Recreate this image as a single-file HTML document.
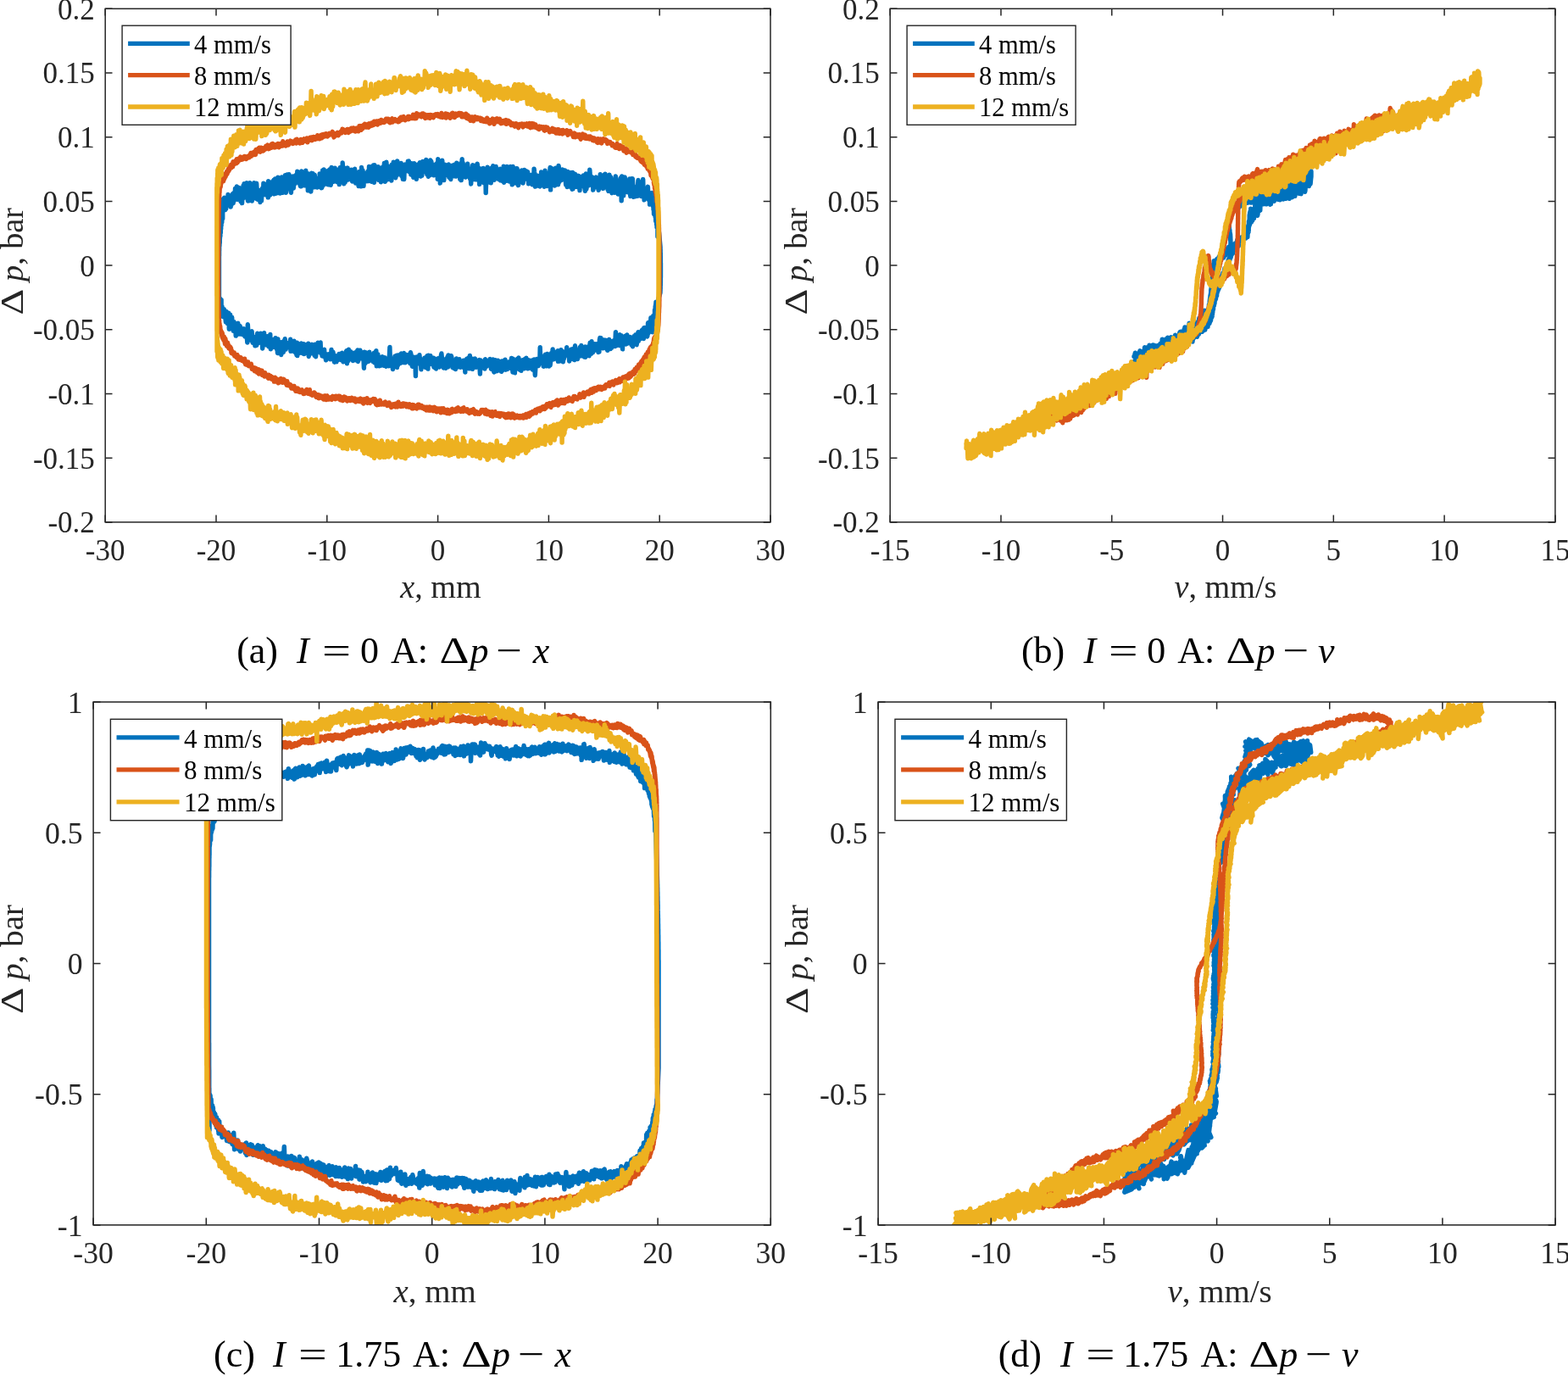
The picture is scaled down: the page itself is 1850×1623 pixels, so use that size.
<!DOCTYPE html>
<html><head><meta charset="utf-8"><title>Figure</title>
<style>html,body{margin:0;padding:0;background:#fff;}svg{display:block;}</style></head>
<body>
<svg width="1850" height="1623" viewBox="0 0 1850 1623" font-family='"Liberation Serif", "Times New Roman", serif' fill="#000">
<defs>
<clipPath id="ca"><rect x="124.20" y="10.30" width="784.80" height="605.60"/></clipPath>
<clipPath id="cb"><rect x="1050.20" y="10.30" width="784.70" height="605.60"/></clipPath>
<clipPath id="cc"><rect x="110.10" y="828.00" width="799.20" height="616.90"/></clipPath>
<clipPath id="cd"><rect x="1036.10" y="828.00" width="799.00" height="616.90"/></clipPath>
</defs>
<rect width="1850" height="1623" fill="#fff"/>
<g clip-path="url(#ca)"><path transform="scale(.1)" d="M2585 3455l0 48 0 52 0-46 0-37 0-18 0 20 0-45 0 124 0-17 0-150 0 132 0-17 0-156 0 60 0 86 0-26 0-80 0 68 0-80 0-12 0-46 0 63 0-36 0 50 0 27 0-119 0-9 0-43 0 120 0 65 0-100 0 93 0-14 0-26 0 3 0-115 0 122 0-95 0 23 0-5 0 15 0-98 0 138 0-156 0-2 0-8 0 30 0-86 0 138 0-41 0-78 0 109 0-120 0 61 0 4 0-48 0-26 0 68 0-55 0-3 0-11 0-11 0 47 0-25 0-31 0 53 0-41 0 123 0-299 0 262 0-146 0 137 0-29 0-113 0 101 0-118 0-11 0 126 0-49 0-9 0-101 0 10 0 62 0-98 0 157 0-104 0 83 0-108 0-8 0-65 0 51 0 85 0 26 0-97 0-12 0-19 0 115 0-196 0 63 0-40 0-7 0 107 0-103 0 65 0-43 0-2 0-53 0 19 0-8 1-54 0 87 0 88 0-13 0-177 0 146 0-149 1 131 0-11 0-113 0-38 0 59 1 5 0-1 0-145 0 134 0 44 1-145 0 119 0-32 0 75 1-15 0-77 0-67 0 114 1-27 0 30 0-48 1 55 0-30 0-108 0-13 1 142 0-97 0-25 1-113 0 148 0-140 0-5 1 178 0-43 0 7 1-41 0-75 0 19 1 36 0-91 0-3 1 12 0 154 1 2 0-85 0 12 1-29 0 17 1-61 0 72 1 0 0-20 1 54 0-16 1-92 0 40 1 1 0-125 1-2 0 10 1 137 1-145 0 49 1-74 0-4 1-25 1 159 0-49 1-41 1 5 0 33 1-71 1 18 0 44 1-117 1 120 1 21 0-109 1 29 1-80 1 54 0 62 1-88 1 41 1-146 1 62 1-9 1 140 1-222 1 90 1-73 1 119 1-69 1-12 1-63 1 60 2-47 1 99 2-34 1-19 2 67 1-60 2-38 2-44 2 12 2 130 3-79 2 82 4-31 3-6 3 24 4-113 3-16 4 24 4-24 4 68 5-108 4 85 4 2 5-72 4-1 5 117 4-57 5 73 5-104 4 81 5-44 4-22 4-65 5 12 4 96 4-118 4 93 5-59 4 32 5-118 4 101 5-57 4-5 5-65 5 127 4 27 5-64 5 28 5 33 5-136 4 81 5 61 5-126 5 147 5-115 5-36 5 170 5-125 5 39 5-121 5 146 5-169 5 16 5 22 5 61 5 27 5-61 4-75 5 96 5 60 5 58 5-65 5 14 5 48 5-170 4-41 5 29 5 106 5-72 5-31 4 182 5-86 5 29 5-108 5 0 5-47 4 176 5-130 5 90 5-73 5 121 5-179 4 76 5-5 5 118 5-14 5-96 5 6 4 62 5-36 5 111 5-104 5-16 5 104 5-119 4-27 5 50 5 22 5-133 5 64 5 9 5-32 4-3 5 99 5-80 5 80 5-48 5-4 5-87 5 169 4-193 5 73 5-10 5-12 5 115 5-90 5-61 5 90 5-3 4-26 5 21 5-99 5 81 5-93 5 167 5-33 5-147 5 174 5-115 5-13 4-24 5 56 5 70 5-165 5 184 5-88 5 81 5-130 5 141 5-14 5-133 5 20 5-63 5 143 4-114 5 154 5-25 5-116 5 118 5-96 5-87 5 134 5 71 5-47 5-115 5-50 5 22 5 65 5-68 5-22 5 161 5-144 5 23 5 134 5 42 5-79 5-93 5 77 5-77 4-22 5 142 5-50 5-49 5-3 5 47 5-53 5-48 5 75 5 6 5-124 5 98 5-33 5 61 5-105 5 121 5-44 5 72 5-132 5 138 5-179 5 69 5-37 5 130 5-122 5 85 5-48 5-22 5 114 5-96 5-81 5 112 5 13 5 42 5-133 5 203 5-58 5-82 5 63 5-88 5 112 5-143 5 208 5-71 4-147 5 133 5-14 5-114 5 154 5-92 5 100 5-147 5 41 5 29 5 36 5-4 5-21 5 68 5-35 5-52 5 9 5-30 5 92 5-145 5 155 5-63 5-41 5 116 5-1 5-18 5-189 5 101 5 73 5-184 5 64 5 17 5-15 5 55 5-28 5 78 5-150 5 135 5-56 5 80 5-5 5-166 5 64 5-76 5 85 5 103 5-33 5-177 5 169 5-117 5 53 5 2 5 62 5-74 5 58 5-144 5 29 5 56 5 19 5-85 5 143 5-107 5-3 5 44 5 27 5 70 5-180 5-18 5 139 5-85 5 114 5-67 5 7 5-166 5 157 5 55 5 37 5-151 5-37 5 170 5-102 5 14 5 40 5-9 4-90 5-23 5 140 5-40 5-68 5 61 5-6 5-59 5 23 5-28 5-2 5 84 5 55 5-25 5-67 5 75 5-57 5-7 5-67 5 140 5 26 5-108 5-15 5 17 5 21 5 24 5 63 5 35 5-168 5 78 5-22 5-20 5 19 5 116 5-224 5 157 5 7 4-130 5 93 5 91 5-139 5 72 5-40 5 17 5 33 5-46 5-51 5 99 5-49 5-70 5 65 5 52 5-172 5 54 5-8 5 17 5 61 5-121 5 175 5-42 5-27 5-97 5-25 5 126 5 75 5-206 5 61 5-30 4 26 5-32 5 2 5 40 5-1 5-38 5-6 5 155 5-114 5-18 5 87 5-20 5 89 5-6 5-69 5-91 5-10 5 3 5 62 5 5 5-116 5 125 5 94 5-75 5-75 5-81 5 143 5-13 5 76 5-114 5-42 5 84 5-2 5 33 5 22 5-33 5-39 5 102 5-187 5 26 5-18 5 85 4-124 5 74 5 30 5-61 5 130 5 12 5-156 5-31 5 156 5-167 5 132 5-52 5 58 5-76 5 70 5-79 5-21 5 126 5-133 5 151 5-57 5 29 5 66 5-41 5-105 5 148 5-166 5-7 5 53 5 11 5 12 5-81 5 10 5 44 5-88 5 0 5-2 5 124 5-21 5-22 5 28 5 51 5-119 5-14 5 54 5 15 5-16 5 111 5-36 5-128 5 10 5 43 5 65 5-23 5 90 5-149 5 62 5 29 5-71 5-47 5 35 5 15 5-71 5 44 5 120 5-19 5-61 5 73 5-56 5-112 5 123 5-52 5-1 5-39 5 62 5-20 5 11 5-104 5 111 5 63 5-127 5 111 5 39 5-63 5 2 5-95 5 141 5-178 5 102 5-89 5 49 5 93 5-106 5 4 5 91 5 36 5-120 5-2 5 30 5 31 5-71 5 42 5-47 5-11 5 192 5-235 5 68 5 10 5 143 5-147 5 209 5-79 5 13 5-56 5-13 5-133 5 207 5-58 5-104 5 188 5-152 5-32 5 111 5 14 5-105 5 72 5-37 5 9 5 10 5 7 5-83 5 149 5-25 5 35 5-6 5 22 5-95 5-52 5 108 5-123 5 83 5 17 5-66 5 92 5-137 5 130 5 4 5 4 5-97 5-60 4 125 5-81 5 91 5-71 5 67 5-62 5 30 5 92 5-100 5-90 5 202 5-151 5-99 5 189 5-144 5 153 5-17 5 25 5-92 5-5 5 106 5-3 5-3 5-119 5-1 5-33 5 51 5 97 5-52 5-32 5 58 5 59 5-21 5 78 5-149 5 35 5-33 5-75 5 86 5-37 5 118 5-123 5 96 5-136 5 165 5-137 5 138 5-21 5-165 5 71 5-24 5 1 5 26 5 168 5-117 5 57 5-99 5-23 5 26 5 65 5-7 5-48 5-44 5 171 5-62 5-7 5 15 5-105 5 279 5-166 5 59 5-69 5-126 5 159 5-125 5 89 5 50 5-86 5-70 5 110 5 59 5-51 5-57 5-75 5 22 5-40 5 82 5 27 5 57 5-88 5 25 5-58 5-38 5 108 5-38 5 1 5 61 5-71 5 87 5-65 5 22 5 52 5-131 5 138 5-116 5 105 5-34 5 51 5-71 5 39 5-140 5 190 5-60 5-64 5 107 5-136 5 98 5 3 5-136 5 141 5-23 5 52 5-83 5 79 5 9 5-76 5-100 5 106 5 0 5 26 5 82 5-159 5-55 5 75 5 23 5 99 5-145 4-17 5 131 5-77 5-65 5 174 5-174 5 75 5 12 5 111 5-92 5-46 5 106 5-84 5-18 5-28 5 102 5-117 5 60 5 33 5 58 5-40 5-89 5-26 5 109 5-60 5 56 5-57 5-35 5 4 5 48 5-42 5 38 5 103 5-49 5 41 5-23 5-42 5-29 5-3 5-1 5 29 5 87 5-39 5-41 5 68 5-176 5 40 5 31 5 139 5-41 5-1 5-71 5 26 5-41 5 118 5-17 5-28 5-37 5 42 5 49 5-111 5 68 5-127 5 93 5-62 5 78 5-50 5 20 5 9 5 84 5-53 5-137 5 159 5-126 5 7 5 66 5 77 5-148 5 87 5-77 5 33 5-37 5-4 5-74 5 264 5-258 5 34 5 33 5 0 5-57 5 76 5-35 5-8 5 17 5 149 5-50 5-158 5 44 5 138 5-127 5 28 5 6 5 107 5-223 5 55 5 134 5-47 5-32 5 23 5-84 5 57 5 61 5-123 5 74 5-21 5-43 5 35 5 10 5-45 5 62 5 107 5-48 5 15 5 61 4-52 5-129 5 96 5-52 5 101 5-19 5-24 5 77 5-167 5 13 5 105 5 77 5-197 5 193 5-99 5-28 5 12 5 93 5-154 5 62 5 41 5-86 5 99 5 38 5-50 5-83 5 118 5-89 5 31 5 113 5-164 5 68 5 17 4-71 5-6 5 54 5-59 5 21 5-37 5 1 5 139 5 9 5 35 5-163 5-41 5 179 5-133 5 13 5 74 5-61 5 17 5 49 4-6 5-178 5 75 5 64 5-9 5-28 5 9 5-25 5 7 5 145 5-28 5-8 5-99 5 86 5-43 5-52 4-5 5 95 5-61 5 84 5-7 5 5 5 36 5-38 5 9 5-49 5-108 5 8 5 58 5-18 4-21 5 25 5-7 5 121 5-133 5 38 5-69 5 141 5-148 5 118 5 2 5 39 4-31 5-33 5 87 5-101 5 120 5-54 5-138 5 182 5-9 5-147 4 170 5-64 5 83 5-95 5 4 5-11 5 25 5 14 5 60 5-41 4-122 5-32 5 39 5 52 5-27 5 64 5-32 5 115 5-129 4-20 5 36 5-11 5 36 5-102 5 41 5 226 5-287 5 157 5-100 5 24 5 147 5-141 5 104 5-181 6 98 5-33 5 31 5 63 5-120 5 70 5 70 5-26 5 7 5-34 5-106 5 131 5 74 5-140 5-67 5 199 5-50 5-151 5 76 4 8 5 133 5-89 5 75 5-86 5 95 5-102 4-5 5 67 5-45 4 81 5-121 5-68 4 94 5-76 5 50 4-25 5 39 4 1 5 29 4 78 4-168 5 32 4 55 4 51 4-170 5 176 4-79 5 146 4-61 5-59 4 72 4-27 5 55 4-8 4-60 5 21 4-68 4-20 4 94 4 57 3-8 4-4 4-54 3 123 3-28 3-44 3 68 3-126 2 36 3 26 2 24 2 29 2-108 2-14 3 15 2 91 2-27 2 5 2 69 1-73 2 42 2-109 2 108 1 78 2 3 2-133 1 179 2-21 1 24 2-141 1-3 1 151 2-77 1-54 1-4 1 25 1-25 1 41 1 74 1 43 1-8 1-43 1-72 1-51 1 186 1 40 1-1 1-156 1 13 1 69 1 2 1 37 1 34 1 18 0-85 1 110 1-224 1 81 1-11 0 56 1 129 1-157 1 134 0-123 1 45 1 34 0 3 1 64 0-45 1-41 0 25 1 31 0 25 1-68 0-33 1 46 0 11 0 159 0-29 1-154 0 5 0 5 0-25 30 312 0 2 0-4 1 18 0-2 0 6 0-2 0 13 0 8 1 1 0 7 0-5 0 17 0 3 0 5 0 8 0 7 1 0 0 10 0 9 0-9 0 11 0-4 0 15 0 10 0-2 1 0 0 8 0 9 0-4 0 5 0 15 0-4 0 12 0-1 0 3 0 17 0 6 0-4 0 20 1-5 0 7 0 3 0-1 0 15 0 1 0 7 0 3 0 3 0 18 0-4 0 2 0 9 0-4 0 13 0 17 0-12 0 11 0-4 0 11 0 11 0-6 0 6 0 15 0 1 0 7 0 4 0-4 0 3 0 4 0 17 0-4 0 3 0 11 0 7-1 7 0-5 0 21 0-7 0 11 0 4 0 12 0 5 0 9 0 9-1 6 0-1 0 4 0-1 0 15 0 6-1 4 0 10 0 1 0 19 0-3 0-2 0 10-1 10 0-8 0 12 0 2 0 8 0 2-1 8 0 7 0 6-50 171 0-24 0-39 0 47-1-40 0 68-1 13 0 26-1-8 0-85-1 24-1 6-1 44 0 33-1-5-1-70-1 32-1 66-1 15-2 42-1-82-1-31-1 132-1 25-2-99-1 28-1 40-2-14-1-7-2 14-1 48-2-3-1-4-1-68-2-24-1 61-2 53-1-89-2 46-2 87-2 36-2-89-2-47-2 13-2 19-2 60-3-2-2 18-3-143-3 76-3 51-2-60-3 26-3 33-3 6-4-53-3 66-3 36-3-124-4 9-3 110-3 37-4 10-3-105-4-1-3 32-4 67-3-61-4-35-3 75-4-59-3-17-4 49-3-47-4 127-3-67-4 62-4-34-4-66-4 61-3-52-4 77-4-41-5 48-4 16-4 0-4-40-4 14-5-51-4 100-4-104-5 44-4 52-5 30-4 23-5-111-5-4-4-1-5 51-5 37-4-25-5-46-5 90-5-68-4 97-5-38-5-63-5 82-4-36-5-30-5 29-5-56-5 63-5-20-4 11-5 3-5-24-5 45-4-104-5 90-5-55-5 76-4-97-5 52-5 22-4-4-5-37-5 62-4-78-5 139-5-89-4 32-5-106-5 40-4 51-5-8-5-91-5 127-4-102-5 50-5 43-5-8-4-64-5-7-5 26-5 65-5-162-4 98-5 71-5-20-5 1-5-31-5 23-4-36-5 9-5 30-5 43-5-34-5-43-5 89-4-28-5-65-5-19-5 5-5 99-5-58-5 83-5-86-5 70-4-100-5 58-5-62-5 71-5-40-5 16-5-51-5 80-5 19-5-78-5 59-5-28-4-18-5-57-5 80-5-82-5 24-5 142-5-52-5 58-5-89-5 52-5-63-5 33-5-10-5 9-4 35-5-66-5 0-5 79-5 1-5-42-5 62-5-27-5 23-5-125-5 143-5-40-5 19-4-107-5 79-5 76-5-25-5-24-5-60-5 53-5 25-5-6-4-14-5-44-5 109-5-123-5 115-5 4-5-57-5-22-4 62-5-40-5-38-5 40-5-78-5 124-5-55-5-49-4 27-5 37-5 3-5-11-5 65-5 20-5-44-5-63-4 35-5 7-5 10-5-103-5 52-5 116-5-67-5-59-4-5-5 82-5-11-5 46-5-113-5 83-5 7-5-2-5 4-4 49-5-95-5 43-5-78-5 4-5 33-5-71-5 56-5 2-4 28-5 6-5-3-5-23-5 70-5-1-5 37-5-89-5-37-4 18-5 7-5-39-5 19-5 56-5 58-5-119-5 61-5-40-5 101-4-127-5 47-5 39-5 0-5-4-5-57-5-6-5 69-5-36-5 49-5-54-4 52-5-116-5 85-5 40-5-83-5 36-5 66-5 45-5-78-5 4-5 85-5-44-5-56-5-27-4-19-5 10-5 16-5 119-5-130-5-5-5 12-5 63-5 53-5 9-5-41-5-55-5 36-5-9-5-5-5 35-5-43-5-141-4 174-5-27-5 32-5 38-5-23-5-45-5 36-5-48-5 35-5 13-5 60-5 84-5-106-5-81-5 29-5 24-5 42-5 25-5-109-5 56-5-54-5 90-5-20-5-55-5 22-5-6-5 56-5-96-5 105-5-11-5-25-5-11-4-81-5 37-5-5-5-19-5 42-5 71-5-45-5-40-5 67-5-82-5 44-5-22-5 105-5-82-5 3-5 44-5 22-5-70-5-71-5 108-5-66-5-28-5 114-5-33-5-40-5-14-5 21-5 117-5-97-5-46-5 60-5-85-5 159-5-114-5-3-5-48-5 123-5-23-5-31-5-27-5 12-5 16-5 4-5-27-5 10-5 73-5-74-5 65-5-18-5 34-5-121-5 50-5 21-5 46-5-102-5 99-5 13-5 5-5-113-5 124-5-83-5-24-5 3-5 91-5-100-5 49-5-3-5-64-5 36-5 7-5 83-5-68-5-47-5-16-5 47-5 53-5 42-5-17-5-83-5-50-5 26-5-23-5 67-5 42-5-84-5-13-5-19-5 68-5-39-5 2-5-6-5 51-5-11-5-43-5 15-5 55-5-76-5-15-5 113-5-85-5 43-5-45-5 16-5 56-5-55-5-7-5 67-5-55-5-36-5 161-5-96-5-70-5 44-5 28-5-54-5 35-5-40-5 15-5 61-5-51-5 45-5-97-5 102-5-66-5-22-6 66-5-78-5 122-5-58-5 49-5-1-5-16-5 2-5-135-5 80-5 73-5-126-5 102-5-62-5-21-5-10-5 22-5-10-5 10-5 137-5-119-5 47-5 20-5-86-5 13-5 27-5-31-5 60-5-23-5-19-5 53-4-46-5-6-5-44-5 93-5-3-5-8-5-20-5 14-5-41-5-41-5 25-5 101-5-67-5 55-5-75-5 73-5-17-5-33-5 42-5-54-5-66-5-17-5 50-5 54-5-84-5-7-5 98-5-6-5-113-5 139-5-119-5 92-5-25-5 47-5 20-5-25-5-77-5 98-5-100-5 102-5-71-5 32-5-78-5 0-5-54-5 22-5 35-5 56-5-8-5 56-5-54-5 16-5-65-5 65-5-49-5-10-5 47-5 69-5-110-5 53-5-1-5-66-5 106-5-110-5 22-5-11-5 45-5 18-5-2-5-55-5-43-5 13-5 63-5-8-5-39-5-34-5 160-5-45-5-109-5 82-5 15-5 31-5 9-5-95-5-17-5 23-5 54-5-63-5 57-5-1-5 4-5-29-5 92-5-114-5 15-5-20-5-54-5 58-5 15-5 20-5 7-5-77-5 4-5 43-5-44-5 223-5-186-5 19-5 11-5 46-5-87-5-29-5 0-5 113-5-28-5-36-5-82-5-19-5 131-5-63-5 20-5 0-5-60-5 83-5-53-5-25-5 69-5-15-5 19-5-84-5 100-5-63-5-28-5-22-5 109-5 0-5-10-5 6-5-36-5-66-5 74-5 42-5-42-5 1-5-28-5-26-5 67-5 54-5-120-5 143-5-141-5 92-5-41-5-8-5-34-5 74-5 6-5 28-5-76-5 121-5-74-5-9-5-39-5 26-5 53-5-47-5-170-5 99-5 22-5 103-5-70-5 47-5-50-5 2-5 68-5 5-5-20-5-2-5-83-5 59-5 38-5-74-5-4-5-13-5-15-5 57-5 47-5-56-5 36-5-50-5-5-5 82-6-66-5-28-5-45-5 24-5 36-5 80-5-183-5 54-5 16-5 29-5 43-5-115-5 71-5-57-5 86-5-22-5-23-4-18-5 10-5-26-5 22-5 32-5-85-5 77-5 32-5-52-5-45-5 75-5 28-5-48-5 54-5-118-5 129-5-93-5-39-5 189-5-124-5-3-5 17-5-71-5 3-5 36-5 28-5-74-5-22-5 84-5-30-5 6-5 52-5 20-5-134-5 13-5 88-5-74-5 55-5 37-5-89-5 71-5-70-5 83-5-46-5 57-5-48-5 34-5-26-5 9-5-78-5 46-5-17-5 50-5-25-5-79-5 133-5-70-5 39-5 65-5-150-5 6-5 89-5-17-5-4-5 35-5-52-5 54-5 19-5-74-5-10-5-21-4 10-5 56-5 16-5-28-5-17-5 35-5-61-5 68-5-43-5 29-5-30-5 42-5 27-5-2-5-2-5-68-5 64-5 12-5-41-5-32-5-44-5 82-5-60-5-15-5-37-5 112-5-49-5 50-5-49-5 40-5-52-5 33-5-21-5 31-4-39-5 15-5 23-5 30-5-22-5-19-5 3-5-89-5 38-5 9-5 1-5 12-5 18-5-57-5 5-5 20-5-128-5 52-5-1-5 23-5 34-5-27-5-79-5 110-5-7-5-8-5 20-5 51-5-55-5-89-5 131-5-101-5 57-5-69-5 90-5-95-5 21-5-34-5 27-4 79-5-94-5 87-5-80-5 84-5 39-5-154-5 24-5-2-5 85-5-63-5 68-5-43-5-4-5-52-5 6-5 106-5-120-5 84-4 15-5 3-5 6-5-112-5-2-5 4-5 94-5-19-5-61-5 98-5-28-5-29-4-6-5 93-5-153-5 146-5-77-5-45-5 93-5-113-5 99-5-125-4 105-5-18-5-66-5 99-5-71-5-32-5 31-5 75-4-141-5 95-5-5-5-3-5 8-5-8-5 5-5-5-4-46-5 22-5-10-5 64-5-73-5-50-5 104-5-57-4 51-5 59-5-45-5-78-5 79-5 19-5 56-5-78-4 52-5-116-5-6-5 39-5 78-5-50-5-105-4 167-5-65-5 18-5-38-5 14-5-107-4 19-5 77-5-57-5-23-5 92-5-47-4 3-5-23-5-25-5 6-5 10-4 97-5-172-5 88-5 57-5-73-4 72-5-110-5 61-5-73-5 8-4 67-5 26-5-95-5 38-4 16-5 20-5-119-5 124-4 3-5 6-5 50-4-162-5 35-5 1-5-31-4-21-5 7-5 42-4-31-5 61-5-32-4 68-5-16-5-100-4 33-5 107-4-57-5-2-5-26-4 92-5-53-4-17-5 38-5-76-4 25-5 48-5-64-5-72-4 31-5 2-5 35-5-28-5 5-5-11-4 72-5-57-5-55-5-74-5 212-5-61-5-46-5-24-5 61-4 2-5-3-5-64-5-10-5-17-5 26-4 28-5 12-5-9-5-21-5 3-4-26-5-34-5-12-4 96-5-25-5-39-4 35-5-100-4 125-5 8-4-38-5-2-4-62-4 118-5-116-4 61-4-1-4-62-4-47-4 16-4 90-4-23-4-12-4-56-4-68-3 43-4-23-4 71-3-47-4 4-3-80-3 96-4 63-3-96-3 108-3-112-3-77-3 78-3 40-3-100-4 105-3-95-3 13-3 44-3-26-3-78-3 76-2 51-3-32-3-99-3 42-3 21-2-70-3 65-3-7-2-74-3 84-2-38-2 2-3-36-2-1-2 77-2-58-2 42-2-2-2-99-2 38-1-11-2-18-2-15-1 104-1-180-1 96-2 90-1-158-1 18-1 63-1-95-1 78-1-74-1 11-2 10-1-50-1 37-1 69-1-51-1-51 0 80-1-34-1 22-1-21-1-52 0-3-1 112-1-57 0 5-1-42 0 107-1-26 0-63 0 23-1-65 0-14 0 51 0-38" stroke="#0072BD" stroke-width="54.0" fill="none" stroke-linejoin="round" stroke-linecap="round"/></g>
<g clip-path="url(#ca)"><path transform="scale(.1)" d="M2576 3319l0-32 0-7 0-18 0 7 0-20 0-10 0-8 0 19 0-27 0-23 0-6 0 18 0-18 0-9 0 10 0 22 0-21 0-30 0 29 0-44 0 22 0-57 0 22 0-17 0 2 0 11 0-19 0-13 0-19 0 41 0-16 0-22 0 19 0-8 0-2 0-30 1-12 0 16 0-10 0-19 0-21 0 20 0-37 0-3 0 6 0-7 0-3 0-6 0-8 0 13 0-5 0-4 0-33 0 25 0-48 0 16 0-11 0-1 0 14 0 2 0-44 0-5 0 28 0-43 0 10 0-15 1 13 0-28 0-17 0 9 0-16 0-27 0 13 0 17 0-7 0-23 0-4 0-4 0-11 0-12 0-4 0-10 0 3 0 11 0-33 0-1 1-6 0 6 0-13 0-38 0 36 0-11 0-25 0-11 0 34 0-6 0-49 0 25 0-31 0 36 0-21 0-1 0-26 0-24 0-8 1 29 0-3 0-4 0-36 0-2 0-1 0 1 0 3 0-15 0-5 0-9 0 15 0-46 0 43 0-31 0 19 1-7 0-27 0 12 0-6 0-25 0-31 0 22 0-26 0 4 0 5 0 3 1-8 0-16 0-9 0 9 0-13 0-13 0-28 0-2 1-12 0 43 0-21 0-8 0-37 0-22 1 5 0 18 0-26 0 21 0 2 1-42 0-1 0 26 0-23 0-16 1 11 0-24 0 6 0-11 1-16 0 23 0-18 0-22 1 35 0-32 0-7 1-6 0-17 1 27 1-20 1-19 0-33 1 28 1-22 2-32 1 36 1-19 1 0 2-16 1 28 1-18 2-12 1-39 2 33 2-14 1-1 2-32 2 0 3 11 2 10 3-6 3-5 3-29 3 2 3 33 4-15 3-8 3-16 3 10 3-43 3 0 4-13 3 32 3-16 3-9 4-28 3 24 4-35 3 29 4-32 3 10 4-31 3 25 4-20 4-27 3 29 4-44 4 3 4 20 4-6 4-35 3 37 4-9 4-20 4 3 5 15 4-61 4 17 4 16 4-28 4 7 5 11 4-1 4-6 5-32 4 37 5-50 4 5 5 33 5-23 5-11 5 3 5-17 5 22 5-6 6-33 5 15 5 17 6-13 5-1 6 11 6-27 5 3 6-12 5 1 6 16 6 9 5 5 6-16 6-12 5 16 6-8 5 1 6 2 5-27 6 0 5-7 6-20 5 38 6-26 5 14 6-23 5 4 6-16 5 31 6-7 5-22 6 27 5-59 6-2 5 31 6-13 5-8 6-20 6 27 5-38 6 0 5 50 6-25 5 1 6-25 5 4 6 23 6 9 5-3 6-28 5 12 6-15 6 15 5-36 6 5 6-10 5 25 6-33 6 38 5 8 6-3 5-14 6-20 6 20 6 3 5-43 6 27 6-33 5 23 6-15 6 14 5 23 6-18 6 16 6-8 5-25 6 21 6-1 6-30 6 21 5 23 6-31 6 12 6-24 6 28 6-22 5 1 6 19 6-53 6 34 6-4 6-10 6 20 5-4 6 16 6-8 6-16 6-27 6 22 6 19 6-20 6-20 6-1 5-7 6 13 6-8 6 23 6-2 6 7 6-23 6-4 6 6 6-17 6 29 6-38 6 42 6-48 5 21 6 6 6-15 6 8 6 4 6 24 6-12 6-34 6 11 6 7 6 21 6-10 6-26 6-8 6 16 6-13 5 8 6 12 6-1 6-31 6 48 6-24 6 9 6-21 6-5 6-15 6 20 5 11 6-34 6 38 6-23 6-8 6-11 6 0 6 2 6 27 5-1 6-28 6 0 6 19 6-38 6 41 6-22 6 18 6 5 5-18 6 13 6-37 6 16 6 15 6-40 6 21 6-22 6 26 5-26 6 15 6 6 6-30 6 3 6 22 6 7 6-12 6-11 5 8 6-21 6 13 6-10 6 0 6 11 6-19 6-14 6 23 5 14 6 28 6-25 6-15 6 22 6-3 6-26 6 4 6-12 5 15 6 18 6-19 6-3 6-6 6-12 6-7 6 20 6-14 5-34 6 33 6-16 6 11 6-16 6 20 6 11 5-11 6-8 6 4 6-25 6 13 6 27 6-5 6-36 5 27 6-18 6 15 6-36 6 30 6-17 6 0 5-16 6 35 6 0 6-28 6 35 6-4 5-36 6 17 6 3 6-14 6 31 6-8 5-53 6 19 6-21 6 32 6 15 6-25 5 9 6-1 6-38 6-3 6 0 6-11 5 2 6 35 6 0 6 0 6-33 6 33 5-15 6 16 6-43 6 12 6 18 6-3 6-1 5-34 6 31 6-34 6 17 6 9 6-41 5 34 6-15 6 3 6 7 6-32 6 13 5 29 6-31 6-13 6 20 6 0 6-13 6 17 6-36 5 7 6-2 6 16 6 6 6-18 6 21 6-7 6-4 5-5 6-27 6 16 6 3 6-18 6-1 6 32 6-1 6-12 5 27 6-11 6-3 6-30 6-6 6 42 6-12 6-15 6-3 5 6 6-11 6 22 6 2 6-2 6-8 6 4 6 15 6-13 6 8 6-35 5 10 6 1 6-27 6 35 6-13 6-15 6 2 6-15 6 25 6-3 6 20 6-17 6 2 5-9 6 4 6 4 6-28 6 33 6-32 6 9 6 3 6 1 6-9 6 16 6-11 6 9 6-41 6 30 6-21 5 37 6-37 6 9 6 27 6-59 6 16 6-8 6 25 6-14 6 3 6-10 6 9 6 14 6 5 6-21 6-16 6 31 6-33 6 35 6-20 6 33 6 7 6-41 6 23 6-4 6 15 6-30 6 29 6-28 5 33 6 3 6-39 6 16 6 9 6-22 6 2 6 5 6 23 7-19 6-14 6 2 5 4 6-14 6 16 6-9 6 12 6-21 6 18 6 9 6-3 6 10 6 1 6-16 6-29 6 32 6 18 6-26 6 21 6-5 6 4 6-10 6-29 6 51 6-25 6-11 6-10 6 6 6 22 6 5 6-5 6 20 6-15 6-12 6-25 6 9 6-18 6 15 6 33 6-12 6 17 6-33 6-11 6 7 6 17 6-9 6 5 6-4 6-23 6 14 6-3 6-10 6 16 6-13 6 40 6-33 6 33 6-25 6 17 6-7 6 2 6 16 6-39 6 20 6 33 6-5 6-32 5 26 6 21 6-28 6 19 6 27 6-34 6 9 6-19 6 4 6 10 6 35 6-10 6-17 6-24 6 19 6-6 6 3 6 14 6-22 6 14 6 3 6 5 6-15 6 8 6-7 5 32 6-6 6-19 6 20 6 8 6-8 6 11 6-19 6 19 6 4 6-11 6 13 6-45 6 14 6 31 6-14 6-10 6 45 6-29 6 21 5-25 6-1 6-5 6-19 6 36 6-14 6 41 6-47 6 3 6 19 6-35 6 27 6-32 6 39 6-18 6-8 6 10 6-18 6 42 5-21 6 33 6-8 6-8 6-13 6 23 6-27 6-2 6 3 6-6 6-3 6 47 6-10 6-28 6-3 6 1 6 3 6 30 6 0 6-15 5 13 6 23 6-20 6 19 6 1 6-19 6 14 6-6 6 26 6-27 6-7 6 29 6-26 6 25 6 8 6 13 6-28 6 0 6-14 6-1 6 14 6-17 6-1 6 17 6 22 6-34 6 16 6-18 6 17 5 2 6-14 6 6 6-15 6 31 6-7 6-19 6 32 6-42 6 5 6 48 6-46 6 7 6-12 6 44 6-15 6-25 6 38 6-27 6 30 5-31 6 17 6 21 6-1 6 8 6-5 6-10 6 26 6-35 6 5 6 5 6 4 6-9 5 11 6 7 6-11 6-5 6 39 6 4 6-20 6 15 6-38 6 4 5 29 6-27 6 21 6-5 6 18 6 20 6-20 6 6 5-16 6 11 6 11 6-37 6 29 6-20 6 33 5-30 6 15 6 11 6 19 6-10 6 10 6-43 5 0 6-1 6 24 6 25 6-2 6-30 5 8 6-13 6 35 6 7 6-45 6 12 5 9 6-6 6 16 6-16 6 18 6 0 5-31 6 27 6 28 6-31 6 11 6-13 5 12 6-25 6 23 6 11 6-5 6 7 5 13 6 20 6-29 6-15 6 3 6 45 5-30 6 7 6-7 6 18 6-18 6 24 5 0 6-26 6 12 6 29 6 14 6-53 5 0 6 10 6-19 6 43 6-23 6 16 6 13 5-38 6 42 6-8 6-7 6 16 6-17 6 3 5-8 6 6 6 22 6-31 6 14 6 10 6 3 5-14 6 33 6 1 6 3 6-29 6 7 6 8 5 17 6 2 6-18 6 33 6 4 6-47 5 36 6-20 6 27 6-24 6-15 5 27 6 22 6-20 6-18 5 5 6-18 6 23 6-2 5-11 6-2 6 18 5-12 6 8 6 34 6-18 5 3 6-5 6 12 6-11 5 1 6 16 6-3 6 4 5 24 6-20 6 21 6-8 5 2 6 4 6 24 5 2 6-9 6 4 6-42 5 33 6 18 6-22 5 4 6 28 6-41 5 5 6 7 5-3 6 14 5 8 6-13 5 2 6 45 5-20 6-3 5 18 6-15 5-7 5 50 6-20 5-8 5-7 5 10 6 12 5-1 5-3 5-3 5 0 5 5 5 13 5-9 5-13 5 12 5 34 5-14 5 12 5-25 5 1 5 21 5 28 5-3 4 10 5-4 5 10 5-12 4 8 5-4 5-12 4 29 5 6 4-26 5 20 4 26 4-28 5 39 4-10 4 9 4 10 4-42 4 24 4 0 4-10 4 6 4 50 4-30 4 34 4-26 4 26 4-12 4 27 3-13 4-27 4 26 3 41 4-24 3 26 4-24 3 23 3-6 3 31 3-28 3 10 2 0 3 5 3 32 2 3 3 32 2-38 3 0 2 17 3 1 2 23 2 16 2-17 2 27 3-18 2 28 1-5 2 11 2 2 2-8 2 8 1-6 2 48 1-9 1 13 2 19 1-20 2 9 1 8 1-8 1 49 2-10 1-14 1 12 1 14 1 37 2-20 1-12 1 13 1 14 1 1 1 14 1 15 1 20 1-11 1-2 0-1 1 3 1 18 1 15 1-12 0 9 1-8 1 36 1-17 0 38 1-30 1 42 0-17 1 6 0 14 1-34 1 7 0 17 1 23 0-11 1 34 1-22 0 27 1-15 0 16 1-19 0 36 1-33 0 41 1-14 0 2 1 19 0-13 1 38 0-8 1 26 0 8 1-6 0 2 1 2 0-10 1 51 0-24 1 15 0 19 0 3 1-4 0 15 1 28 0-18 1 46 0 2 0-30 1 26 0 16 0-4 0-16 1 47 0-17 0 17 0 25 1-45 0 45 0 4 0-27 1 23 0 16 0-23 0 14 0 3 0 26 1 12 0-11 0 28 0-27 0 23 0 10 0 6 1-24 0 20 0-3 0 11 0 28 0-24 0 24 1-30 0 41 0 5 0-33 0 30 0-7 0 31 0-15 1-2 0 48 0-37 0 56 0-19 0-27 0 40 0 15 0-30 0 53 1 10 0-38 0 26 0 12 0 18 0-31 0 22 0 24 0 18 0-24 0 40 0-23 0 25 0-6 0 8 0-2 0 16 0-2 0-6 0 20 0-22 0 25 0 13 0-14 0 25 0 13 0-5 0 18 0-20 0 4 0 2 0 14 0 7 0 19 0 25 0 3 0-23 0-8 0 9 0 17 0 47 0-39 0 11 0-7 0 11 0 2 0 36 0-7 0-9 0 40 0-17 0 38 0-27 0 57 0-14 0 22 0-40 0 5 0 33 0-22 0 14 0 14 0-1 0 46 0-6 0-12 0 26 0-27 0-6 0 26 0 33 0 3 0-7 0 14 0-25 0-5 0 42 0-3 0-3 0 19 0 9 0-2 0-17 0 38 0-8 0-8 0 44 0 12 0-31 0 23 0 7 0-12 0 4 0 42-1-6 0 5 0 9 0 13 0-26 0 33 0 26 0-25 0 20 0-13-1 38 0-26 0 4 0 23 0-1 0 45 0-36-1 28 0-2 0-22 0-3 0 51-1-3 0-13 0 2 0 29 0-16-1 46 0 7 0-6 0-11 0-1-1 2 0 4 0 16-1 2 0 1 0 28 0-22-1 57 0 8 0 2-1 3 0 3 0 8-1 25 0 5 0-12-1 14 0-10 0 25-1-5 0 21-1-4 0-12-1 12 0-16-1 5 0 25 0 2-1 32-1-10-1 21-1 3-1 0-1-2-2 0-2 9-1 27-2 12-2-11-2 25-2 5-2-32-2 39-2-18-2 9-2 23-3 13-2-22-2 28-2-32-2 33-2-2-3 43-2-58-2 11-2 18-2 17-3 12-2-1-2 15-3 13-2-7-3 6-2 20-3 3-3 12-2 12-3-31-3 35-3-32-2 27-3 18-3-33-3 48-3-33-3 4-2 21-3 5-3 25-3-13-3 12-3-23-3 15-3 21-3-2-3-1-3 2-3 31-3-36-3 56-3-9-3 5-3-20-3 40-3-45-4 33-3-20-3 40-3-14-4 36-3-39-3 5-4 23-3 34-3-36-4-6-3 20-4-7-3 41-4-4-3 15-4 21-4-30-3 27-4-45-4 45-4-23-4 28-4-6-4 21-4-33-4 25-4 22-4-1-4 5-5-30-4 52-5-7-4 15-5-24-4-6-5 9-5 3-5 20-4 10-5 9-5 7-5-40-5 37-5-32-5 55-5-43-5 32-5-22-5 14-5 24-5-5-5-23-5 30-5-27-5 32-5-13-5 5-5 13-5-28-5 44-5-8-5-18-6 13-5-6-5 17-5 14-6-39-5 6-5 10-6 24-5 8-5-7-6 9-5-7-6-25-5 31-6-12-5 8-6-7-5 35-6-19-5-21-6 28-5-3-6-17-5 10-6 9-6 27-5-42-6 24-6 3-5 4-6 9-6 1-5-16-6 0-6 15-5 27-6-23-6 14-5-6-6 20-6-12-6 6-5 16-6-13-6-19-6 6-5 5-6 16-6-27-6 1-5 12-6 9-6 4-6 17-6-27-5 17-6-16-6 29-6 12-5-39-6 27-6-12-6 38-5-29-6-12-6 20-5-3-6 25-6 12-6-2-5-13-6-11-6 27-5-18-6 19-6-5-5-5-6 19-6 25-5-54-6 24-6 6-6 7-5 4-6 17-6 4-5-28-6-15-6 40-6 2-5-9-6 7-6 21-6-6-5-11-6 13-6-10-6-20-5 13-6-13-6 29-6 0-5 30-6-33-6 4-6 15-6-15-5-4-6 24-6-35-6 22-5-5-6 26-6-10-6-5-6-10-5 11-6 23-6 14-6-33-6-7-5 39-6-12-6 7-6-23-5-12-6 30-6 14-6-10-6-10-5 21-6 21-6-12-6-50-5 36-6-15-6-4-6 19-5 21-6-31-6 24-6 1-5-23-6 37-6-29-6 24-5 25-6-36-6 1-6-13-5 34-6-4-6-19-5 21-6-21-6 15-5 28-6-3-6-13-5 32-6-33-6 20-5 1-6-17-5 12-6 22-6-10-5-10-6 12-5 25-6-32-6 26-5-4-6-2-5-14-6 17-6 9-5 23-6-37-5 7-6 6-6 10-5 7-6-8-5 23-6-24-6 19-5-4-6 22-6 9-5-33-6 44-6-10-5-26-6 28-6-3-5-5-6 27-6-39-5 20-6 10-6-17-6 13-6 21-5-31-6 7-6-1-6 10-6-4-6 15-6-22-6 22-5 1-6-21-6 9-6-7-6-8-6 22-7-6-6-7-6 8-6 13-6-41-6 2-6-11-6 20-6-21-6 34-6 14-6-19-6 5-6-31-6 29-6-32-6 43-6-7-6-28-6-1-6 40-6-6-6-4-6-11-6-24-6 16-6-6-6-10-6 17-6-1-6-22-6 7-6 31-6-39-6 19-6-19-6 29-6-15-6 14-6-26-6 15-6-36-6 33-6-4-6-19-6-4-6 49-6-53-6 40-6-11-5 16-6-43-6-3-6 15-6-16-6-4-6 27-6 8-6-22-6-10-6-22-6 48-6-35-6 8-6-11-6-7-6 15-6 0-6-15-6 23-6 9-6 10-6 4-6-16-6 2-6-2-6 15-6-23-6-4-6 3-6 17-6 8-6-38-6-5-6-13-6 31-6-18-6 14-6 11-6-26-6 19-6 5-6 11-6-20-6-12-6 18-6-32-6 13-6-2-6 10-6-14-6 7-6-6-6-27-6 46-6-19-6-16-6 18-6-13-6 30-6-24-6 5-6-8-6-6-6-14-6 43-6-8-6-23-6 14-6 23-6-17-6-5-6 10-6-9-6 16-6 9-6-37-6 44-6-11-6-4-6 21-6 4-6-36-6 9-6 25-6-43-6 43-6-37-6 26-6-30-6-1-6 33-5-4-6-44-6 21-6 13-6-23-6-11-6 51-6-26-6-1-6-21-6 25-6-23-6 28-6-32-6 40-6-26-6-15-6-8-6 18-6-25-6 1-6 45-6-41-6 33-6-33-6 7-6 17-6 9-6-41-6 13-6 27-5-8-6-9-6-22-6 1-6 37-6-19-6 2-6-19-6 20-6-23-6-1-6-4-6 16-6-26-6 16-6-8-6 14-6-21-6-13-6 33-6-34-5 40-6-4-6 11-6-29-6 7-6-9-6 14-6-24-6-1-6 42-6-45-6 44-6-5-6-12-6-25-6 5-6-14-6 17-6 16-6-11-6-20-6 17-6 10-6-32-6 12-6-9-6 4-6-11-6 9-5 23-6-31-6 21-6-7-6 20-6-13-6-15-6-5-6 22-6-43-6 46-6 12-6-43-6 34-6-28-6 37-6-21-6-11-6 20-6-18-6 23-6-21-6 8-6 27-6-32-6 14-6-1-6-38-6 2-6 21-6 2-6 10-6-25-6 0-6-9-6-10-6 7-6 24-6-6-6 2-6 0-6-8-6 10-6-22-6-4-6-21-6 17-6 34-6-16-6-3-6-22-6 45-6-35-6 28-6-43-6-19-6 14-6 5-6-23-6 13-6 19-6-22-6 15-6 7-5 8-6 11-6-13-6-14-6-15-6 35-6 5-6-55-6 48-6-35-6 16-6-7-6 30-6-42-6 53-6-21-6-31-6 34-6-21-6-9-6-11-6 34-6-24-6 22-6-22-6-2-6 15-6-5-6 5-6 15-6-10-6-31-6 14-6 13-6-14-6-2-6 10-6-28-6 22-6 1-5 10-6-11-6-17-6-1-6 3-6 12-6 18-6-15-6-12-6-15-6 15-6 11-6-34-6 16-6 12-6 19-6-39-6 22-6-3-6-6-5 17-6-46-6 0-6 12-6-10-6 27-6-23-6 20-6-25-6 12-6 23-5-9-6-18-6 21-6-24-6-3-6 22-6 16-6-10-6-12-5-2-6 1-6 20-6 2-6-8-6-23-6-12-6 17-5 30-6-41-6-5-6 38-6-25-6 29-6-38-6 28-6-21-5-5-6-6-6 3-6 7-6 11-6-30-6 37-6-31-5-10-6 14-6 8-6 5-6-17-6-25-6 11-5-23-6 11-6 4-6 12-6 7-6-6-5-4-6-7-6 4-6-52-6 27-5-10-6 28-6-8-6-11-6-30-5 8-6 27-6 10-6-3-5-12-6 21-6-1-6-25-5-6-6-14-6 9-6-6-5 20-6 3-6-17-5-5-6-3-6-17-5 34-6-36-6 32-5-1-6 1-6-29-5 12-6-41-5 31-6-30-6 6-5-5-6 2-5 21-6-32-5-10-6 14-6-19-5 12-6-17-5 19-6-8-5-43-6 46-6-31-5 12-6-21-5 10-6-33-5 28-6-35-5 2-6 39-5-38-6 0-5 21-6-30-5 17-6 26-5-16-6 6-5 19-6-17-5-13-6-18-5 5-6 4-5 21-6-47-5 47-5 1-6-34-5 13-6-10-5-6-5-18-6 25-5-13-6-22-5 18-5 8-6-3-5-37-5 40-6-38-5 7-5 2-6 5-5-2-5-21-5-17-6 42-5-13-5-25-5 8-6-22-5 37-5-53-5 39-5-42-5 12-6 0-5-14-5 11-5 32-5-52-5 34-5-34-5 36-5-24-5-7-5-19-6 21-5-26-5 38-5-39-5 14-5-6-5-2-5-9-5 19-5-34-5-27-5 22-5-1-5-4-5-12-5 9-6 9-5-46-5 34-5 1-5-11-5-11-5-9-5 25-5-44-5-23-5 40-5-22-5 11-5-19-5 13-5-20-5 18-5-24-5-12-5 8-5 0-5 8-5 9-4-32-5 31-5-33-4-7-5-16-5 34-4-21-5-12-4 5-5 5-4-19-5 24-4-42-4 8-5 12-4-9-4-18-4 8-4-18-4 4-4 19-4-53-4-12-4 8-4-19-3 0-4 17-3-15-4 20-4-40-3 19-4 1-3-50-4 26-3 2-4 12-3-39-3-15-4 13-3 5-3-51-4 63-3-26-3-21-3 9-3-50-2 18-3 26-3-14-2-3-3-4-2 0-2-10-2-48-2 3-2 35-1-49-2 27-2-25-1 29-2-24-2-8-1-4-2-19-1 14-2-11-1-3-2 20-1-12-1-26-2-36-1 12-1 12-1-24-2 13-1-36-1-7-1 26-1-30-1 13 0-41-1-8-1 25-1-35 0 24-1-36 0 1 0 22-1-18 0-18 0-1 0-4 0-30-1 1 0 2 0-14 0 1 0-11 0-4-1-11 0 22 0 10 0-15 0-13 0 6 0-11 0-9-1 2 0-10 0-32 0 1 0-3 0-23 0 34 0-5-1-34 0 20 0-34 0 27 0 5 0-11 0-3 0-61 0 7 0 50 0-62-1 35 0-20 0-26 0 11 0 5 0-16 0 8 0-29 0-24 0 19 0-26 0-5 0 17 0-13 0 5 0-19-1-41 0 13 0 19 0-25 0-22 0 6 0 14 0-2 0-44 0-9 0 8 0 3 0-30 0-16 0 2 0 14 0-9 0-15 0 16 0-15 0-32 0 12" stroke="#D95319" stroke-width="54.0" fill="none" stroke-linejoin="round" stroke-linecap="round"/></g>
<g clip-path="url(#ca)"><path transform="scale(.1)" d="M2560 4144l0-105 0-6 0-15 0-57 0-35 0 143 0-51 0-79 0-69 0 157 0-113 0 33 0 55 0 21 0-32 0-8 0 11 0 24 0-117 0-82 0 154 0-100 0 82 0-142 0 12 0 56 0-121 0 104 0 94 0-142 0-58-1 14 0 133 0-43 0 8 0-3 0-144 0 143 0-158 0 17 0 108 0 61 0-119 0 64 0-150 0 105 0-15 0 7 0-108 0 27 0 45 0 79 0-157 0 124 0-108 0 66 0-36 0-1 0 47 0-6 0 17 0-6 0-24 0-123 0 22 0 14 0-54 0 150 0-157 0 60 0-33 0 67 0 10 0-110 0-42 0 126 0-18 0-84 0 18 0-71 0 141 0-108 0 96 0-146 0 92 0-105 0 42 0 93 0-115 0 118 0 14 0-96 0-89 0 68 0 34 0-117 0 52 0 111 0-63 0-89 0-27 0 127 0 3 0-78 0-107 0 198 0-156 0-1-1 68 0-146 0 20 0 71 0-27 0 92 0-49 0-117 0 153 0-129 0 112 0-148 0 123 0-161 0 190 0-76 0 12 0-33 0-7 0-116 0 124 0 20 0-4 0-100 0 34 0 10 0-6 0 62 0-75 0 23 0 33 0-26 0-61 0 42 0-76 0-1 0 70 0-84 0 95 0-80 0-19 0 16 0 76 0-172 0 163 0-61 0 50 0-76 0 68 0-15 0-75 0 150 0-201 0 93 0-8 0 39 0-43 0-8 0-11 0 46 0-85 0 12 0-7 0 47 0 2 0-5 0-99 0-49 0 27 0 56 0 50 0-30 0-52 0-77 0 52 0-17 0-66 0 66 0 82 0-80 0 9 0 24 0-13 0-26 0 4 0-10 0-42 0 67 0-80 0 38 0 53 0-65 0-82 0 26 0 6 0-48 0 128 0-114 0-26 0 124 0-158 0 36 0 78 0-41 0-56 0 48 0 17 0 73 0-26 0-135 0 109 0-46 0-87 0-9 0 118 0-213 0 110 0 24 0-48 0 36 0 107 0-159 0 100 0-65 0-25 0-26 0 25 0 23 0-19 0-65 0 1 0 26 0 28 0-60 0-22 0 106 0-74 0 4 0 21 0-2 0-122 0-75 0 156 0-21 0 31 0-135 0 128 0-111 0-67 0 71 0 114 0-33 0-153 0 18 0-6 0-10 0 10 0 29 0-94 0 44 0 44 0-40 0-42 0 181 0-82 0-68 0 115 0-87 0-21 0-79 0-3 0 14 0 78 0-115 0 157 0-196 0 133 0-6 0-16 0-62 0 15 0 51 0-28 0-22 0 110 0-83 0-108 0 76 0 31 0 1 0-35 0 35 0 10 0-70 0-44 0 85 0-48 0-10 0 46 0-7 0-64 0 58 0-151 0 138 0-93 0 15 0-68 0 129 0-45 0-100 0 118 0 1 0-155 0 159 0-42 0-182 0 72 0 70 0 19 0-123 0 103 0-71 0-16 1 84 0-17 0-66 0 52 0-66 0 56 0-9 0-74 0 31 1 8 0-6 0-94 0 37 0 93 0 13 0-63 1 33 0-114 0 61 0 9 0 21 1-101 0 126 0-123 0-55 0 51 1 90 0-42 0 52 0-50 1-53 0-51 0 171 1-168 0 115 0-66 0 35 1-77 0 55 1-122 0 97 1 65 0-200 1 66 1 72 0-4 1-96 1 99 1-134 1 23 1 13 1-10 1 120 1-174 1 201 1-163 1 114 1-7 1 8 1-92 2-2 1 35 1-71 1 64 2-5 1-31 1-82 1 130 2-141 1-1 1 107 2-49 1 24 1 36 2-32 1 10 2 4 1-24 2-21 2 70 2-142 1-4 2 65 2-112 2 27 2 31 2-9 2-41 2 25 3 80 2-49 2-32 2-5 2-64 3 80 2-43 2 27 2-44 3-33 2 73 2-84 3 25 2 18 2 92 3-102 2 105 3-183 2 163 3-155 3 55 2-8 3-90 3 127 2-132 3 37 3 4 3-46 2 63 3 58 3 12 3-118 3-22 3 55 3-70 3 74 3-128 3 55 3 135 3-91 3 10 3 42 3-65 4 18 3 2 3-4 3-50 3-92 4 22 3 4 3 42 4 69 3-116 4-18 3 16 4 80 3-112 4 22 3 32 4 80 3-80 4 16 4 25 4-144 4 19 4 130 4-96 4-60 5 52 4 90 4 14 5-68 4 24 5-41 4 51 5-91 4-11 5 148 4-80 5-69 4 60 5-46 4 101 5-87 4-19 5-37 5-31 4 16 5 44 4 1 4 17 5-15 4 80 5-12 4-87 4 68 5-106 4 44 4 80 5-66 4-71 5 98 4-17 4-33 5 107 4-56 5-103 4 75 5 15 4 72 4-67 5-63 4-34 5 28 4 39 5-39 4-56 4 43 5 66 4-31 5 21 4-71 5 49 4-74 5-32 4 184 5-40 4 7 5-89 4-8 5 22 4 81 5-119 4 17 5 7 4 110 5-29 4-60 5 69 4-157 5 98 4-91 5 57 4 19 5-8 4-88 5 131 5-161 4 43 5 40 4 27 5-25 4 21 5 33 5-55 4-3 5-64 4 128 5 17 5-94 4-27 5 134 4-40 5 30 5-99 4 78 5-116 5 73 4-29 5-65 5 100 4 43 5-88 5 59 4 99 5-97 5 42 5-15 4-166 5 111 5-6 4-5 5 56 5-139 5 132 4 55 5-113 5 11 5-67 4 99 5-15 5-23 5-78 4-10 5 25 5-19 5 121 4-69 5 46 5-93 5 71 5-64 4 17 5 42 5-56 5 45 5 48 4-88 5-78 5 187 5-160 4 43 5-47 5 20 5 54 5-109 4 6 5-17 5 32 5-30 5 146 4-169 5 60 5 86 5-61 5 56 4-143 5 107 5 17 5-18 5-4 4-87 5-7 5 71 5-16 5 7 4 3 5-129 5 119 5-29 4-88 5 83 5-17 5-50 4 74 5 34 5 26 5-78 4 6 5-218 5 182 5 45 4-30 5 27 5-42 5-24 4 20 5-49 5-7 5 50 4 65 5-141 5 177 5-211 4 37 5-23 5 139 5-57 4 3 5 72 5-77 4 34 5-74 5-40 5-23 4 113 5-102 5 47 5 85 4-59 5-76 5 150 4-24 5-33 5-48 5 27 4 39 5-54 5 55 5-20 4-55 5 45 5-44 5 51 4-1 5-86 5 48 4 91 5-112 5 52 5 82 4-185 5 97 5 48 5-76 4-37 5-63 5 24 5-25 4 40 5-13 5 36 5 63 4-20 5 28 5-120 5 76 4-79 5 23 5 56 5 17 4 52 5-78 5 57 5-98 4 100 5-91 5 26 5 52 5-55 4 80 5-181 5 116 5-36 4-47 5-9 5 61 5 44 5-80 4 49 5-7 5 91 5-1 4-162 5 99 5-56 5-60 5 121 4 59 5-62 5-33 5-17 5 25 4 57 5 19 5-24 5-111 5 134 4-90 5 69 5-143 5 19 5 89 4-35 5 9 5 75 5-158 5 62 5 50 4-32 5-72 5 39 5 48 5 42 4-137 5-5 5 112 5-102 5-8 5 40 4 97 5-149 5-28 5-44 5 156 5 27 4-55 5-35 5 127 5-17 5-23 5-64 4 68 5-18 5-83 5 17 5 9 5-89 4 103 5-13 5 60 5-63 5 23 5-36 5 100 4-97 5 71 5-48 5 53 5-150 5 102 5-86 4 129 5-106 5 49 5 15 5-124 5 124 5-55 4 54 5-16 5-76 5 52 5 33 5-90 5 75 5-92 4-13 5 93 5-36 5 82 5-152 5 62 5-53 5 26 5 105 4-26 5 33 5-49 5-53 5 35 5 43 5-115 5 85 5-30 5-16 4-17 5 102 5-63 5-20 5-9 5-22 5 1 5-58 5 2 5 96 5-10 5 62 5-100 4 47 5-17 5-17 5 18 5-3 5 23 5-50 5-44 5 66 5-93 5 112 5-62 5 74 5 72 5-169 4 11 5 65 5 82 5-15 5-118 5 82 5-60 5-51 5 125 5-5 5-110 5 23 5 62 5-6 5-14 5-51 5-26 5 72 5 40 5 31 5-38 4-6 5 52 5-108 5 17 5-30 5 95 5-114 5 154 5-75 5 83 5-115 5 75 5-133 5 4 5 142 5-174 5 96 5-21 5 47 5 31 5-32 5-34 5-43 5 91 5 31 5-99 5 84 5-5 5-65 5-42 5 69 5-160 5 146 5 4 5-125 5 77 5-23 5 54 5-73 5 137 5-83 5-37 5 2 5-18 5 108 5-51 5-33 5-33 5 1 5 25 5 73 5-102 5 73 5 26 5 19 5 1 5-27 5-10 5-114 5 42 5 83 5-94 5 15 5 115 5-96 5 53 5-107 5 22 5 185 5-30 5-120 4 23 5-17 5 73 5-97 5 54 5 47 5-73 5 38 5 56 5-147 5 48 5 125 5-109 5 66 5-116 5 19 5 87 5-99 5 21 5 17 5 144 5-150 5 2 5-46 5 80 5-24 5-18 5 43 5 26 5-77 5 80 5-111 5 35 4 2 5-88 5 39 5-12 5 128 5-143 5 9 5 7 5 101 5 93 5-193 5 62 4 5 5 49 5-9 5-102 5 84 5-21 5 62 5-39 5-78 5 137 4-24 5-33 5 45 5-76 5-25 5-69 5 67 5 18 4 53 5 22 5-49 5 28 5-32 5 112 5-54 5-120 4 118 5 13 5-126 5 0 5 89 5 50 5-40 4 18 5 42 5-132 5 85 5-41 5 38 5 2 4 4 5 70 5-54 5 74 5-90 5-40 5-1 4 12 5 4 5 55 5 93 5-75 5 34 5-84 4 59 5 4 5-24 5 37 5 112 5-156 5 56 4-117 5 102 5-87 5 16 5 38 5 28 5-97 4 196 5-29 5-122 5 117 5 12 5-134 5 4 5 44 4 51 5-78 5-7 5 107 5 32 5-14 5-104 5 89 5-12 4-89 5-2 5-4 5 47 5 50 5-52 5-29 5-19 5 122 5 7 5-135 5 102 4 34 5-103 5 70 5-49 5 1 5 42 5 61 5-124 5 107 5-49 5-61 5 102 5-34 5-18 5-45 4 47 5 62 5-124 5 75 5-11 5 10 5-40 5 46 5 10 5-58 5 13 5-20 5 102 5 0 5-115 5 111 5-30 4-117 5 7 5-23 5 123 5-119 5 42 5 120 5 23 5-90 5 24 5-121 5 79 5-79 4 15 5 41 5 68 5 41 5-21 5-21 5-27 5 5 5-101 5 158 4-88 5-18 5 4 5 22 5 45 5-58 5-33 4 107 5 29 5 60 5-120 5-14 5-2 4 128 5-95 5 14 5-111 5 183 5 27 4-49 5-112 5 130 5-147 5 95 4-42 5 54 5-68 5 0 4 156 5-143 5 152 5-2 4-20 5 41 5-98 5 13 4-78 5 116 5-106 5 1 4-7 5 150 5-56 4-38 5 101 5-28 5 19 4-96 5-62 5 151 4 19 5-56 5-83 4 80 5 1 5 60 5-66 4 24 5 29 5 31 4-23 5-84 5 29 4-96 5 170 5-100 4-2 5-30 5 53 4 79 5-79 5 72 4-27 5-10 5-39 4 72 5-93 5 42 4 20 5 44 5-72 4 25 5-68 5 32 4-25 5 48 5 19 4 49 5-6 5 6 4 65 5-41 5 40 4-127 5-32 5 164 4-81 5 87 5-56 4-131 5 82 5 23 4-13 5 49 5 1 4-101 5 1 5 4 5 181 4-146 5 9 5 83 4 49 5-34 5-72 4 20 5 120 5-150 5-53 4 55 5-46 5 83 4-2 5-25 5 58 5-9 4-69 5 136 5-101 4-7 5 64 5 38 5-35 4 93 5-210 5 143 5-68 4-47 5 13 5-6 5 122 4 11 5-155 5 103 4 26 5-8 5-91 5-14 4-110 5 244 5-94 5 78 4 44 5-152 5 56 5 141 4-81 5 39 5-108 4 125 5 33 5-26 5-135 4 50 5 16 5-33 5 55 4 17 5 5 5-87 4 152 5-54 5-13 4-81 5 14 5-30 5 157 4-117 5 37 5 37 4-14 5-35 5-29 4 122 5-43 5-62 4 2 5 61 5-75 4-5 5 13 5 44 4-74 5 24 4 109 5 6 5-155 4 82 5-13 4 29 5-59 5 18 4-13 5 132 4 42 5-200 5 157 4-108 5-46 4 92 5 75 5-130 4-90 5 234 5-68 4-25 5 72 5 20 4-85 5 89 5-29 4 24 5-127 5-7 4 55 5 109 5-20 4 44 5-113 5 0 4 67 5-87 5-3 4-79 5 192 4 44 5-34 5-144 4 113 5-60 4 2 5-1 4 83 5-121 4 18 5 126 4-13 5-34 4-99 5 79 4-55 5 15 4 162 4-191 5 132 4-80 4 77 5-87 4 37 4 71 4 66 4-149 5 59 4 22 4 30 4-85 4 128 4-51 4 39 4 19 4-68 4-90 4 21 3 165 4-116 4 19 4 40 4-64 4-21 4-16 3 59 4 12 4 35 4-1 3-49 4-70 4 188 3-45 4-33 4 94 3-27 4-58 3 44 4-91 3 26 4-28 3 92 4-90 3 71 3 40 4-18 3 49 3 27 4-196 3 123 3-40 3 44 4 52 3-13 3-17 3 65 3-100 3 85 3-83 3 13 3-69 3 75 3 54 3 10 3-58 3 77 3 3 3-44 3 47 4-20 3-93 3 122 3-9 3 51 2-41 3-11 3 66 3 15 3-136 3 86 3-85 2 9 3 173 3-173 2 57 3 65 2-1 3 15 2-97 2 43 3-63 2 159 2 12 2-124 2 111 2-70 2-66 2 121 1-55 2 88 2-87 1 14 1 1 2 20 1-24 2 72 1-13 1 55 1 65 2-161 1 16 1 28 2-20 1 102 1-24 1-5 1 18 2-5 1 79 1-128 1 54 1 63 1-19 1 54 1-17 1-123 2 16 1 105 1 38 1-27 0 9 1-100 1 73 1-87 1 143 1-26 1-59 1 55 1-14 0-33 1-17 1 31 1 73 0 23 1-35 1 22 1-31 0 23 1-89 0 60 1-14 1 132 0-159 1 109 0-27 1 34 0 25 1-56 0 107 1-56 0-17 0-25 1-41 0 168 1 42 0-100 0 73 1-107 0 38 0-55 1 64 0-20 1-4 0 103 0-102 1-13 0 155 0 2 1-97 0 29 0 11 1 1 0-32 0 12 1 10 0 29 0 89 1-169 0 24 0 91 1-82 0 45 0 105 0-153 1 224 0-76 0 43 0-140 1 20 0-40 0 218 0-144 1 18 0-15 0 71 0 21 0-2 1-40 0 59 0 38 0 50 1-183 0 21 0 94 0-67 0 85 0-87 0 21 0 102 1-112 0 28 0-56 0 224 0-106 0-21 0 1 0 75 0-4 0-73 0 50 0 369 0 5 0 3 0 12 0 3 0 6 0 9 0 2 0 18 0 1 0-7 0 18 0-4 0 7 0-2 0 13 0 8 0 3 0 3 0 9 0 3 0-6 0 12 0 8 0 19 0-3 0 2 0 6 0 7 0 1 0 3 0 19 0 1 0-3 0 17 0 2 0 3 0 20 0 1 0 2 0 5 0 2 0 5 0 14 0-6 0 4 0 14 0-9 0 11 0 4 0 9 0-2 0 10 0 5 0 8 0 8 0 8 0 1 0 4 0 7 0 18 0 2 0 3 0 3 0-4 0 16 0-1 0 5 0 12 0 17 0 4 0 2 0 4 0 6-6 362 0-67 0 1 0 23 0 146 0-63 0-12 0-120-1 48 0 80 0 26 0-21 0 53 0-123-1 104 0 15 0 54 0-60-1-120 0 80 0 96-1-116 0 62 0 48-1-6 0-137 0 62-1-45 0 80-1 77 0-143-1 72 0-73-1 16 0 139-1 48 0-128-1-51 0 47-1 47 0 25-1 33 0-186-1 49-1 128 0-30-1-53 0 170-1-188-1 185 0-133-1 99-1-52 0 89-1-117-1-11 0 122-1 20-1-73-1 54 0-40-1 123-1-125-1 154 0-64-1 33-1 11-1-41 0-100-1 56-1 121-1-10-1-69 0-19-1 14-1-10-1 6-1 71-1-36 0 97-1-75-1-95-1 135-1 6-1-30-1-21 0-36-1-5-1 54-1 84-1-114-1 75-1 47-2-25-1-62-1-45-1 8-2 133-1-141-1 130-2-105-1 93-2-116-1 107-2-27-1 54-2-15-2-38-1 78-2-10-2 59-2 52-1-87-2-13-2-18-2 94-2-82-2-59-2 92-2-33-2 31-2 68-2-47-2 60-2-117-2 38-2-27-2 4-2 82-3 101-2-160-2 19-2 24-3-50-2 64-2-72-2 64-3 84-2-164-2 82-3 73-2-29-2 7-3 1-2-20-2 17-3-48-2 122-2-80-3-70-2 30-3 50-2-54-3 124-2-46-3 39-2-54-3-10-3-39-2 71-3-63-3 89-3-68-3 0-2 33-3 129-3-81-3-3-3-72-4 87-3 66-3-49-3-41-3 93-3-111-4 60-3-28-3 4-4 97-3 33-3-131-4 135-3-93-4-46-3 177-4-106-3 64-4-46-3-14-4 80-4-79-3 85-4-44-4-22-3 3-4 37-4-70-3 123-4-23-4-37-3 49-4 40-4 9-4-91-3 21-4 70-4-9-4-14-4-35-3-5-4 35-4-126-4 34-3 172-4-121-4-40-4 184-4-264-3 195-4-3-4-90-4 91-4 39-3-4-4-50-4 81-4-97-4 71-4-54-4 65-4-90-4 54-4-53-4 106-4 106-4-85-4 17-4 9-4-51-4-46-4 25-5-5-4 42-4-93-4-10-4 12-5 23-4-37-4-27-4 74-5 53-4-112-4 16-4 94-5 57-4-53-4-21-5 26-4-76-5 42-4 25-4 61-5-39-4-27-5-16-4 65-4 6-5 83-4-123-5 113-4-11-5-15-4-49-5 23-4 3-5-97-4 58-5 119-4-155-5 93-4 49-5-85-4-49-5 123-4 67-5-57-4 7-5-30-5-92-4 33-5-18-4 51-5 112-4-160-5 88-4-97-5 49-5 74-4 45-5-12-4-117-5 9-4 40-5-44-5-9-4 119-5-14-4-60-5-19-4-111-5 235-5-14-4-3-5-102-4-13-5 135-4-118-5 87-4-79-5 59-4-19-5-36-4 18-5 89-4-103-5-4-4 34-5 43-4-29-5 64-4-48-5-61-5 134-4-73-5-73-4-35-5 127-4 28-5-135-5 55-4 32-5 11-4 47-5-140-4 55-5 40-5-52-4 29-5 41-4-45-5 29-5 82-4-128-5 77-5-29-4 63-5-93-5 95-4-45-5-29-4-73-5 104-5-4-4-64-5 99-5-127-4 22-5 112-5-46-4-59-5-44-5 67-4 75-5 17-5-124-4 22-5 128-5-150-4 196-5-36-5 58-5-52-4-93-5-15-5 251-4-241-5 15-5 39-4 43-5-82-5 69-5 57-4-15-5-67-5 38-4-72-5-2-5 16-4 98-5-66-5 90-5 13-4-88-5 125-5-75-4-105-5 156-5-23-4-19-5-99-5 99-5-27-4 72-5 58-5-196-4 64-5 99-5-14-4 18-5-115-5 22-4-3-5-31-5 85-4-7-5 11-5-136-5 220-4-66-5-87-5-15-4 123-5-94-5 84-4-53-5 97-5-118-4 90-5-75-5-34-4-30-5 138-5-34-4-66-5 149-5-139-4 104-5-70-5 107-4 6-5-15-5-63-4 74-5-63-5-49-4 74-5-34-5-62-5 19-4 127-5-62-5 70-4-97-5 41-5-90-4 88-5 14-5-55-4 15-5 118-5-60-5 46-4 27-5-123-5 79-4 64-5-61-5-98-5 47-4 15-5 4-5-29-5-5-4-55-5 101-5-112-4 165-5 2-5-6-5-139-4 63-5-85-5 162-5-2-5 28-4 12-5-55-5-97-5 112-4-1-5 30-5 1-5-159-5 120-4 3-5 3-5 83-5-212-5 186-4-75-5-30-5-70-5 174-5 11-5-55-5 17-4-103-5 19-5 38-5-30-5 86-5 14-5-19-5-16-4-52-5 51-5-10-5-10-5 74-5-105-5 4-5 77-5 75-5-130-5 19-5-22-5-42-5 23-5 15-5 110-5-29-5-43-5 48-5-2-5-92-4-38-5-47-5 153-5-19-6 48-5-4-5-55-5 22-5-23-5 68-5-78-5 30-5-95-5 120-5-116-5 32-5 66-5-110-5 63-5-42-5 150-5-84-5 2-5 96-5-106-5-25-5 80-5-122-5 132-5-2-5-44-5 36-5-45-6-86-5 112-5 11-5-52-5 8-5 42-5-34-5 77-5-141-5-52-5 6-5 129-5-122-5 26-5 129-5-131-5 132-5-142-5 21-5 15-5-26-5 55-5-72-5-17-5 131-5 29-5-168-5 116-5-130-5 20-5 51-5-8-5 94-5-69-5-5-5 21-5 47-5-89-5 30-5 23-5 6-5-35-5-14-5 109-5-174-6 102-5 42-5-181-5 215-5-125-5 77-5 8-5-32-5 6-5-72-5 94-5-80-5-9-5 138-5-147-5-17-5 67-5-128-5 91-5 55-5-71-5 84-5-23-5 59-5-75-5 61-5-78-5-42-5-16-5-8-5 168-5-101-5-11-5 4-5 15-5 103-5-40-5-193-5 156-5-51-5 10-5 30-5-10-5-53-5 17-5 121-5-51-5 24-5-105-5-27-5 74-5-39-5 32-5 55-5 24-5-103-5 101-5-155-5 44-5 82-5-117-5 81-5 63-5-35-5-10-5-74-5 88-5 43-5-24-5-42-5-47-5 93-5-28-5 24-5-19-5 44-5-30-5-42-5-67-5 19-5 73-5 27-5-68-5-70-5 126-5 2-5-75-5 76-5-40-5-18-5-33-5-5-5 7-5 139-5-66-5 7-5 38-5 9-5-29-5-94-5-40-5 95-5-5-5-53-5-14-5-41-5 27-5 168-5-62-5 39-5-30-5-89-5 115-5-51-5 25-5-47-5 7-5 29-5 21-5 19-5-28-5-57-5-42-5 95-5-98-5 110-5 21-5-65-5-5-5-59-5 47-5-75-5 173-5-122-5 72-5 12-5 2-5-103-6 173-5-213-5 119-5-72-5 30-5 125-5-29-5-82-5-93-5 178-5 23-5-85-5 10-5-121-5 136-5-32-5 77-5-68-5 41-5-106-5 31-5 28-5-34-5 128-5-167-5 87-5-50-5 20-5 60-5-102-4 93-5-129-5 57-5 57-5-50-5 78-5 21-5-118-5 69-5-45-5 110-5-89-5-98-5 150-5-86-5 46-5-34-5 17-5 98-5-88-5 80-5-66-5 73-5-160-5 31-5 32-5-99-5 110-5-41-5 93-4-35-5 74-5-107-5-11-5 104-5-136-5-28-5 69-5-55-5-29-5 36-5 8-5 51-5-38-5 143-5-69-5-68-4-76-5 140-5-84-5 8-5 119-5-90-5 56-5-216-5 67-5 102-5 44-5 17-5-27-5-5-4-83-5 40-5-103-5-25-5 45-5 14-5-49-5 186-5-40-5-107-5-60-5 171-4-175-5 146-5-79-5-51-5-22-5 59-5 63-5 19-5-74-5 64-4-33-5 13-5-96-5 50-5 98-5-80-5-56-5-30-5 15-4-19-5 32-5 48-5 21-5 66-5-33-5-120-5 22-5-11-4-6-5 46-5 66-5-16-5-114-5 66-5-13-4-12-5 131-5-179-5 80-5 79-5-85-5 53-4-26-5 67-5-26-5 2-5-69-5 95-5-124-4 26-5 12-5 26-5-71-5 47-5-55-5 109-4-51-5-59-5-11-5 9-5-19-5-4-4-16-5 115-5 9-5 7-5-57-5-1-5-86-4 121-5-150-5 127-5-73-5 106-5 1-4-82-5-42-5 109-5-151-5 68-4-37-5 54-5-115-5 117-5-4-5-115-4 118-5-111-5 21-5-30-5-12-4 172-5-117-5 78-5-34-5-59-4-26-5 97-5-90-5-81-5 100-4-45-5 107-5-23-5-15-5 42-4-29-5-107-5 82-5-70-4-1-5-4-5-40-5 34-4-15-5 114-5-128-5 65-4 42-5-8-5 55-5-151-4 44-5 62-5-118-5 120-4 5-5-76-5 40-5-22-4 29-5 70-5-112-4 8-5 90-5-87-4 57-5-115-5 78-5-89-4 20-5 29-5 91-4-39-5-54-5-38-5 54-4 45-5-39-5 25-5 97-4-59-5-30-5 58-4-81-5 6-5-13-5 12-4 4-5-109-5 123-5-154-4 108-5-41-5 96-5-137-4 15-5 72-5-71-5 6-4 35-5-10-5 84-5-126-4 73-5-108-5 11-5 38-4-37-5 91-5-47-4 18-5-42-5 85-4-133-5 59-5 10-5-19-4-24-5 66-5-42-4-21-5 65-4-96-5 48-5-30-4 23-5 7-5-18-4 24-5-74-4 98-5-59-4 40-5 3-5-65-4 52-5-42-4 28-5 66-4-111-5 61-4 24-5-148-4 163-4-96-5-10-4 94-5-7-4-36-5 8-4 25-4-68-5 34-4-7-4 15-5-9-4 41-4-84-4-31-5 115-4-150-4 64-4 56-4-127-5 189-4-16-4-147-4 104-4-55-4-48-5 64-4-63-4 122-4-52-4 28-4-76-5 58-4-96-4 114-4-54-4-24-4-67-4 80-4 54-5-85-4-83-4 37-4-90-4 34-4 144-4-12-4-126-4-11-4 191-4-134-4 75-4 35-4-150-4 24-4-20-4-67-4 101-4 26-4-130-4 69-4 107-4-203-4 110-4 29-4-94-3 117-4-148-4 92-4 32-4-50-3 107-4-113-4 29-4-8-3 8-4-32-4 16-3-100-4 66-3-25-4-55-4-7-3 103-4-94-3-11-4 0-3 68-3-101-4-21-3 119-4-120-3 70-3-32-3 29-4 46-3-133-3 45-3 66-3-76-4-78-3 24-3 102-3-88-3 3-3-2-2 54-3-12-3-87-3-31-3 48-2-3-3-71-3 123-3-34-2 97-3-172-2 30-3-41-3 112-2-123-3 97-2-61-3-23-2 67-3 36-2-82-3-81-2 132-3 39-2-135-3-68-2 143-2-119-3 76-2-49-3-32-2 9-3 86-2-61-3 24-2-53-3 24-2 49-3 20-3-100-2 28-3 27-2 9-3-111-3 3-2 77-3-59-3 78-3 26-2-125-3 17-3-3-3-71-3 149-3-113-3 121-4-40-3-60-3-75-4 20-3 105-4-90-4 9-3 30-4 7-3-64-4 80-3-105-4 108-3-30-4-51-3 95-4-107-3-45-3 56-3 37-3-11-3 15-3-83-3-59-2 15-3 53-2-69-2-25-2 148-2-48-1-36-2-21-2 84-2-28-1-94-2 15-2-39-1 4-2 92-1 1-2-6-1 56-2-87-1 39-1-18-1-108-2 151-1-171-1-12-1 24-1-43 0 35-1 154-1-135 0 20-1 41 0-123-1-41 0 26-1 80 0-35-1-56 0 38-1 36 0 15 0-91-1 52 0-59 0 97 0-140 0 75" stroke="#EDB120" stroke-width="54.0" fill="none" stroke-linejoin="round" stroke-linecap="round"/></g>
<g clip-path="url(#cb)"><path transform="scale(.1)" d="M13380 4205l5 0 4-23 5-20 5 14 4 53 5 6 5-23 4 25 5-52 5 8 4 40 5-34 5-39 4-9 5-14 5 102 4-44 5-47 4 67 5 15 5-77 4 30 5 6 5-46 4 96 5-89 4-53 5 131 5-77 4-2 5 20 5-70 4 93 5-82 4 63 5 45 5-42 4 8 5-113 4 54 5 1 5-9 4 55 5-53 4-31 5 67 5 50 4-135 5 0 4 22 5 57 5 23 4-98 5 46 4 49 5-77 5 35 4-44 5 88 4-95 5 30 4 1 5-17 5 48 4-72 5 10 4-20 5 55 4-11 5-54 4 25 5-70 4 20 5 32 5-7 4 39 5-28 4 8 5 22 4 2 5-57 4-33 5 15 5-14 4 81 5-98 4 19 5 0 4 34 5 62 4-18 5-4 4-17 5-3 4-79 5 47 4-39 5 0 4 14 5 78 4-72 5-20 4-10 5 102 4-45 5-80 4 131 5-27 4-36 4-41 5-15 4 7 5 25 4 40 4-61 5 35 4-33 4-54 5-7 4 34 5-37 4 68 4 23 5-57 4-35 5 26 4 27 4-10 5-46 4-24 5 60 4-85 4 19 5-17 4 44 4-8 5 23 4-26 4-11 5 9 4 33 4-59 4 19 4-74 5 62 4-27 4 61 4-81 4 21 4-20 4 70 4-59 4-8 4-4 4 31 4-15 4-20 4-2 4 7 4 8 3-23 4 22 4-28 4 38 3-17 4 0 4-23 3 24 4-26 3 14 4-25 4 12 3-7 4-42 3 16 4 28 3-35 4 9 3 6 4 2 3-10 4 0 3-16 3 16 4-46 3 25 3-18 4 20 3-47 3 37 4-34 3 7 3-53 3 51 3 3 4 2 3-13 3 9 3-36 3-6 3 7 3-1 3 1 3-19 3 9 3 51 3-59 3 11 3-18 0-6 1-4 0 10 1-17 1 18 1-42 0-18 1 21 1-1 1-17 0 50 1-29 1-33 1 3 1 6 1-20 0-22 1 30 1-25 0-24 1 3 1 26 0-42 1 49 1-62 0 23 1-22 1-13 0-9 1 20 1-7 0 10 1-1 1-43 0 20 1-25 0 25 1-35 1 25 0-55 1 10 1 39 0-58 1 20 0-9 1 16 0-41 1-3 1 33 0-7 1-6 0-4 1-42 0-5 1 37 1 4 0-77 1 49 0-20 1 1 0-44 1 27 0-4 1-23 0-8 1 31 0-8 1-2 0-50 0 26 1-17 0 25 1-44 0 30 0-16 1-42 0 32 0-27 1 1 0-24 0 19 1-1 0-29 0 19 1 27 0-21 0-15 1-14 0-20 0-6 1-17 0 22 1 8 0-31 1-4 0 3 1 21 0-44 1-6 0 31 1-9 1-14 0-3 1-26 1 24 1-16 1 34 1-16 1-59 2 10 2 12 2 22 3-43 3 11 3 22 3 1 3 12 4-22 4-30 4-16 4 30 4-25 4-14 4-1 5 8 4-26 4 32 5-1 4-36 5 17 4-2 5-4 4 3 4-12 5-8 4 18 4 3 4-55 4 57 3-43 4-27 3 10 3 23 3-29 3 4 3 33 3-14 4-56 3 10 3 35 4-23 3-29 4 37 3-6 3-22 3-10 3-20 3 34 3-39 3 1 3 7 2 0 2 15 2-13 2-1 1 5 2-34 1-1 0-23 1 4 0 16 0-32 0 26 0 7 0-9-1-4 0-20 0-28-1 19 0-39 0 4-1-25 0 47-1-66 0 57-1-45 0 12-1 13 0-4-1-36 0-6-1-11 0 45-1-33-1 17 0-30-1-18 0-8-1 21 0-24-1 8-1-3 0-9-1-5 0 2-1 6 0-22-1-23 0-5 0 34-1-20 0 6 0-34-1 2 0-15 0-23-1 11 0 9 0 8 0 10 0-46 0-15 0 45 0-16 1-40 0-4 1 20 1-13 1 30 1-19 1-39 1 12 2 20 1-11 2-15 1-12 2-11 2 19 2-10 2 2 2 2 2-13 2-47 2 2 2 8 2-21 3 13 2-2 2 6 2-29 3 19 2 19 2-21 3-4 2-41 3 34 3-37 3-1 3 42 4-23 3-33 4 38 4-33 4 17 4-28 4-9 4-4 5 1 4 15 4 38 5-29 4-1 5-5 4-9 5-14 4-41 5 56 4 16 5-66 4 52 5-6 4-17 5-53 5 44 5-8 5 31 5-13 5-52 5-16 5 46 5 20 5-39 5 40 5-75 5 31 4 31 5-54 5 32 4-12 5-50 5 95 4-16 5-107 4 123 5-75 4 6 5 15 4-75 5 92 4-120 5 143 4-41 5 46 4-46 5 38 4-28 5 3 4-120 5-30 4 193 5-62 4-44 5-57 4 148 5 11 4-146 5 98 4-71 5 76 4-28 5-79 5 19 4 52 5-27 4 78 5-22 5 17 5-136 4 64 5 59 5-28 4-79 5 118 5-109 5-19 5 138 4-93 5 38 5-63 5-26 5 12 4 0 5-67 5 175 5-121 5-16 4 11 5 30 5 84 5-14 4-94 5 74 5 5 5-10 4-54 5 12 5 58 5-49 4 60 5 10 5-38 4 14 5-124 4 18 5-13 5 14 4-10 5 110 4-32 5-103 4-29 4 93 5 44 4-110 5 86 4-29 5 62 4-143 4 106 5-82 4 60 4 34 5-24 4-20 5-47 4-77 4 32 5 121 4-156 4 138 5-45 4 51 4 24 5-88 4-32 4 12 5-81 4 112 4-123 5 156 4-79 4-36 5-47 4 86 4 44 5-171 4 194 5-13 4 33 5-115 4 0 5 49 4 14 5-68 4 26 4 5 5 7 4 1 5-72 4 73 5-17 4 36 5 13 5-71 4-25 5-20 4 4 5 49 4-44 5-6 4 83 5-48 4 32 5-84 4 34 5 95 5-114 4 23 5-36 4-25 5 72 4 35 5-38 5-25 4 112 5-85 4-35 5-33 0 63-4 35-5 54-4-104-4-8-5 117-4 19-4-124-5 57-4-89-5 115-4-51-4-27-5 26-4 71-5 10-4 64-4 16-5-83-4 52-5-46-4-29-5-12-4 109-4-122-5 49-4 7-5 99-4-26-5 9-4 12-5-98-4 3-5 96-4-46-5-57-4 43-5 45-5-10-4-72-5 54-4 16-5-12-4 70-5-114-5 39-4 22-5-89-4 34-5 75-5 46-4 1-5-143-5 90-4 2-5 40-5-52-4-45-5 124-5-76-4-23-5 12-5 46-4-106-5 132-5-118-5 17-4 116-5-111-5 55-4-80-5-19-5 34-4 127-5-81-5 29-4-101-5 98-5 45-5-55-4-13-5 87-5-138-4 19-5 43-5-38-4 80-5 27-5-12-5-70-5-14-5-26-5-15-4 26-5 27-5 104-5-146-5 130-5-34-5-29-5 41-5-101-4 85-5 89-5-45-5 50-5-37-4-86-5 82-5-106-5 117-4-103-5 4-4-30-5 21-4 135-5-17-4-47-5-65-4 38-4-29-4 16-4 89-4 13-4-51-4-33-4-36-4 69-4 21-4 34-5-29-4-24-4 121-4-124-4 130-4-65-4 64-4-54-4 55-4 42-4 16-4-146-4 102-4-107-4 29-4 58-4-68-3-6-4 70-3 32-4-44-3 111-3-62-3 25-3 3-3-35-3 7-3 86-3-22-2-104-2 56-3 56-2 35-2-129-1 95-2 16-1-60-2-79-1 162-1-44-2 27-1-37-1 46-1-120-1 79-1 45-1-88-1 114 0-133-1 89-1-61-1 111-1-116 0 32-1 31-1 54 0-2-1 0-1-43-1 15 0 47-1-22-1-6-1-31 0 67-1-25-1 79-1-16-1-61-1 74-1-34-2 27-1 24-1-31-2-43-1 74-2 49-1-76-2-4-2 72-3-9-3-24-2 41-3 9-3 4-4-17-3-7-4 21-3-18-4 16-4-10-4 12-4-18-4 35-4-19-4-6-4 31-4-31-5 28-4-7-4-7-4-6-3 41-4-17-4 11-4-8-3 2-3 67-4-25-3-15-2-14-3 18-3-35-2 15-3 43-2-24-3 32-2-27-2 42-3-24-2 16-2-35-2 33-2 1-2 14-3-38-2 46-2-10-2-15-2 0-2 35-2-7-2 23-2-13-2 27-2 10-2 14-1-27-2-30-2 50-2 15-2-28-2 9-2 10-2 23-2-19-2 1-2 30-2 13-2-11-2-5-2 23-2-29-2 13-2 39-2-22-2 27-1-32-2 18-2 23-2 12-2-15-2 17-2-31-2 26-1-12-2 35-2-26-2 10-2 53-2-33-1 26-2-6-2-5-2 36-2-1-2 6-1 16-2 6-2-6-2-11-2-18-1 24-2-22-2 6-2 22-2 17-1 5-2-43-2 58-2 7-1-27-2 19-2 13-2-3-2 12-2-2-1-12-2-15-2 29-2-10-2 40-1-36-2 22-2-1-2-9-2 38-1 11-2-5-2 6-2 8-2 13-1-38-2 61-2-31-2 9-1 21-2-7-2-3-1-2-2 9-2 14-2 36-1-23-2 22-2 4-1 0-2 12-1-39-2 25-2 28-1-3-2-27-1 7-2 36-1-19-2 12-1 3-2 23-1-4-1-16-2 16-1-5-1 43-2-29-1-4-1 37-2-9-1-6-1-11-2 40-1 20-1-29-2-26-1 33-1-10-2 44-1-34-1 29-1-12-2 30-1-30-1 44-1 18-1-51-2 32-1-28-1 0-1 67-1-6-1-30-2 11-1 33-1 2-1-10-1 8-1 38-1-50-1 19-1 13-1-12-1 41-1-25-1 48-1-37-1-6-1 64-1-44-1 65-1-37-1 1-1 14 0 20-2 19-1-16-2-2-2 7-2-3-2-21-2 55-1 17-3-28-2 8-2 35-2-6-2-26-2 24-2 28-3-8-2-3-3 10-2 8-2-29-3 28-2-14-3 49-3-6-2-33-3 11-3 13-2 1-3-1-3 7-3-12-2 27-3-9-3 21-3 18-3-47-3 3-3 42-3-36-3 42-3 3-3-4-4 2-3-14-3 25-4 5-3-27-4 23-3-1-4 0-4-2-4 9-4-16-4 9-4 7-4 28-4-11-4 16-5-20-4 23-4 23-5-29-4-6-4 14-5-17-4 7-5 29-4 8-5-16-5 21-4 13-5-37-4 71-5-79-5 15-4 36-5-1-4-10-5 7-5 6-4 13-5 6-4 24-5-56-4-12-5 90-4-70-4 16-5-62-4 3-4 21-5 72-4-17-5-67-4 62-4 16-5-31-4-37-5 66-4-52-5 27-4 74-5-87-4 21-5 7-4 5-5 63-4-73-5 37-4 21-5-4-4 10-5 1-4-92-5 28-4 41-5-55-4 86-5-15-4-60-5 80-4-40-5-19-5 42-4-30-5 23-4 33-5 18-4-12-5 57-5-5-4-17-5-41-4 24-5 0-5 10-4 32-5-8-4-119-5 120-5-60-4 95-5-15-4-16-5-16-5-36-4 60-5-44-5 68-4 3-5-86-5-57-4 173-5-74-5 21-4 2-5-17-5 31-4-32-5 71-5 0-4-88-5 102-5-42-5-14-4-21-5 70-5-11-4-13-5-10-5 51-5-20-4-24-5 0-5-8-5-18-4 2-5 92-5-67-5 13-4-26-5-1-5 29-5-6-5-37-4 40-5-62-5 44-5 13-5-55-4 61-5-85-5 86-5-98-5 38-5 79-4-38-5 56-5-25-5-85-5 119-5-112-5 23-5 27-4 17-5 48-5-82-5 10-5-23-5-4-5 78-5 25-5-84-4 69-5-13-5 4-5-66-5 62-5 36-5-24-5-14" stroke="#0072BD" stroke-width="54.0" fill="none" stroke-linejoin="round" stroke-linecap="round"/></g>
<g clip-path="url(#cb)"><path transform="scale(.1)" d="M12410 4886l5 79 4-71 5-13 5 42 4 8 5-27 4-41 5 73 5-77 4-11 5 40 5-22 4-4 5 51 4-42 5 23 5-43 4 30 5-15 4 16 5-34 5 17 4-31 5-1 5-44 4 75 5-11 4-13 5 8 5 47 4-98 5 94 4-67 5-17 5 82 4-70 5 0 4 26 5 31 5-93 4 61 5-61 4 50 5 25 5-40 4 11 5 110 5-142 4 20 5 74 4-127 5 21 5 52 4-51 5 58 5 28 4-110 5 80 4-40 5 85 5-79 4 17 5-12 4-28 5-21 5 61 4 2 5-38 4-33 5 13 4 15 5-32 4 60 5 2 4-63 5-14 4 15 5-10 4 46 5-59 4-2 4 32 5-18 4 3 5-14 4-29 4 20 5 58 4 0 5-42 4 5 4 26 5-73 4 72 4-80 5 28 4 20 4 50 4-78 5-3 4 31 4 3 5 14 4 9 4 20 5-91 4 29 4-62 4 34 5 56 4-18 4-86 4 57 5-4 4-12 4 30 5-54 4 48 4-36 4 8 5-56 4 83 4-62 4 69 5-40 4-36 4 26 4 23 5-90 4 68 4 16 4-120 5 0 4 67 4-28 5-58 4 26 4 95 4-98 5 38 4-56 4 70 5-29 4 116 4-173 5 51 4-22 4-39 5 39 4 52 4-90 5-34 4 71 4-14 5 5 4-24 5-21 4 19 4-27 5-27 4 46 5 23 4 13 4-52 5 23 4-22 5 39 4-36 5-26 4 3 5-37 4 103 4-62 5-46 4 47 5-3 4-34 5 66 4-18 5-39 4-14 5 15 4 5 5 13 4-51 4 82 5-64 4 72 5-16 4-40 5-23 4 27 5 39 4-55 5 26 4-16 5-8 4 70 5-35 4-17 5 5 4 54 5-91 4-4 5-14 4 84 5-31 4-67 5 26 4 22 5-10 4-29 4-3 5 78 4-86 5 13 4 1 5-15 4 33 5 7 4-77 5 40 4 46 4-61 5 72 4-10 5-34 4-43 5 15 4-40 4 26 5 15 4-30 5 42 4-64 4 65 5-1 4 30 5-46 4-34 4 48 5-29 4 17 5 23 4 16 4-108 5 30 4 0 5-24 4 75 4 54 5-148 4 65 4 9 5-11 4-52 5 42 4-114 4 25 5 63 4-3 4 18 5-30 4-4 5 18 4-41 4-12 5 14 4 32 4-22 5 4 4-56 4-5 5-20 4 36 5 41 4-29 4-23 5 14 4-18 4-44 5 49 4 28 4-36 5-19 4 36 4-43 5 9 4 37 4-62 5 14 4-6 4 12 5 15 4-62 4 51 5 33 4-98 4 18 4 8 5 51 4-12 4-42 5-7 4-53 4 127 4-6 5 1 4-55 4-24 5 4 4-26 4 45 4 9 5 6 4-36 4 3 5 17 4-47 4 21 5 0 4-66 5 58 4 11 4 3 5-17 4-27 5-15 4 50 5-7 4-36 4 66 5-21 4-25 5-8 4 21 4-29 5 45 4 1 4-55 5 17 4 5 4-15 4-15 5 5 4 2 4-20 4 42 4-73 4 87 4-41 4-8 4-3 4 12 4 0 4-16 3 5 4-31 4 27 4-46 3 25 4-75 3 92 4-81 3 16 4 15 4-32 3 11 4-24 4 30 3-39 4-21 4 0 3 39 4-25 3-7 4-14 4 5 3 0 4 17 3-3 4-22 3 22 3-31 3 20 4-15 3-18 3 18 3-26 3 7 3 21 2-39 3 4 3 2 2 8 3 15 2-38 2-3 2 0 2-2 2-9 2 15 1-12 2 6 1-9 1-24 2 14 1-10 1-10 1 6 2-7 1-29 1 23 1-17 1 11 1-21 2 5 1 4 1-24 1 9 1-5 1-8 1-17 1 30 1-29 1 0 0 5 1-22 1-3 1 2 1 6 1-20 0-20 1 10 1-15 0-15 1 5 1-6 0 21 1-14 1 0 0-10 1-15 0 4 1-8 0-13 1-15 0 18 0-24 1 22 0-16 0-20 1 12 0-19 0-2 0-19 1 17 0-30 0-3 1-2 0-10 0-7 0 17 0-16 1 2 0-28 0 16 0-22 0-9 0-8 0-2 1-19 0 11 0-13 0 14 0 2 0-41 0 27 1-19 0-7 0 2 0-21 0-2 0 10 1-3 0-2 0 5 0-34 0 12 0-22 1 25 0-6 0-10 0-6 1-6 0-27 0 1 0-4 1 0 0-10 0 14 1-9 0-9 1 6 0-8 1-31 0 23 1-13 0-12 1 4 0 4 1-3 1-19 0-4 1 10 1-23 0-14 1 16 1-15 1-6 1-11 0 10 1-10 1 3 1-1 1-22 1 11 1-35 1 2 0 6 1-14 1 2 1-1 1-14 1 1 1-13 1 13 1 2 1-12 1-6 1-9 1-25 1-15 1 20 1 2 1-14 2-17 1-9 1-1 1 15 2-35 1-3 2 5 1-19 2 21 1-43 1 20 2 0 1-12 2-12 1-5 2 7 1-10 1-8 2-6 1 5 1-18 2-4 1-15 1 16 1-14 2-1 1 8 1-2 1-20 1 15 0 2 1 20 1-36 1 24 1 4 0-20 1 15 0 20 1 11 1-3 0 7 1 11 0-18 1 17 0 11 1 8 0-23 1 8 1 21 0 18 1 3 1 3 1-9 1 29 0-1 1 6 1-7 1 18 1 8 1 5 1 4 1-11 1 19 2-16 2 24 2-21 2 36 3 5 3-6 3 19 3-21 4 31 4-33 4 33 4-1 4 20 4-7 5 12 4-5 5 17 4-13 5 13 5 23 4-12 5-7 5 16 5 1 4-5 5-10 4 7 4-1 5-2 4 20 4-23 3 40 4-13 4-8 4-8 4 9 3-20 4 0 4 2 4 6 4-18 3 2 4 12 4-27 4 9 4-19 3-4 4-1 4-8 4 1 4 12 4-10 3-9 4-4 4-16 4 24 4-1 4-37 4-1 4-7 4 8 4-10 4 13 5 7 5-34 5-2 5 0 5 9 5 9 5 6 5-19 4 4 4 1 3-8 3-4 2 2 0-18 1 17 1-3 1-25 1 16 0-45 1 9 1 12 0-20 1 11 0-6 1-1 1-13 0 1 1-9 0-13 1 7 0 4 0-38 1-4 0 21 1-26 0 4 0 10 1-24 0 14 0-28 1-3 0-22 0 30 1-18 0-10 0-10 0 7 1-13 0-19 0 1 0 15 1-29 0-8 0 16 0-21 1-9 0 15 0-22 0-10 0 9 0-16 1 11 0-23 0-3 0 12 0-25 0-5 1 4 0-1 0-12 0-3 0-7 0 4 0-13 1-1 0 6 0-26 0 10 0-7 0-15 0 23 1-21 0-11 0-10 0-23 0 5 0-2 0-2 0 9 1-2 0-36 0 15 0-16 0-6 0 14 0-3 0-20 0 6 0-23 0 15 1-23 0-9 0-2 0 16 0-33 0 21 0-29 0 20 0-27 0-4 0 1 0 8 0-14 0-3 1-15 0-12 0 23 0-16 0-5 0-16 0 16 0-43 0 4 0 11 0-6 0-22 0 2 1-5 0 15 0-34 0 14 0-13 0 12 0-17 0 6 0-36 0 9 0 7 1-6 0-15 0 3 0-17 0-5 0 11 0-11 0-9 0-7 0 5 0-9 1-12 0 6 0-31 0 16 0 15 0-20 0-18 1 6 0-14 0-3 0-13 0-2 0-5 0 2 1-25 0-1 0-16 0-3 0 15 0-12 0 5 0-15 0-12 1 0 0-4 0-25 0-5 0-8 0 13 0-19 1-11 0-1 0-13 0 12 0-6 0-5 0-26 1 11 0-1 0-8 0 4 0-16 1 4 0-33 0 14 0 7 1-22 0-15 0 15 0-26 1 11 0 13 0 1 1-35 0-11 1-3 0 5 0 5 1-4 0 5 2-7 2 1 2-13 4 11 3-12 4 5 5-14 5-7 4-10 5-9 5 11 5 12 5-30 5 16 4 2 4-30 5 38 4-19 5 16 5-28 4 29 5 4 5-24 5-14 5 35 5-21 5-19 5 51 5-28 5-17 5 23 5-8 5-19 5-8 5-22 5-5 5 60 5-58 5 59 5-64 5 55 4-50 5 39 5 20 5-82 5-15 5-15 5 26 5 19 5-16 5 55 5-48 5 46 5-45 5-6 5 31 5 14 5-49 5 35 5-22 5-14 5 15 5 50 5-18 5 5 5-66 5 26 5-18 5 51 5-26 4 34 5-12 5 34 5-73 5-18 4 1 5 64 5 17 5 17 4-7 5-51 4 39 5-96 5 25 4 76 5-31 4-65 5 79 4-48 5-9 4 50 5-7 4-31 5 35 4-39 5-2 4-8 5-3 4-51 4 58 5-12 4-32 4 35 5 2 4-22 5 17 4-71 4 47 5 19 4-14 4-1 4-23 5-13 4 34 4-57 5 19 4-41 4-20 4 8 5 81 4-39 4 14 5-63 4-12 4 37 4 72 5-90 4-36 4 27 4-10 5 40 4-9 4-12 4-32 5-8 4 31 4-28 5 25 4-61 4 13 4 33 5-28 4 8 4 33 5-46 4 67 4-70 5 26 4 14 4-35 5 14 4 0 4 30 5-54 4 9 4 36 5-6 4-65 4-1 5 13 4 61 4-48 4 42 5-92 4 20 4 76 5-87 4 5 4-2 4 26 5-44 4-6 4 23 5 5 4-47 4 67 5-41 4 23 4 23 4-4 5-33 4 43 4-71 5 24 4-65 4 121 5-90 4 15 4-37 5 14 4-36 4 39 5-6 4 30 4 15 5-38 4-6 4-69 5 71 4-18 5 22 4 25 5-48 4 22 4-62 5 5 4 33 5-41 4 64 5-58 4-32 5 38 4-48 5 87 4-14 5-37 4 5 5 15 4-11 5-40 4 67 5-25 5-49 4 41 5 13 4-27 5 7 5-16 4 3 5 31 5 11 4 20 5-99 4 11 5-14 5 8 4 23 5 21 5-18 4 39 5-42 5 4 4-49 5 65 5 7 5-39 4 41 5-14 5-38 4-15 5 28 5 32 4-48 5-26 5 26 4-46 5 26 5 9 4 74 5-25 5-59 4 2 5-49 5 78 4 37 5-64 5 38 4-35 5 50 5-65 4 47 5-2 5-26 4-66 5 56 5-6 4 75 5-36 4-53 5 38 5 13 4-31 5-15 4-35 5-26 4 49 5 23 5-13 4 14 5-37 4 20 5 13 4-60 5 28 4 58 5-75 4-19 5 43 4-99 5 87 4-61 5 30 4-2 5 10 4-24 5 58 4-16 5-24 4 5 5 32 4-23 5-23 4-40 5 43 4 34 5 6 4 3 5-47 4 35 5-57 4 6 5-13 4 4 5 68 4 3 5-88 4 48 5-31 4-10 5-35 4-18 5-29 4 44 5-38 4 67 5-23 4-27 5 20 4-24 5 28 4-18 5 58 4-39 5-39 4 19 5-32 4 28 5-9 5-30 4-6 5 40 4-37 5 14 5-34 4 35 5 6 4-7 5-25 5 12 4-3 5 19 4 30 5-42 5 12 4-39 5 27 5-4 4 40 5-28 5-3 5-16 4-10 5 1 5 21 4-19 5-12 5 27 5 1 4-7 5-26 5 52 5-8 4 27 5-32 5 1 5 20 5-28 4 23 5-66 5 46 5-37 5-75 4 41 5 73 5-89 5 47 5 27 4 3 5-55 5 46 0 45-5 10-4-52-5 37-4 33-5 16-4-31-5-15-4-46-5 4-4 41-5-37-4 104-5-30-4 26-5-42-5 31-4-64-5 5-4 87-5-33-4-45-5 90-4-67-5 34-4 58-5-12-4 34-5-89-4 8-5 22-4-21-5 34-5 0-4 24-5 1-4 0-5-82-4 15-5 56-4 10-5-2-4 28-5-75-4 58-5-66-4 54-5-84-4 59-5 10-4 29-5-5-4-52-5 55-4-12-5 34-4-12-5 11-5-17-4-54-5 24-4 55-5-28-4-67-5 30-4-5-5 45-4 2-5 0-4 7-5-48-4 36-5-28-4-7-5-36-4 25-5-32-4 101-5-4-4-72-5 43-4 3-5 44-4-50-5 30-4-23-5 2-4-26-5 75-4 24-5-90-4 38-5 22-4-35-5 95-4-92-5 48-4 35-5-12-4 48-5-31-4-4-5 4-4-30-5-26-4-26-5 66-4 7-5 5-4-55-5 91-4-54-5 47-4 48-5-99-4 50-5-57-4 48-5 16-4-52-5 38-4-13-5 19-4 43-5-60-4 55-5 4-4-45-4 33-5-5-4-31-5-11-4 44-5 31-4-62-5 35-4-26-5 1-4 21-5 29-4-20-5 13-4 12-5 16-4-23-5 28-4-88-5 103-4-39-5-3-4-4-5 103-4-85-5-42-4 17-4 40-5 12-4-44-5 0-4 27-5 9-4-12-5 17-4-34-5-8-4 26-5-19-4 87-5-40-4 18-4 19-5-37-4-25-5 28-4 23-5 5-4-61-5 69-4-31-5-18-4 32-4-55-5 60-4 14-5-45-4 26-5 15-4-42-5 18-4-9-4 57-5-53-4 47-5 21-4 0-5-4-4-2-5 3-4 17-4-55-5 63-4 14-5-20-4 20-5-17-4-13-4-22-5 40-4-53-5 85-4-5-5-6-4 9-4-40-5 42-4 0-5 13-4 6-5-7-4-52-4 69-5-86-4 34-5-25-4 30-4 32-5-54-4 59-5-3-4-8-5 0-4-39-4 121-5-66-4-60-5 36-4-8-4 60-5-56-4-16-5 34-4-22-4 95-5-26-4 1-5 19-4-44-4 28-5 8-4-36-5 29-4-67-4 80-5-20-4 14-4-62-5 131-4-123-5 8-4 59-4 10-5-22-4 26-4-7-5 19-4-52-4 6-5 52-4-76-4 74-5-17-4 9-4-1-5 45-4-73-4 29-5-19-4 50-4 13-5-21-4-6-4-66-4 59-5 17-4 20-4-15-5 20-4 25-4-18-5 55-4-28-4-34-5 24-4-30-4 5-4 16-5-57-4 107-4-17-5-50-4 52-4-41-5-21-4-15-5 23-4 18-4 13-5-5-4-20-4-3-5 71-4-31-5-5-4 88-4-98-5 61-4-58-5 78-4-2-5-8-4-48-5 55-4-64-5 28-4 55-5 21-4-67-5-7-4-18-5 58-5-36-4 23-5 24-5 12-5-7-4-38-5-7-5 36-5-10-5-31-5 18-4 48-5-35-5-28-5 33-5 19-5-52-4 30-5-18-5 52-5-21-5 3-4 56-5-84-5 24-5 34-4 8-5-20-4 49-5-41-5 12-4 13-5-19-4-7-4 11-5 15-4-7-4 38-5-69-4 74-4-10-4-52-4 41-4-31-4-4-4-18-4 114-4-82-4 50-4-25-4-14-4 20-4 34-4-84-4 24-4 49-4-7-4 15-4 0-4 1-4-15-3 6-4 31-4-41-4 14-4-12-3 31-4 6-4 30-3-5-4-6-3 10-4 1-3-18-4-2-3 32-4-1-3-20-3 6-3 19-4-13-3 16-3 22-3-7-3-14-3 34-2 8-3-25-3 2-3 13-2 23-3-20-2 18-3-6-2-9-2 7-3-4-2 24-2 11-3-7-2-15-2 19-2-9-3 16-2 8-2 21-2-21-2 26-2-7-2 16-2-4-2 22-2-23-2 6-2 12-2 22-2-18-2 1-2 1-1 14-2 13-2 16-2-19-1-1-2 20-2 18-2-12-1 27-2-22-2 6-1 11-2 25-1-19-2 13-2 23-1-1-2-25-1 25-2 7-1 15-2-2-1-10-2 23-1-4-2-1-1 32-1-31-2 24-1-13-2 11-1 31-1-26-2 6-1-23-1 38-1 14-2 2-1 20-1 1-1-10-2 9-1-3-1 14-1 5-1 3-2 13-1 12-1-12-1-1-1 15-1 8-1-6-1 11-1 17-2 2-1-9-1-5-1 18-1 8-1 4-1 18-1-7-1 10-1-3-1 2-1 6-1 19-1 9-1-21-1 6-1 7-1 4-1 11-1-7-1 1-1 24-1-4-1-12-1 2-1 15-1 11-1 17-1 10-2 0-1 7-1-6-1 15-1-10-1 14-1-9-1 10-1 5-1-1-1 28-1-25-1 46-1-29-2 9-1 12-1 7-1 13-1-11-1 21-1-6-1 4-2-1-1 21-1-3-1 13-1 18-1-1-1-3-2-6-1 7-1 15-1 2-1-6-1 20-1 8-1 1-2-7-1 15-1 1-1-1-1 23-1-11-1-2-2 9-1 16-1-4-1-2-1 12-1 19-1-22-2 24-1-16-1 28-1-1-1-4-1 5-1 11-2 4-1 18-1-11-1 17-1 7-1 14-1-13-2 19-1-2-1-11-1 33-1 9-1-18-1 9-2 3-1 28-1-21-1 1-1 8-1 26-1 6-1-16-2 26-1-4-1-16-1 16-1 15-1-17-1 23-1 26-1-12-1-24-1 32-1-5-1-13-1 15-1-1-1 27-2 4-1 9-1-21-1 8-1 26-1-11-1 2-1 21-1 4-1-5-1 5-1 15-1 0-1 3-1 3-1 1-1 1-2 16-1 5-1-41-1 37-1 7-1 19-1-8-1 25-2-15-1-5-1 2-1 37-1-10-2-9-1 30-1-17-1-20-2 48-1 13-1-15-2 11-1-10-2-14-1 22-1 25-2-25-1 23-2 0-1 6-2 24-1 3-2-9-1-13-2-2-1 13-2 19-2 10-1-24-2 25-2-9-1 12-2 27-2-1-2 4-1 10-2-9-2 5-2 25-2 0-2-2-2 1-1 5-2 7-2 0-2 7-2 3-3 18-2 1-2 38-2-48-2 27-2-23-2 11-3 6-2 26-2-14-2 4-3 13-2-10-3-2-2 14-3 6-2-3-3 8-2 23-3-8-3 8-3 0-3 21-3-9-3 11-3-14-3 26-3-20-3 20-3-5-3 11-4 21-3-7-3 13-4-3-3-11-3-3-4 32-3 0-4 2-3 9-4-6-3 17-4-3-4-6-3 7-4 16-3-14-4 27-4-20-4 7-3-25-4 39-4 8-3-13-4 21-4-7-4 30-3-41-4 43-4-15-3 35-4-72-4 70-4-1-3-28-4 42-4-6-3-50-4 76-4-15-3-2-4 30-4-53-3-29-4 45-4 17-3-15-4-24-4-4-4 30-3 10-4-39-4 59-4-35-4 37-3 27-4-55-4 27-4-1-4-17-4 37-4-25-4 79-3-39-4 49-4-83-4 45-4-27-4 23-4 20-4 2-4 24-4 7-4-19-4 1-4-20-4 23-4-18-4 55-4-29-4 34-4-38-4 28-4-11-4-71-4 72-4-28-4-7-5-8-4 5-4 6-4 67-4 20-4-73-4 80-4-17-4-7-4-32-4 75-4-28-4 30-5-26-4-2-4 38-4-73-4 28-4 19-4-23-5 5-4 46-4-41-4 74-4-40-4 25-5-27-4-45-4 67-4-56-4 61-5-30-4 85-4-36-4-23-4-47-5 62-4 35-4-2-4-16-5-28-4-55-4 54-4 40-5 11-4-64-4 2-4 60-5-2-4-52-4-10-5 0-4 71-4-57-4 46-5-3-4-8-4 39-5-103-4 90-4-23-5-20-4 15-4-39-4-7-5 73-4 16-4-36-5-24-4 73-4-13-5-31-4 38-4 32-5-14-4-41-4-8-5 69-4-56-4 59-5-15-4-19-4-13-4-9-5-16-4 89-4-21-5 42-4-39-4-24-5 81-4-41-4 24-5-28-4-28-5 32-4-14-4 35-5-11-4-10-4-35-5 31-4 15-5 21-4-46-4-11-5 68-4-44-4 31-5-40-4-3-5 50-4 3-5 3-4 27-4 14-5-73-4 3-5 39-4-11-4-9-5 35-4 38-5-85-4 26-5-16-4 13-4 73-5-52-4-30-5 83-4-44-5-36-4 23-5-27-4 90-4-56-5-9-4 79-5-81-4 61-5 15-4-51-4 91-5-45-4 17-5 16-4-22-4 21-5 17-4-67-5 55-4 61-4-27-5-47-4 64-5-33-4-25-4 61-5-20-4-31-5-52-4 90-4-6-5-43-4 83-4-101-5 71-4-5-4 55-5-89-4 10-4-37-5 49-4-1-4 23-5-23-4-1-4 37-5 44-4-67-4-27-5 65-4 16-4-33-5-38-4 72-4-23-5-20-4-17-4-13-4 2-5 74-4 17-4-31-5-7-4-1-4-46-4 47-5 3-4-10-4 21-5 9-4 36-4-61-5-16-4 59-4 17-4-21-5 52-4-73-4 77-5-22-4-13-4 5-4 30-5-28-4-26-4 4-5 29-4 4-4-2-5 2-4 29-4-52-5-1-4 45-4-25-4 19-5 19-4-6-4-37-5 24-4-36-4 65-5 24-4-59-4 75-5-5-4-49-4-70-5 146-4-22-5 17-4-61-4 91-5-64-4 52-4-47-5 14-4 21-4-101-5 116-4 7-4-34-4 62-5-118-4 94-4-62-5-10-4 26-4 62-5-5-4-43-4 10-4 52-5-69-4-12-4 87-5-34-4-5-4-22-5 72-4-14-4 11-5-39-4 37-4 21-5-80-4 101-4-18-5-63-4 4-5 28-4 55-5-24-4-72-4-6-5-17-4 76-5 12-4 36-5-97-4 13-5 43-5 66-4-62-5-8-4-19-5-30-5 94-4-36-5-34-5 30-5-7-4 3-5 9-5 8-5-60-5 81-5 3-5-29-5-36-5-9-5 35-5-1-5 11-5-21-6-16-5 84-5-64-5 62" stroke="#D95319" stroke-width="54.0" fill="none" stroke-linejoin="round" stroke-linecap="round"/></g>
<g clip-path="url(#cb)"><path transform="scale(.1)" d="M11400 5231l5 52 4-10 5 11 5-32 4 13 5 9 5 90 4-47 5 84 4-105 5-39 5-9 4 160 5-64 5 9 4-71 5-8 5 58 4-139 5 64 5 101 4-102 5 29 4-56 5 98 5-25 4-78 5 111 5-69 4-79 5 20 5-9 4-25 5-58 5 41 4 37 5 58 5-103 4 49 5 77 5 2 4-56 5-92 5 205 4-215 5 58 4-34 5 158 5-46 4-22 5 68 5-67 4 25 5-69 5 41 4-118 5 81 4 44 5 17 5-119 4-3 5 68 4 41 5-168 5 71 4 89 5-132 4 60 5 70 4-131 5 8 5 128 4 43 5-140 4-12 5 98 4-64 5 45 4-130 5 76 4-12 5 126 4-39 5 0 4-125 5 156 4-183 5 140 4 39 5-25 4-33 5-48 4 43 4 27 5-30 4-146 5 120 4-54 5 83 4-7 5-16 4-98 5 104 4-40 4-23 5 9 4-52 5 92 4-76 5-8 4-2 5 27 4-79 4 127 5-27 4-30 5 4 4 30 5 86 4-204 5 12 4-42 5 120 4-44 4 50 5-84 4 80 5-119 4-2 5 15 4 4 5 63 4 86 5-31 4-175 5 10 4 51 5-11 4 28 4 100 5-60 4-117 5 113 4 33 5-140 5 19 4 84 5 15 4-54 5 1 4-48 5 132 4-146 5-52 4 112 5-64 4-39 5 159 4-140 5-3 4 132 5-100 5-59 4 101 5-48 4 48 5-63 4 76 5 29 4-61 5-112 4 111 5 23 5-144 4 123 5-59 4 59 5-98 4 59 5-99 4 57 5 98 5-121 4 137 5-194 4-28 5 126 4-157 5 208 4-27 5-87 5-62 4 83 5-82 4 63 5 27 4-126 5 87 5-11 4 14 5-108 4 146 5 12 4-20 5-13 4 25 5-102 5 71 4-139 5 56 4 147 5-36 4 27 5-142 5 89 4-117 5 82 4-107 5 57 4-33 5 81 4-11 5 51 5-42 4-40 5-87 4 97 5-11 4 29 5 13 4-73 5 89 5-99 4 123 5 44 4-56 5 25 4-72 5-62 5 108 4 9 5-94 4 98 5-77 5-50 4-77 5 87 4-18 5 152 4-176 5-21 5 138 4-97 5 138 4-149 5 38 4 77 5 18 5-17 4-116 5 13 4 45 5-74 5 130 4-116 5 121 4-207 5 110 4 41 5-83 4-34 5 37 5 88 4-124 5 53 4-12 5 7 4-38 5 164 4-34 5-55 4-123 5 33 4 105 5-103 4-10 5 67 4-57 5-11 4 43 5 10 4 14 5-103 4 87 5 64 4-61 5-130 4 79 5-9 4 123 5-79 4-83 5 93 4-3 4-32 5-120 4 88 5-34 4 39 4-22 5-12 4 65 5 9 4-131 4-6 5 35 4-3 5 61 4 22 4-86 5 142 4-118 4 10 5-32 4 86 4-11 5-47 4-111 4 130 5-90 4 69 4 34 5-3 4-133 4 121 5-109 4 74 4-10 5 36 4 69 4-89 5-20 4 8 4 55 5-92 4-48 4 92 5-46 4 47 4 72 5 1 4-199 4 62 5 61 4-133 4 52 5-65 4 63 4 110 5-74 4 74 5-95 4-88 4 111 5-95 4 115 4 14 5 9 4-27 5-50 4-50 4 94 5-141 4 124 5-88 4 115 4 30 5-73 4-73 5 55 4-114 5 155 4-97 5 27 4-52 5 35 4 101 5-18 4 0 5-126 4 128 5-128 4 1 5 43 4-55 5 35 4 80 5-47 4 119 5-92 4-24 5 18 4-43 5 107 4-1 5-138 4-41 5 120 4-34 5 31 4-139 5 106 5-93 4 97 5-131 4 183 5-50 4-106 5 76 4-106 5 64 4 1 5 103 4-146 5-27 5 115 4-15 5 64 4-146 5 37 4 93 5 28 4-182 5 168 4-31 5-135 4 165 5-9 4 6 5-40 4-91 5-21 4 93 5-55 4 85 5 6 4-24 4-131 5 150 4-127 5-61 4 185 5-53 4-20 5-71 4-40 4 141 5-29 4 23 5-66 4-43 4 31 5-95 4-4 5 119 4-104 4-4 5 135 4-83 5 18 4 11 4-56 5-63 4 90 5 44 4 5 4-23 5-59 4-25 4-10 5-50 4 111 5-44 4 31 4-81 5 61 4 89 4 7 5-91 4 57 4-60 5-67 4 29 5 18 4 19 4-25 5 94 4-78 4 70 5-133 4 105 4-58 5-72 4 196 4-129 5-75 4 69 4 89 4-119 5 22 4 114 4-198 5 126 4 24 4-163 5 129 4-1 4 37 5-133 4 49 4 37 4 39 5-80 4 35 4-2 5-70 4 108 4-185 4 152 5-120 4 116 4-93 5 76 4-130 4 144 4-106 5-9 4-11 4 42 5 27 4 79 5-82 4-38 4 62 5-179 4 36 5 45 4-11 5 39 4 22 5 39 4-111 4 85 5 58 4-175 5 36 4 98 4-137 5 120 4-47 4 31 4-10 4-5 5 27 4-19 4-114 4 91 4 78 3-211 4 139 4-113 4 100 3-88 4 72 3-24 4 57 3-95 4 1 3-54 4 100 3-32 4-45 3 23 4 104 3-48 4-20 3-46 4 50 3-90 3 92 3-108 3 48 3 17 3-163 2 59 3 116 2-104 3 0 2 21 2-17 1-1 2-39 1 68 2-37 1 25 1-35 2 62 1-43 1-42 1 42 2-39 1-47 1 46 1-55 1 60 1-49 1-13 1-7 1 48 1-18 1-56 1-15 1 23 1-28 0 19 1 24 1-27 1 2 1-46 0 52 1-5 1-39 1 8 0-9 1 37 1-77 1 83 0-23 1-13 1-48 0 51 1-24 1-32 0-4 1-1 0 29 1-43 1-2 0-7 1-1 0 49 1-7 1-47 0-12 1-13 0 32 1-29 1 16 0 23 1-12 0-9 1-15 1-53 0 15 1-15 1 11 0-20 1 36 0-37 1-8 0 14 1 3 0-18 1-37 0 21 1 22 0-62 1 17 0-17 1 26 0-8 1-10 0 1 1-7 0-21 1-28 0-6 0-6 1-11 0 4 1-20 0 33 0 16 1-54 0-18 1 31 0-6 0-12 1-32 0 30 1-27 0 9 0-5 1-27 0 4 1-17 0 39 0-11 1-2 0-6 1 34 0-55 0-37 1 68 0-14 1-56 0 45 1-75 0 76 1-12 0 2 1-15 0-11 1 15 0-23 1-2 0 8 1-63 0 16 1-9 0 17 1-36 1 17 0-15 1 31 1-4 0-11 1-31 1 12 1-36 1 30 0-46 1 10 1 37 1-9 1-8 1-65 1 10 1 4 1 36 1-66 1 44 2-41 1 10 1 9 2-42 1 26 1-56 2 60 1-62 2 45 1-83 2 53 1-5 2-30 2-29 1 36 2-61 1 43 2-28 1-3 2 27 1-72 2 24 1-15 2-13 1 28 2-29 1 60 1-15 2-25 1-29 1 48 2-32 1 35 1-44 1 29 2 37 1-22 1 13 1 9 2-25 1 18 1 0 2 38 1-17 1-27 1 40 2-30 1 16 1 47 1-51 1 25 2-33 1 66 1 2 1 0 1 22 1-14 0-2 1 29 1-43 1 53 0 6 1 9 1 12 0-26 0-19 1 5 0 49 1-22 0 28 0 5 0-30 1 21 0 26 0-34 1 52 0 10 0-47 0 12 1 51 0-48 0 58 1 6 0-2 1 4 0-43 1 24 0-9 1 8 1 43 1-52 2 49 2-28 2 22 2-21 3 10 3 12 3 5 3 15 4 35 3-5 4-13 4 36 4-27 3 2 4 12 4 24 4-2 4-23 4 26 4-57 5 8 5-12 5-2 6 34 5-16 6-4 6 14 6-21 5 14 6 17 5-10 5-15 5-16 4 39 4 8 4-41 3 10 3 50 2-64 3 37 3-37 3 10 2 12 2 30 3-72 2 22 2-24 2-10 2 21 3 31 1-60 2 14 2-20 2-13 2 21 2 8 1-45 2 49 2-25 2-14 1-36 2 20 2-14 1 29 2-47 2 15 1-46 2 22 2-26 1-5 2 20 2 3 2-27 2-23 2 28 2-45 2 8 2 65 2-47 2 45 2-48 3-43 2 46 3 16 2-34 3-12 3 13 3-12 4-26 3 78 3-14 4-8 3 0 4 36 3-28 4-3 3 11 4 34 3-48 3 51 3-13 4-7 2 58 3-18 3-25 3 15 2 19 3-19 3 38 2-23 3 22 2-19 3 8 2 16 3 26 2-48 2 34 2 20 3 1 2 2 2-3 2 33 1 16 2-39 2-21 2 41 2 7 2-2 2-27 2 39 2-12 2 30 1 37 2-1 2-49 2 34 1 8 2 13 1-9 2 28 1-18 2 7 1-9 1 29 1-16 1 16 1 20 1-41 1 23 1-24 0 27 1 3 0-48 1 81 0-32 1-23 0 62 1-10 0-12 1-52 0 46 1-52 0 8 0 1 1-41 0 55 1-12 0-16 0 11 1-15 0-25 0 9 1-36 0 24 0-54 1 48 0-7 0-32 1-15 0 51 0-40 1-11 0-1 0 27 0-1 1-24 0-43 0 38 0-20 1-25 0 17 0-57 0 11 0 3 1-27 0 50 0-59 0 37 1-17 0-13 0 15 0-53 0 10 1-4 0 13 0-29 0 40 1-12 0-24 0-44 0 39 0-41 1 48 0-3 0-22 0-47 1 65 0-36 0-24 0 9 0-8 1-10 0 21 0-6 0-47 1 54 0-18 0-11 0 7 0-38 1-14 0 8 0-42 0 2 0 25 1-2 0-34 0 36 0 3 0-53 0-3 1-16 0 2 0-19 0 59 0-43 1-7 0 18 0-65 0 62 0-1 0-45 1-2 0-30 0 14 0-9 0 36 0-42 1-11 0 9 0 14 0-49 0 60 0-3 1 6 0-63 0-1 0-19 0 39 0-37 1 62 0-60 0-8 0 12 0 17 0-51 0-31 1 15 0 36 0-53 0 25 0-4 0-39 0 32 0 5 0-58 1 33 0-45 0 22 0-24 0 29 0 15 0-31 0-41 0 36 0-28 1-27 0 71 0-11 0-7 0-63 0 57 0-30 0-18 0 16 0-34 0 31 1-6 0-66 0 58 0-23 0-1 0-27 0 3 0-14 0 7 1-54 0 22 0-33 0 64 0-72 0 38 0-45 0-17 1 66 0 3 0-16 0-42 0 8 0 7 0 20 1-17 0-12 0-50 0-5 0 24 0 25 1-44 0 27 0-22 0-12 0-5 1 50 0-41 0-45 0 71 1-20 0-10 0-49 0 14 1 4 0-48 0 59 1-36 0 25 0-23 1 23 0-49 1-67 0 70 1-27 1 16 1 6 1-15 1 2 1-51 1-40 2 76 1-29 2-42 1-16 2 90 1-69 2 45 2 16 2-46 2-20 2 56 1-63 2 4 3 45 2-73 2 48 2-95 2 88 2-78 3 79 2-86 2 128 3-132 2 18 2 62 3-87 3 17 3 38 3 91 3-71 4 76 3-34 4-85 4-85 5 12 4 49 4-33 5 14 4 36 5 10 5 66 5-118 5 124 5-78 5 79 5-13 5-102 5 76 6-93 5 47 5-40 5-74 5 112 5 17 6-13 5 34 4-63 5-59 5 98 5-144 5 74 4 26 5-31 5-51 5-44 4 80 5 45 5-42 5 5 5-41 5 10 5-7 4 15 5-50 5-10 5 43 5-55 5 58 4 98 5-125 5-65 4 53 5-35 4 16 5 3 4 13 5 119 4-52 5-126 4 177 5-145 4 46 5-10 4-41 5-7 4 93 4-113 5-6 4 132 5-100 4 27 4 25 5 44 4-18 4-33 5-1 4 23 4-26 5 30 4-55 4-44 5 50 4-21 4 71 4-132 5-7 4 57 4-65 5 93 4-120 4 22 4 133 5-90 4 81 4-110 4-26 5 49 4 44 4-83 4 108 5-42 4-111 4 62 4-19 5 77 4-114 4 142 5-126 4 106 4-44 4 4 5-60 4-71 4 115 5 19 4-64 4 98 5 61 4-191 4 12 4 116 5-120 4 95 4-32 4-94 5 85 4-89 4 93 4 1 5-184 4 117 4-8 4-87 5 59 4 64 4-98 4 116 5 23 4-89 4 21 4-12 4 10 5-78 4 53 4 96 4-124 5 46 4-63 4 119 4-1 5-133 4-36 4-9 4 80 5-53 4 114 4-47 4-41 5 22 4-96 4 186 4-144 5 27 4 103 4-62 5-5 4 45 4-130 4 68 5 55 4-74 4 16 5 68 4-29 5-152 4 66 4 74 5-103 4 128 4-159 5-2 4 80 5-69 4 6 5 175 4-55 5-17 4-119 5 60 4 50 5-25 4-38 5 55 4 45 5-190 4 150 5-39 4 74 5-103 4 69 5 16 4-86 5 28 4-4 5-15 5 20 4-56 5 47 4-62 5-28 5 8 4-21 5 73 4-141 5 147 5-130 4 27 5 78 4 98 5-200 5 29 4 95 5-36 5 18 4-135 5 95 4-23 5 54 5-119 4 16 5 48 5 19 4-85 5 82 5-22 4 13 5 26 5-32 4 37 5-21 5-13 4-59 5 60 5 37 4-106 5-28 5 9 4 16 5 56 5 56 4-140 5-13 4 130 5-91 5 28 4-25 5-14 5-6 4 69 5-10 5 49 4-71 5-33 5 90 4-29 5 0 4-56 5 66 5-120 4 196 5-63 4-88 5 111 5-75 4 25 5-69 4-35 5-15 5 108 4 56 5-203 4 148 5-14 4-15 5-121 5 65 4-10 5-85 4 33 5 83 4 30 5-123 5 182 4-139 5-69 4 130 5-83 4 103 5-98 5 50 4-69 5-55 4 172 5-83 4-31 5 69 5 68 4-221 5 136 4-74 5 94 4-99 5 65 4 83 5-142 5-10 4 139 5-115 4-13 5 167 4-129 5-23 5 13 4-50 5 96 4-13 5 16 5-92 4-29 5 140 4-32 5 33 5-149 4 147 5-5 4-18 5-10 5-22 4-103 5 167 4-65 5 75 5-118 4 22 5-75 5 46 4 67 5-137 4 48 5-51 5 57 4-68 5 67 5-1 4-63 5 82 5 53 4 29 5-65 5 59 4-52 5-13 5 10 5-97 4 65 5 14 5-41 5 38 4-61 5-82 5 65 5-36 4 124 5-61 5-41 5 109 5-101 4 27 5 62 5-97 5 119 5-62 5 29 5-85 4-13 5 65 5-27 5-78 5 132 5-128 5 62 5 33 5-12 4-113 5-32 5 137 5 71 5-133 5 92 5-24 5-98 5-4 5-40 5 55 4-85 5 180 5-118 5 106 5-178 5 120 5-40 5 101 5-105 5 59 5-75 4 137 5-124 5-49 5 63 5 119 5-197 5 29 5 7 4-30 5 105 5-81 5 56 5-83 5 22 4-33 5 190 5-130 5 101 5 17 4-83 5-58 5-20 5 128 4-133 5 31 5-10 5-21 4-21 5-1 5 73 4 25 5 17 5-21 4 22 5 24 4-93 5 99 5-147 4 44 5-39 4 118 5-137 4 56 5-77 4 107 5-105 4 124 5-106 4 43 5 122 4-6 5-136 4 78 4 39 5 31 4-57 5-99 4 52 4 111 5-78 4-35 5 52 4 4 4-8 5 21 4-39 4-31 5 38 4-81 4 101 5-45 4-45 4 131 5-100 4-6 4-90 5 84 4-46 4 30 5 77 4-5 4-24 4-5 5 16 4-42 4-91 5 62 4-29 4-1 4 17 5-67 4 102 4-78 5 63 4-97 4-21 4 14 5-25 4-18 4 59 4 65 5-18 4-114 4 12 4-40 5 44 4 58 4 41 5-4 4-71 4 72 4-129 5-67 4 208 4-48 4-15 5-58 4 69 4-151 5 86 4 48 4-11 5-107 4-26 4 155 4-115 5-7 4 128 4-136 5 115 4 7 4-53 5-41 4-15 4 142 4-22 5-74 4 120 4-124 5-46 4-3 4 1 4 1 5-11 4 98 4-19 4-14 5 82 4-115 4-8 4-12 5-19 4 25 4 121 4-30 5-121 4 101 4-29 4-18 4-46 5-31 4 48 4 54 4-59 4-3 4-62 5 132 4-39 4-171 4 174 4 46 4-180 4 88 4-8 5-96 4 134 4-34 4 61 4-207 4 181 4-133 4-36 4 79 4 74 4-84 0 67-5-69-5 100-5-24-5 54-5-136-5 202-5-127-5 29-5-80-5 35-5 79-5 18-5-145-4 136-5-69-5-66-4 7-5 78-5-76-4-25-5 5-4 82-5 24-4 17-4-25-5-4-4 2-5 43-4 5-4-54-5 96-4-116-4 104-5-45-4-9-4 19-5-53-4 85-4 27-4-159-5 140-4 17-4-43-4-74-5-14-4 155-4-116-4 66-5 18-4-7-4-109-4 100-5-63-4-55-4 190-4-18-5-142-4 139-4-110-4 35-5 111-4-28-4-139-5 165-4-98-4-18-5-23-4 139-4-84-4 102-5-11-4-40-4 24-4 78-5-135-4 38-4 35-4-43-5-64-4 32-4 47-4-1-5 101-4-34-4-27-4 147-4-64-5-54-4-9-4-22-4-35-4 2-5 140-4-95-4-6-4 36-4 32-5-13-4 76-4-164-4 112-5 26-4-124-4 120-4-33-4 109-5-114-4 64-4 23-4-14-5-26-4 11-4-57-4-15-5 166-4-75-4-16-5 52-4-98-4 43-4 54-5 38-4-105-4-101-5 77-4 34-4 38-5-148-4 82-5 7-4-53-4 92-5 41-4-41-5 11-4-123-4 55-5 33-4-54-5 70-4-16-5-55-4 76-5-44-4-54-5 62-5 93-4-133-5 112-4-48-5 101-5-41-4-119-5-29-5 72-4 121-5-52-5 73-4-182-5 52-5-76-5 249-4 26-5-211-5 34-5 80-5-95-4 89-5-4-5 64-5-62-5 24-5-7-4 23-5-78-5 79-5-10-5 71-5-13-5-8-5 6-5-170-4 26-5 105-5-36-5-107-5 34-5 180-5-41-5-14-5-102-5 130-5 39-5-2-4-63-5-84-5 121-5 1-5-132-5 141-5-86-5 52-5 44-5-149-5 80-5-19-4 33-5 52-5-172-5 166-5-157-5-2-5 194-5-8-5-80-4 58-5-113-5 7-5 53-5-57-5-29-4 78-5-21-5-44-5 13-5 31-4 83-5-138-5 134-5-83-4-8-5 2-5-53-5 72-4-73-5 66-5 55-4-32-5 30-5-161-4 134-5 75-5-25-4-135-5 125-5-107-4-66-5 145-5-11-4 2-5 67-5-31-4-85-5 13-4 54-5-52-5-39-4 182-5-37-5-30-4 70-5-90-4 31-5 25-5 46-4-80-5-55-4 73-5-62-4 54-5-5-5 34-4 77-5-144-4-41-5 66-5-22-4 29-5-81-4 140-5-78-4 22-5-52-5 158-4 21-5-106-4 25-5 36-4 38-5-73-5 23-4-60-5-96-4 210-5-21-4-6-5-104-4 26-5 37-5-46-4-24-5 132-4-23-5-7-4-103-5-62-5 222-4-98-5 101-4-81-5-25-4 1-5 37-5 78-4-60-5 69-4-115-5 25-4 67-5-76-5 63-4-105-5 3-4 88-5-67-5 117-4-58-5-70-4 54-5-60-5 134-4-4-5-63-5 93-4-114-5 139-5-77-4 11-5 5-4-101-5 107-5-16-4 34-5-27-5-27-4 60-5-109-5 97-4-69-5 120-5 72-4-55-5-156-5 83-4-104-5 157-5-8-4-124-5 201-5-94-4-53-5 63-4 0-5-44-5-45-4 144-5-132-5 35-4 55-5-98-5 65-4 6-5 56-5 10-4-11-5-46-4-21-5-15-5 13-4-20-5-14-5 83-4 94-5-120-4 63-5-94-5 3-4 81-5 102-4-80-5-48-5-3-4-24-5 48-4 100-5-155-4 54-5-25-4-39-5 166-4-105-5-39-4 166-5-94-5 87-4 12-4 28-5-184-4 13-5 122-4-74-5-94-4 101-5 76-4-106-5 77-4-91-4 42-5 15-4 74-5 71-4-110-4 64-5-65-4-30-4-59-5 19-4 69-4-16-5-9-4 71-4-121-5 185-4-2-4-105-5 62-4-63-4-9-4 26-5 36-4-52-4-13-4 38-5 21-4 77-4-130-4 141-5 4-4-72-4-22-4 119-5-143-4 158-4-15-4-49-5-12-4 99-4 62-4-212-4 102-5 56-4-45-4-58-4 24-5 32-4 84-4-169-4 59-5 91-4-8-4-50-4-67-5 0-4 158-4-131-4 93-5-62-4 44-4-9-4 85-5-41-4 25-4-23-4 36-5-19-4-99-4 46-4-28-5 93-4-184-4 144-4-95-4 60-5-140-4 161-4 22-4-82-4-6-4 24-5 103-4-103-4 72-4-125-4 6-5 118-4-21-4-12-4 123-4-189-4 199-5-147-4 122-4-131-4 51-4 77-5-98-4-19-4 27-4 17-4-33-5 120-4-63-4 76-4-60-5-23-4 34-4-68-5 37-4 96-4 39-5-46-4-75-4-66-5 12-4-9-4 59-5 111-4 5-5-124-4-70-5 175-4-81-5-51-4 106-5 41-4-24-5-114-5 87-4 66-5-38-5-40-5 108-4-48-5-25-5-111-5-13-5 143-5 59-5-19-5-90-5 0-5 73-5-143-5 115-5 32-5-123-5-42-5 58-5-2-5-72-5 180-5-177-5 54-5-8-5-22-5 58-5 43-5-10-5 18-5-11-5-109-5 92-5 55-5-95-5 52-4-22-5 67-5-25-5 45-4-10-5-63-5-66-5 26-5 85-5-90-5 47-5 0-5-27-5 129-5-114-5 32-5 30-5-84-5-29-6 110-5-16-5-33-5 9-5 33-5-1-5-14-6-27-5 54-5-14-4-12-5 54-5-8-5-24-5 12-4-7-5 10-4-32-5 66-4-25-4 9-5-48-4 77-4-31-3-26-4 18-4 29-3 14-4-26-3 5-3 22-3-49-3 10-2 55-3-2-2-22-2 27-2-1-2 15-2-46-2 49-2-33-2 29-2-19-2 45-2-46-2 16-2 28-2 30-1-42-2 12-2 10-1 29-2-42-2 8-1 51-2 8-1-3-2-3-1-45-2 60-1-31-2 61-1-16-2 6-1 16-1-24-2 30-1 9-1-9-2 28-1-9-1-29-2 5-1 2-1 31-1 20-1-12-2-21-1 31-1 16-1-35-1 11-1 40-2-46-1 32-1-2-1-12-1 67-1-13-1-18-1 29-1-36-1 58-1-27-1 26-2-30-1 16-1 10-1-16-1 43-1-40-1 19-1 9-1 8-1 9-1 32-1 5-1-34-1 33-1 17-2-69-1 29-1 18-1 14-1 28-1-49-1 6-1-9-1 80-1 8-1-41-1 31-1-11-1 11-1 28-1 0-1-15-1 21-1 17-1-57-1 63-1 17-1-27-1-12-1 30-1 3-1-22-1 46-1-17 0-28-1 31-1-8-1 19-1 37-1-42-1 53-1-18-1-23 0 6-1 36-1-16-1 45-1-46-1 44-1-17-1-17 0 26-1-6-1 2-1 10-1 59-1-3-1-4-1-3 0 2-1 10-1 0-1 17-1-2-1-44-1 37-1-7 0-8-1 25-1-18-1 3-1 8-1 10-1-13-1 52-1-48-1 70-1-39-1 24-1-32 0 59-1 4-1-16-1-13-1 2-1 47-1-36-1-2-1 21-1 21-1 13-1-24-1 65-1-36-1 23-1-47-1 63-1-30 0 8-1 57-1-19-1 17-1-1-1-42-1 64-1 4-1-52-1 7-1 56 0-26-1 41-1 5-1-54-1 47-1-7-1-16-1 44-1 9-1 6-1-15-1 18 0 8-1-32-1 12-1 12-1 38-1 5-1-52-1 21-1-19-1 20-1-3-1 35-1 29-1-9 0 26-1-30-1-17-1 40-1 20-1-5-1 5-1-19-1-7-1 13-1 6-1 23-1-15-1 32-1-12-1-13-1 50-1-15-1-11-1-2-2-1-1 33-1 21-1-13-1 23-1-25-1 31-1-38-1-8-1 73-2-11-1-27-1-5-1 1-1 16-1 6-1 29-2-1-1 31-1-40-1 4-2-2-1 28-1-18-1 60-2-29-1-11-1 43-1 17-2-56-1-13-1 68-2 2-1-24-2 47-1-32-1 20-2-21-1 48-2-40-1 9-2 18-1 3-2 17-1-18-2 13-1 36-2 4-2-24-1 6-2 29-2-10-1 21-2-11-2 24-2-4-1 2-2-23-2 16-2 36-2-22-1 22-2-21-2-3-2-9-2 61-2-46-2 40-2 4-2-13-2 34-2-40-3 44-2-13-2 25-2-16-2 34-2-51-3 44-2-20-2-6-3 44-2 8-3-7-2-23-3-4-2 29-3-24-3 63-2-19-3 8-3-30-3 26-3 41-3-43-3 32-3-6-3-4-3-7-4-12-3 29-3-23-3 10-4 7-3 34-4-42-3 50-3-26-4 24-3 1-4-16-4 33-3 11-4-39-3-3-4-3-4 47-4-24-3 48-4-18-4 9-3 22-4-38-4-48-4-12-4 52-3 52-4 33-4-1-4-91-4-10-4 141-4-25-3-34-4-47-4 110-4-30-4-94-4 56-3-15-4 12-4 73-4-2-4 22-3-124-4 9-4 35-4 18-4-37-3 135-4-75-4 54-4-7-4-67-4 5-4-9-4 113-4-49-4-25-4-119-4 71-4-1-4-7-4 10-4 57-4-47-5 99-4-94-4 0-4 82-4 56-4-45-5 115-4-182-4 103-4-28-4 10-5-29-4-103-4 162-4-121-4 58-5 147-4-77-4-79-4 88-4 50-5-159-4 85-4-68-4-13-4 104-5 14-4-63-4-25-4 27-4 66-5 19-4 3-4-117-4 80-4 57-5-16-4-123-4 95-4-84-4 124-5 20-4-118-4 52-4-28-5 124-4-86-4 39-4-2-5-69-4-27-4 11-4 120-5-56-4 9-4-6-5 65-4-63-4-34-4 77-5-138-4 139-4-118-5 157-4-135-4 0-4 69-5 23-4 34-4-41-5 69-4-199-4 241-5-5-4-73-4-48-5 48-4-64-4 119-5-200-4 176-4-48-5-1-4 95-4-112-5 26-4 45-4 98-5-128-4 59-5 16-4 53-4-167-5 112-4-46-4-39-5 155-4-128-5 56-4-95-4 51-5-127-4 77-4 98-5-95-4 13-5-6-4 148-5-13-4-112-4-6-5 21-4 12-5 115-4 12-5-20-4-65-5 92-4-185-5 154-4-61-4-38-5 94-4 34-5-88-4-49-5-71-4 89-5 144-5 9-4-101-5 38-4 11-5-33-4 42-5 89-4-159-5 70-4-20-5-73-4 125-5-56-4-33-5 168-4-30-5-142-5 76-4-18-5 5-4-5-5 92-4-133-5-20-4 34-5 174-4 95-5-216-4 82-5-58-5 71-4-108-5 106-4-49-5-32-4 64-5-64-4 83-5-101-4 92-5-44-4-20-5 23-4-93-5 157-4-18-5 78-4-35-5-150-4 56-5 63-4-76-5 115-4-60-4-54-5 101-4-99-5-7-4-42-5 95-4-66-5 20-4-32-4 176-5-25-4 29-5-11-4-88-5 172-4-184-4 55-5 37-4 27-5-38-4 113-4-212-5 179-4-129-5-13-4 108-4-62-5 36-4 48-5-84-4 21-4 7-5-20-4 94-5-134-4-16-4-5-5 52-4 80-5-61-4-41-4-47-5 203-4-73-5 8-4-120-4 215-5-97-4 25-5 27-4-178-4 76-5 66-4 27-5-129-4 123-5-8-4-87-4 8-5-1-4-79-5 241-4-146-5-30-4 179-4-77-5-25-4 22-5 5-4 57-5 4-4-40-5 32-4-10-5-27-4-7-5 16-4-19-5 86-4-29-5-36-4-98-5 34-4 107-5 16-4-15-5-105-4 64-5 82-4 8-5-66-4-6-5-101-4 128-5-20-4-79-5 69-4-5-5-44-5 12-4 34-5-54-4 46-5 17-4-44-5 51-4 67-5-158-4 116-5-107-5 29-4 39-5 71-4 29-5-37-4-52-5-22-4 53-5 73-5-110-4 24-5-54-4 119-5 5-4-133-5 98-5-26-4-85-5 27-4 175-5-100-4-29-5-20-5-20-4 42-5-38-4 85-5 57-5 44-4-80-5 71-4-86-5 50-4-35-5-38-5 117-4-1-5-15-4 81-5-83-4 68-5-12-5 22-4-48-5 37-4-9-5-28-5 38-4-8-5-102-4 152-5-78-5-2-4-12-5-26-4-28-5 24-5 91-4-70-5 103-5-65-4 1-5 80-4-133-5 174-5-75-4 5-5 1-5-127-4 153-5-103-5 36-4 89-5-186-4 150-5-31-5-51-4 24-5 25-5-77-4 94-5 34-5-75-4-78-5 36-4 106-5 86-5-130-4-36-5 47-5 19-4-78-5 86-4 0-5-98-5-26-4 15-5 148-4-30-5-16-5-56-4 58-5 39-4-23-5 14-4-22-5-20-4 7-5-99-5 24-4-94-5 262-4-74-5 42-4 23-5-200-4 216-5-110-4 34-5-1-4-10-5 34-4-61-4-6-5 121-4-182-5 120-4 8-4 80-5-42-4 14-5-43-4-16-4 45-5-28-4-42-4-32-5 188-4-120-4 30-5 14-4 48-4-111-5-34-4 150-4-35-5-43-4-53-4 11-4 53-5 118-4-76-4-28-5 107-4-26-4-99-5 62-4-64-4 111-4-200-5 43-4 94-4-9-5 96-4-119-4-64-5 28-4 42-4-46-5 117-4 33-4 7-5-173-4 137-4 86-5-16-4-170-4 63-5-79-4 37-4 1-5 103-4 78-5-38-4-28-5 17-4-109-4 159-5-55-4-107-5 42-4 40-5-56-4-32-5 155-4-42-5-34-4 54-5-28-5-64-4 1-5 4-4 191-5-60-5-36-4-104-5 148-5 5-4-62-5-1-5 19-4-26-5 69-5 32-4-198-5 110-5 49-5-14-4 40-5-5-5-148-4 129-5-162-5 140-5-20-4-5-5 12-5 8-5 9-4-54-5 72-5-51-5 67-5-54-4 22-5-131-5 114-5-89-4 155-5 18-5-98-5 61-4-62-5 0-5 115-5-76-4-112-5 52-5 50-5 97-5-78-4-49-5 74-5-41-5-41-4-5-5-23-5 47-5 5-5 117-5-144-4 33-5-97-5 90" stroke="#EDB120" stroke-width="54.0" fill="none" stroke-linejoin="round" stroke-linecap="round"/></g>
<g clip-path="url(#cc)"><path transform="scale(.1)" d="M2470 13267l0 28 0 21 0-41 0-39 0 57 0-8 0-39 0 41 0-82 0-14 0 63 0 7 0 8 0-59 0 56 0-43 0-16-1-10 0-19 0-3 0-22 0 89 0-31 0 57 0-83 0 1 0-43 0 14 0 28 0-24 0-4 0-24 0 61 0-52 0-66 0 74 0-28 0 36 0 6 0-26 0-28 0-39 0 58 0 17 0-36 0-10 0 7 0-37 0-29 0 38 0 16 0-43 0 36-1-50 0 49 0-6 0-15 0-45 0 49 0-44 0-61 0 1 0 106 0-44 0-3 0-60 0 69 0-11 0-3 0-72 0 51 0-69 0 45 0 26 0-110 0 108 0-34 0-7 0-31 0-43 0 115 0-105 0-2 0 73 0-20 0-32 0-10 0-62 0 46 0-51 0 57-1-60 0-17 0 9 0 30 0-20 0-106 0 86 0-30 0 70 0-35 0-71 0 34 0 10 0-8 0-27 0 52 0-59 0-51 0 64 0-79 0 113 0-87 0 7 0-27 0 63 0 9 0-44 0-60 0 17 0 62 0-67 0-29 0-15 0 68 0-25 0-35 0-3 0-9 0 59 0-22 0 30 0-46-1-78 0 45 0 11 0 30 0 24 0-111 0 55 0-9 0-38 0 47 0-116 0 113 0-49 0-36 0 42 0-18 0 43 0 6 0-69 0-16 0 14 0-45 0 82 0-7 0-25 0 11 0-26 0 32 0-32 0 4 0-69 0 28 0 96 0-136 0 34 0-30 0 22 0 22 0-120 0 93 0-59 0-11 0-58 0 22 0 44 0-18 0-36 0-36 0 94 0-107 0 78 0 7 0 24 0-25 0-42-1-12 0 10 0 25 0-9 0-13 0 4 0-74 0-14 0 81 0-101 0 84 0-67 0 38 0 35 0-40 0-90 0 20 0 74 0-77 0 28 0 24 0-25 0-55 0 46 0 15 0-66 0-32 0 59 0-36 0 16 0 6 0-53 0 64 0 4 0-69 0 31 0-15 0-21 0 35 0-77 0 101 0-81 0 23 0-34 0-26 0-55 0 105 0-7 0-85 0 76 0-40 0 2 0 6 0-116 0 18 0 71 0-33 0-8 0-51 0 50 0-37 0 41 0 9 0-25 0 26 0-43 0 44 0-27 0-68 0 15 0 32 0 16 0-35 0-23 0 55 0-5 0-42 0-29 0-45 0 97 0-107 0 15 0 16 0 66 0-110 0 110 0-84 0 21 0 18 0 57 0-38 0-113 0 66 0-58 0 17 0-20 0 70 0-70 0 47 0-69 0 55 0-26 0 31 0-78 0 41 0-41 0-33 0 95 0-65 0 37 0-64 0 15 0 8 0 5 0 24 0-38 0-19 0 33 0-48 0-40 0-36 0 21 0 49 0 20 0-21 0-32 0-49 0 66 0 6 0-7 0-34 0-45 0 53 0-102 0 125 0-145 0 44 0 16 0 58 0-6 0-39 0 31 0-11 0-29 0-48 0 95 0-96 0 22 0 32 0-29 0-58 0 66 0-41 0-2 0-3 0 22 0 5 0-51 0 11 0-41 0 37 0 31 0-20 0 44 0-112 0 8 0-54 0 114 0-5 0-4 0-104 0 23 0 11 0-24 0 42 0 18 0-58 0 10 0 21 0-36 0 45 0-75 0-24 0-6 0 28 0-47 0-16 0 96 0-76 0 15 0 30 0-106 0 124 0-88 0 47 0 7 0-59 0-30 0-3 0-20 0 36 0-36 0 4 0 54 0-91 0 70 0-89 0 125 0-61 0-36 0-29 0 8 0 42 0-101 0 125 0-97 0-43 0 19 0 43 0 15 0-69 0 10 0 38 0-46 0 40 0-58 0-25 0 33 0-25 0 29 0 13 0-24 0-4 0 8 0-65 0 69 0-1 0-6 0-60 0-32 0 61 0 6 0-53 0-5 0 21 0-59 0 13 0 17 0-9 0 8 0 68 0-18 0-55 0-5 0-51 0 18 0 5 0-15 0 37 0-69 0 44 0 12 0-20 0 50 0-74 0-11 0 5 0-9 0-25 0 53 0 51 0-82 0-30 0 49 0-92 0 51 0 22 0-41 0-65 0 76 0-3 0-72 0 43 0-63 0-16 0 65 0-32 0 42 0-82 0 10 0 54 0-4 0 3 0-44 0-81 0 96 0-31 0-41 0-24 0 59 0-14 0 32 0-12 0-114 0 56 0-46 0 46 0-43 0 19 0-17 0-5 0 67 0-108 0-27 0 32 0-26 0 65 0 144 0-173 0-91 0 62 0-39 0 91 0-18 0-99 0 68 0-6 0-40 0 28 0 31 0-50 0 50 0 22 0-23 0-29 0-8 0-41 0 69 0-114 0 103 0-15 0-33 0-79 0 145 0-120 0-23 0 27 0-30 0 105 0-45 0 15 0-68 0 59 0-36 0-1 0-8 0 62 0-76 0-20 0 62 0-73 0-17 0 56 0-54 0-34 0 103 0-86 0 75 0-38 0 68 0-122 0 77 0 34 0-96 0-12 0-30 0 15 0 33 0-35 0 68 0-131 0 11 0 29 0-10 0 29 0-61 0 63 0-92 0-29 0 48 0 14 0-27 0-45 0 80 0-8 0 3 0-29 0 7 0 14 0-77 1 11 0 2 0 16 0-51 0-9 0-8 0 35 0 10 0-29 0-27 0 13 0 2 0-80 0 80 0-5 0-72 0 18 0 37 0-12 0-59 0 12 0 22 0-30 1 22 0 23 0-43 0-21 0-47 0 22 0 110 0-121 0 45 0-49 0 7 0 45 0-12 0 19 0-1 0-26 1-31 0-18 0 100 0-112 0 18 0-16 0 94 0-52 0-69 0 76 0-56 0-29 0 35 1 9 0-53 0 53 0-61 0 62 0-46 0 21 0 7 0-11 0-48 0-39 1 56 0-31 0 55 0-14 0-77 0-11 0 65 0-52 0-27 1-12 0 34 0-37 0-44 1 7 0 60 0-1 1-80 0 81 1-78 0 35 0 5 1-64 0 89 1-32 0 1 1-127 1 31 0-7 1 25 0 20 1-15 1 48 0-94 1-13 1 8 0-16 1 75 1-66 1 41 0 65 1-110 1-4 1 18 1-25 0 11 1 27 1-66 1 44 1-51 1 25 1-3 0-12 1 34 1-7 1 16 1-42 1-24 1 2 1 4 1 26 1 5 2-29 1 4 1 24 2-79 1 10 2-42 1 32 2-57 1 25 2-6 2-10 2-8 1 54 2-35 2-26 2 53 2-35 2 3 2-54 2 50 2-71 2 27 3-25 2-17 2 10 2-36 3 54 2 7 2 33 3-58 2-11 3-2 2-63 3 77 2-66 3 57 2-20 3-26 2-17 3 13 2 29 3-25 3-9 2 9 3-51 3 82 2-44 3 13 3-50 3-10 3 4 3 54 3-25 4-23 3 10 3 26 4-97 3 80 4-77 3 78 4-41 4-22 3 42 4-22 4 13 4-4 4-158 4 130 4-31 4-11 4 32 5 45 4-59 4-14 4-12 5 42 4-35 4-8 5-34 4-8 5 119 4-93 5 38 4-53 5 0 4 25 5 21 5 45 4-42 5-1 4 11 5-57 5 39 4 29 5-53 5 56 4 4 5-79 5 68 5-78 4 67 5-60 5-65 4 85 5-27 5-15 4 69 5-79 4 87 5-42 4-54 5 78 5-12 4-18 5-23 4-15 4 15 5 52 4-100 5 54 4-44 5 44 4-40 5 18 4-24 4-32 5 23 4 4 5-50 5 105 4-132 5 67 4-25 5 13 4-3 5-27 5 58 4-3 5-37 4 15 5-25 5-4 4 16 5-42 5-9 4 116 5-90 5-31 4-6 5 8 5 1 4 27 5 41 5-15 4-22 5 17 5-15 5-37 4 5 5 37 5-15 5 38 4-37 5 39 5-55 5-41 4 49 5 10 5-12 5 17 4-13 5 45 5-70 5 2 5 75 4-68 5 18 5-15 5 22 5-22 4 15 5-58 5 14 5 58 5-72 4 38 5-66 5 38 5 32 5 18 5 10 4-72 5 36 5-31 5 37 5-11 4 11 5-34 5-35 5-8 5 22 4 63 5-167 5 120 5 4 5-3 5-20 4-28 5 7 5 29 5 8 5 7 4-1 5-36 5 23 5-42 5 12 4 15 5-34 5 50 5-53 5 87 5-19 4-97 5 28 5 38 5-28 5 0 5 32 5 24 4 5 5 5 5-52 5-11 5-18 5 32 5-23 5 92 5-87 4-35 5-4 5 24 5 4 5-8 5 83 5-72 5-32 5 27 4 22 5-64 5 19 5 85 5-65 5 39 5-34 5 50 5-63 5-44 5 71 5-62 4 72 5-54 5 61 5-65 5 89 5-48 5-42 5 40 5-54 5 13 5 75 5-97 4-4 5 104 5-36 5 20 5-40 5 11 5-3 5 16 5 48 5-29 5-54 5 38 5 12 4-56 5 76 5-54 5-5 5 4 5 7 5-49 5 7 5 19 5-53 5 73 5-25 4-21 5 74 5-107 5 71 5-9 5-71 5 55 5-31 5-7 5 33 4 19 5-60 5 4 5-20 5 31 5 3 5 79 5-47 5-85 5 63 4 35 5 0 5-51 5 45 5 31 5-42 5-28 5-2 5 76 5-52 4-35 5-2 5-11 5 5 5 45 5-22 5-5 5-28 5 23 5-19 4 51 5 36 5-114 5-22 5 54 5-61 5 0 5 45 5 13 5-22 5 14 4 22 5-85 5 88 5 8 5-40 5-13 5 11 5-69 5 40 5 12 4 3 5 47 5-76 5 8 5 90 5 8 5-76 5 55 5-12 5-80 5-25 4 99 5-78 5 59 5-30 5-16 5-17 5 71 5-74 5 44 5 73 5-60 4-5 5-71 5 61 5-3 5 11 5-7 5-3 5 48 5-29 5-72 5 83 5-40 4 26 5 27 5-107 5 70 5-4 5 23 5 4 5 2 5 0 5-9 5-15 5-40 4 3 5 24 5 3 5-53 5 34 5-52 5 63 5-63 5-7 5-32 5 171 5-75 4-95 5 40 5 45 5-81 5 82 5 41 5-75 5 6 5 70 5-56 5-54 5 35 4 5 5 61 5-65 5 77 5-54 5-18 5 12 5-48 5 86 5 45 5-18 5 9 5-103 4 31 5 43 5-23 5 45 5-2 5-78 5 101 5-106 5 8 5-20 5 17 5 60 5-11 4-15 5-47 5 47 5-59 5 29 5 5 5 32 5 20 5 17 5-1 5-90 5 2 5-13 5 2 4 94 5 23 5-47 5-16 5-30 5-35 5 26 5-3 5-22 5 99 5-24 5-82 5 71 5-100 5 59 5-2 5 62 4-36 5 7 5 19 5 2 5-84 5 61 5 12 5-89 5-23 5 23 5 46 5 23 5-36 5 59 5-71 5-10 5-38 5 52 5 22 5-78 5 78 5-36 5-26 5-20 5 22 5-19 5 48 4 1 5-20 5 15 5-61 5 72 5-60 5 71 5-57 5 12 5-16 5 6 5 55 5-30 5-13 5-3 5 53 5-7 5 34 5-12 5-46 5 75 5-60 5-32 5 94 5-65 5-27 5 115 5-17 5-2 5-41 5 3 5-29 5-18 5 13 5-36 5 97 5-10 5 38 5-29 5-17 5 16 5-36 5 18 5 24 5-30 5 5 5-50 5 58 5-23 5 4 5-1 5-48 5 39 5 39 5-60 5-8 5 35 5-75 5 24 5 94 5-65 5 26 5 30 5-47 5 34 5-60 5 28 5 7 5-21 5-7 5-32 5 29 5-28 5 30 5 7 5-35 5 47 5-78 5 45 5-55 5 64 5-25 5 60 5 6 5-90 5-6 5 95 5-45 5-5 5 10 5-47 5 25 5-31 5 69 5-2 5-71 5 26 5-21 5 37 5 0 5-5 5 15 5 18 5-28 5 0 5 55 5-79 5 14 5 38 5 43 5-94 5 76 5-57 5-1 5 65 5-7 5-18 5-20 5-26 5 65 5-26 5 35 5-67 5-33 5 9 5 40 5 13 5 24 5 13 5-105 5 118 5-95 5 32 5-7 5 46 5-24 5-3 5 21 5-52 5-45 5 6 5 49 5 3 5-30 5 30 5-37 5 165 5-124 5 0 5-74 5 98 5-20 5-41 5-36 5 79 5-57 5-21 5 102 5-69 5 54 5-2 5-19 5-15 5-20 5 60 5-21 6 48 5-45 5 56 5-63 5-86 5 67 5 34 5-3 5-60 5 44 5 28 5-56 5-3 5-45 5 50 5 14 5-16 5-21 5 33 5 6 5-25 5 33 5-15 5 16 5-39 5 42 5 6 5-30 5 73 5 18 5-50 5 2 5-29 5 0 5 9 5-12 5 24 5-11 5 21 5 0 5-60 5 71 5-48 5 80 5-45 5 44 5 14 5-104 5 57 5-68 5 16 5 78 5 10 5-52 5 29 5-53 5 64 5 22 5-26 5 23 5 9 5-87 5 108 5-78 5-42 5 49 5 22 5-24 5 12 5 19 5 15 5 33 5-60 5-42 5 0 5-5 5 63 5-58 5 40 5-51 5 36 5 34 5-76 5 66 5 1 5-36 5-62 5 97 5 17 5-66 5 0 5 59 5-83 5 81 5-31 5-43 5 41 5 44 5-81 5 63 5-13 5 11 5-39 5-28 5 13 5-51 5 72 5-32 5-4 5 1 5 70 5-38 5-13 5 61 5 3 5-58 5-19 5 75 5 3 5-83 5 76 5-52 5-26 5 64 5-84 5 10 5 61 5 9 5-15 5-44 5 32 5-51 5 9 5 65 5-10 5-3 5-37 5 43 5-3 5-38 5 44 5-28 5-47 5 53 5-27 5 32 5 36 5-55 5 16 5-47 5-15 5 79 5-45 5 13 5-65 5 115 5-3 5-72 5-40 5 59 5 38 5-73 5 67 5-81 5-29 5 115 5-35 5-37 5-4 5 58 4-22 5-15 5 11 5-36 5-12 5 9 5 75 5-89 5-13 5 95 5-13 5-12 5 12 5-75 5 7 5 17 5 19 5 9 5 33 5-78 5 63 5-38 5 53 5-20 5-43 5 71 5-67 5-29 5 80 4-15 5 14 5-2 5-5 5-46 5 43 5-23 5-5 5 44 5-31 5-38 5 9 5-17 5 42 5-2 5 17 5-42 4 9 5 69 5-65 5 4 5 65 5-86 5 85 5-75 5 87 5 5 5-89 5 35 5 22 5 28 5-79 5 38 5-29 5 68 4-39 5 31 5-52 5 46 5-55 5 6 5 83 5-72 5 127 5-111 5 6 5-46 5 36 5-69 5-2 5 99 5 10 5-3 5 26 5 34 5-70 5-41 5-4 5 50 5-34 5 34 5 7 5 59 5-128 5 87 5-59 5 31 5 25 5-42 5 43 5-34 5 106 5-44 5-92 5 93 5 4 5-37 4 15 5 39 5-65 5 6 5 0 5-7 5 68 5-72 5 48 5-13 5-40 5-1 5 0 5-1 5 25 5 3 4-37 5 59 5 5 5 42 5-21 5-58 5-16 5 34 4-34 5 37 5-5 5 54 5-30 5-4 5-15 5 2 5-59 5 137 4-22 5-71 5 75 5-33 5-41 5 36 5 24 5-66 5 28 5 12 5 51 5-106 4 59 5-22 5 29 5 46 5-78 5 4 4 35 5-54 5 74 5-28 4-2 5-21 5 68 4-20 5-100 5 67 4 27 5-35 4 81 5-112 4 63 4 2 5-76 4 96 4-18 4 25 5-11 4 0 4-30 4 68 4-47 4-15 5 42 4-66 4 63 4 26 4-58 4-1 4 24 4 66 4-64 4 56 4-54 4 13 4 55 3-21 4-19 4-1 4 13 4-36 3-24 4 119 4-42 3-2 4-5 4 21 3 4 4-18 3 36 4 48 3-11 4-19 3-36 4 10 3 68 3-103 4 118 3-6 3 19 3-3 4 0 3-3 3-72 3 35 4-2 3 89 3-141 3 26 3 98 3-30 4-35 3 31 3 54 3 9 3-75 3 65 3-37 2-16 3 60 3 25 3-45 3 93 2-48 3-32 2 51 3-72 3 23 2 13 2 46 3-6 2-4 2 29 3-38 2-5 2-13 2 12 2 72 2 2 2-45 2 23 2-3 2 33 2 3 2 24 2-50 2-9 2 18 2 69 1-86 2 74 2-64 1 51 2 46 2-95 1 9 2 11 1 73 2-12 1-41 2 78 1-35 1 34 1-56 2 77 1-19 1 52 1-73 2 54 1-60 1-33 1 135 1-35 2-74 1 15 1 48 1 8 1 54 1 9 1-87 1-21 1 45 1-6 1 2 1 51 0 19 1-26 1 16 1-33 1-11 0-17 1 40 1 89 0-2 1-103 0 137 1-86 0-17 1 6 1-1 0 65 1 35 0-49 1 14 0 19 1-37 0 1 1 7 0 24 1 23 0 42 1-25 0 9 1-24 0-11 1 53 0 18 1-22 0 17 0 41 1 73 0-209 1 102 0 4 1-79 0 79 0 68 1-77 0 2 1 31 0 77 0-24 1-56 0 40 0-21 1-31 0 74 0-13 1-23 0-21 0 98 1-106 0 107 0-98 0-6 1 130 0-82 0 15 0 20 1-31 0 49 0 29 0-35 0 54 0 1 0-37 1 71 0-3 0-12 0 22 0-17 0 32 0-8 0-40 0 26 15 497 0 1 0 16 0-3 0 2 1 18 0 3 0-8 0 14 0 3 0-5 0 21 0-3 0 5 0 5 1 2 0 10 0 11 0-7 0 11 0 3 0-1 0 9 0 9 0-9 1 18 0 6 0 6 0 13 0 3 0-9 0 8 0 7 0-4 0 15 1 5 0 10 0-4 0 14 0 11 0-5 0 19 0-2 0 4 1 8 0 1 0 1 0 5 0 8 0 9 0 14 0-4 0-8 0 17 1-5 0 12 0-3 0 13 0-4 0 20 0-6 0 15 0-6 0 6 0 8 1 12 0-2 0 5 0 3 0 8 0 6 0 2 0 5 0 19 0 4 1 1 0-1 0 5 0 3 0 10 0 8 0 3 0 4 0 9 0-4 0 13 1-8 0 11 0 10 0 8 0 4 0 8 0 4 0 8 0-3 0 22 0-12 1 14 0 5 0-4 0 7 0 20 0-2 0 7 0-4 0 9 0 8 0 5 0 8 0-5 1 3 0 12 0 5 0 5 0 12 0-5 0 2 0 14 0 4 0 12 0 4 0-7 0 10 0 9 1-9 0 8 0 4 0 11 0 1 0 2 0 14 0 4 0-1 0 3 0 11 0 8 0 3 0 1 0 1 1 16 0 5 0-1 0 11 0-2 0 10 0 9 0 10 0-7 0 12 0-2 0 10 0-1 0 8 0-2 0 23 0-3 0 6 0 4 1 4 0-5 0 11 0 9 0-2 0 13 0 7 0-8 0 12 0 13 0-8 0 13 0 9 0-3 0 6 0 6 0 3 0 10 0 12 0-17 0 16 0 11 0-2 0 6 0-3 1 14 0 2 0 2 0 10 0 7 0 10 0-1 0 2 0 14 0-4 0 19 0-6 0 5 0 7 0 10 0 3 0 8 0-2 0-5 0 7 0 34 0-14 0 6 0 6 0-1 0 22 0-10 0 14 0-14 0 21 0-2 0 4 0 13 0 12 0-13 0 19 0 7 0 3 0 4 0 1 0 9 0 3 0 4 0 16 0-5 0 5 0 8 0 7 0-5 0 10 0 17 0 2 0-7 0 7 0 6 0 7 0 3 0 1 0 12 0 1 0 2 0 6 0 10 0-3 0 15 0-6 0 14 0 6 0 17 0-8 0 21 0-14 0 10 0 8 0 1 0 2 0 14 0-2 0 3 0 10 0 5 0 8 0 8 0 6 0 3 0-5 0 9 0 7 0 2 0-1 0 12 0 12 0-1 0 2 0 7 0 11 0 3 0 3 0-4 0 11 0 5 0 25 0-5 0-1 0 17 0-6 0 12 0 4 0 5 0 3 0 9 0 7 0 8 0 7 0 2 0 6 0 3 0 1 0 13 0 1 0 2 0 16 0-5 0 7 0 14 0-8 0 20 0-6 0 15 0 8 0 1 0 9 0 3 0-6 0 11 0 6 0 12 0-2 0 9 0 2 0 5 0 7 0 3 0 8 0-2 0 14 0 10 0 6 0-4 0 11 0-1 0 5 0 3 0 12 0 6 0 10 0-11 0 11 0 9 0 9 0 10 0-12 0 14 0 4 0 10 0-11 0 7 0 1 0 22 0-7 0 15 0 4 0 6 0-3 0 8 0 6 0 5 0 10 0-2 0 6 0-4 0 16 0 4 0 3 0 1 0 10 0 8 0 8 0 6 0 15 0-5 0 8 0 14 0-8 0 7 0 7 0 5 0 12 0-3 0 16 0-6 0 8 0 8 0-7 0 11 0 11 0-6 0 8 0 7 0 12 0 9 0-13 0 18 0-5 0 4 0 13 0 6 0 1 0 4 0 6 0 7 0 1 0 4 0 8 0 7 0-1 0 12 0 5 0 4 0 7 0-2 0 13 0 2 0 8 0 10 0-6 0 7 0 9 0 8 0 12 0-1 0-3 0 12 0 3-16 368-1 21 0 6-1 59 0-88-1 88-1-81 0 34-1 11-1 64 0-34-1 53-1-35 0 20-1 3-1-51-1 36-1 35-1-58 0 58-1-21-1 10-1 38-1 34-1-71-1 3-1 27-1 17-1-50-1 73-1-82-1 63-1 42-1-36-1-18-1-21-1 90-1-4-1-6-1-10-1 42-1 3-2-71-1 47-1 16-1 64-1-140-1 80-2 22-1-42-1 84-1-53-1-56-2 129-1-120-1 66-1 55-2-12-1-62-1 65-2-8-1-6-1-17-2 24-1 4-2 31-1-53-2 50-1-5-2-5-1 29-2 38-2-46-1 10-2 61-1-8-2-104-2 109-2-4-1-23-2 1-2 10-2 32-1-23-2-58-2 93-2 2-2-57-2 62-2-53-2 11-2 15-2 29-2-83-2 44-2-15-2 11-2-25-2 68-2-60-2 87-2 44-2-47-2 43-2-39-2 14-2 53-3-38-2-22-2 48-2-48-2 17-2 32-3-30-2-17-2 46-2 69-3-24-2-14-3-31-2 91-2-48-3-1-2 75-3-76-2 14-3-37-2 36-3 88-3-52-2 25-3-50-3-19-3 76-2 20-3-20-3 24-3-35-3 49-3-9-3-42-3 54-3 34-3-36-3-51-3 26-3 7-3 35-3 9-4 38-3-60-3-29-3-7-4 68-3-26-4 30-3 18-4-58-3-20-4 67-4-4-3-23-4-27-4 0-4 99-4-78-4 60-4 37-5-66-4 88-4-25-4 10-5-74-4 53-5-4-4-12-5-42-4 57-5-34-4 29-5 1-4 49-5-21-5 33-4 6-5-73-5 17-4 32-5 35-5-30-5-70-4 58-5 3-5 55-4-61-5 58-5 1-4-39-5 58-5-17-4-70-5 62-5 5-4 10-5 5-5-47-4 9-5-22-5-10-5 61-4-1-5-23-5 27-5 10-5-27-5-17-5 56-4-84-5 49-5 28-5-72-5 18-5-9-5 57-5 37-5-56-5 38-5-4-5-6-5-4-5-42-5-61-5 77-5-2-5-64-5 88-5 6-5-50-5 8-5 43-5-11-5-78-5 7-5 59-5 8-5-46-5-8-5 15-5 29-5-70-5 23-5 35-5 18-5-51-5-30-5 52-5 59-5-88-4 49-5 6-5-16-5-47-5 76-5 7-5-27-5-4-5 56-5-63-5 15-5 23-5-20-5-22-5 54-5 10-5-79-5 49-5 35-5-48-5 32-5-17-5 46-5-118-5 69-5 41-5-58-5 58-5-13-5 18-5-54-5-37-4 22-5-30-5 25-5 104-5-66-5-14-5 24-5 34-5-67-5 29-5-8-5 48-5-61-5 10-5 16-5 27-5-63-5 26-5 82-5-35-5-25-5 65-5-67-5-28-5-5-5 112-5-42-5-67-5 80-5-41-5-14-5-2-5-85-5 72-5 7-5-8-5 131-5-128-5 67-5-49-5-8-5-7-5-16-5 15-5 8-5-3-5 46-5-13-5-53-5-16-5 42-5-33-5-34-5 71-5-11-5 21-5 5-5-80-5 92-5-60-5 8-5 60-5-22-5-24-5 0-5-22-5 38-5 1-5-49-5 40-5 63-5-1-5-122-5 117-5-28-5-25-5 8-5 1-5-3-5-47-5 62-5-9-5-12-5 35-5-1-5 22-5-39-5 47-5-95-5 87-5-89-5 97-5-58-5-12-5 40-5 4-5-46-5 55-5-20-5-59-5 67-5 17-5-28-5 56-5-85-5-30-5 43-5-18-5 83-5-74-5 63-5-23-5 29-5-45-5-13-5 16-5-33-5 46-5-50-5 40-5 29-5-41-5-16-5 38-5-90-5 116-5-86-5 49-5-36-5-25-5 124-5-65-5-3-5 26-5-28-5 47-5-60-5 49-5 6-5-28-5-58-5 48-5 100-5-50-5 13-5-4-5-3-5-3-5 28-5-31-5-25-5 53-5 55-5-101-5-37-5 3-5 15-5 7-5 24-5 50-5 15-5-66-5-64-5 58-5 31-5-46-5-1-5-23-5 65-5-64-5 65-5-84-5 72-5 42-5-22-5-46-5 37-5-7-5-45-5 58-5 29-5-97-5-20-5 47-5 65-5-84-5 5-5 57-5-30-5 45-5-43-5 8-5-78-5 82-5-46-5 54-5-51-5 52-5-38-5-12-5-19-5 88-5-30-5-23-5 38-5-23-5-7-5-27-5 5-5-52-5 111-5-82-5 58-5-3-5-27-5 39-5-39-5 63-5-9-5-57-5-35-5-7-5 98-5-69-5 15-5-14-6 4-5 31-5-54-5 61-5 52-5-16-5-36-5 28-5-67-5 92-5-72-5 25-5-57-5 29-5 52-5-11-5-53-5-13-5 43-5-58-5 70-5 1-5-20-5 6-5 67-5-89-5-19-5 3-5 63-5-3-5-41-5-29-5 19-5-27-5 36-5-43-5 78-5-10-5-66-5 76-5-34-5-54-5-6-5 40-5-25-5 55-5 37-5-116-5 85-5-53-5 9-5-42-5 57-5-8-5-48-5 56-5-27-5-9-5 12-5-34-5 22-5-19-5 71-5-69-5-8-5 14-5 88-5-17-5-61-5 42-5-37-5-4-5-4-5 28-5 3-5 56-5-83-5 75-5-76-5 34-5-20-5 47-5-56-5 61-5-1-5-89-5 34-5 89-5-51-5 19-5-47-5-11-5-38-5 54-5-5-5 47-5 19-5-18-5-25-5-66-5 37-5-18-5 22-5 14-5 68-5-127-5 110-5-14-5 27-5-80-5-9-5-15-5-4-5 66-5-37-5 46-5-44-5-36-5 40-5-22-5 14-5-26-5 0-5 45-5-5-5-53-5 68-5-36-5 11-5-57-5 6-5 1-5 24-5 58-5-95-5 72-5-62-5 32-5 2-5 39-5-8-5-67-5 17-5-81-5 129-5 37-5-94-5-8-5 35-5-33-5 59-5-105-5 175-5-110-5 80-5-84-5 15-5 53-5-19-5-4-5 14-5-38-5 28-5-14-5-13-5 16-5-10-5-46-5-21-5 83-5 21-5-73-5-6-5 12-5 50-5-42-5 14-5 33-5 13-5-56-5 52-5-24-5-16-5-7-5 70-5-56-5-76-5 46-5-12-5-20-5 82-5-57-5 20-5-7-5 60-5-88-5-52-5 106-5-43-5-45-5 88-5-4-5-32-5 28-5-74-5-2-5-2-5-66-5 52-5-35-5 25-5 8-5 20-5-9-5 2-5-32-5 32-5-12-5 27-4 12-5-52-5-41-5 94-5 40-5-59-5-51-5 2-5 21-5 104-5-124-5 11-5 87-5 30-5-28-5-85-5 34-5-21-5 26-5 56-5-74-5 52-5 6-5 28-5-74-5-23-5 43-5 48-5-28-5-26-5 22-5-32-5 4-5 66-5-23-5 57-5-92-5-15-5 63-5 8-5 31-5-20-5-34-5 42-5-109-5 33-5 49-5 15-5 5-5 14-5-20-5-58-5 42-5-39-5 1-5-49-5 99-5-53-5-1-5 5-5 64-5-27-5-12-4-1-5 18-5-42-5 68-5-77-5 14-5-52-5 36-5 15-5-19-5-52-5 78-5 27-5-108-5 27-5-29-5 76-5-43-5 16-5 3-5 23-5-120-5 49-5 49-4-43-5-2-5 25-5 21-5-43-5 41-5 15-5 32-5-51-5-63-5 48-5-21-5-11-5 38-5-59-5 52-4 72-5-60-5-25-5 10-5 35-5-53-5 68-5-111-5 93-5-78-5 60-5-19-5 18-4 2-5 38-5-29-5-50-5 2-5 23-5-5-5-49-5 3-5 97-5-85-4 64-5-33-5 1-5 19-5-74-5 107-5-12-5-61-5 20-5 22-4-25-5-8-5 45-5-98-5 72-5-67-5 5-5 51-5-12-5 57-4-107-5-9-5 24-5 57-5-20-5-2-5 39-5 22-5-102-4 0-5 76-5-47-5 19-5 26-5-100-5 74-5-3-5-2-4 4-5-82-5 56-5-11-5-55-5 59-5-2-5 66-4-133-5 71-5-16-5-24-5-20-5 78-5-3-5-28-4-22-5 48-5 20-5-5-5-71-5 15-5 10-5-64-4 111-5-95-5 67-5 2-5 42-5-59-5 12-5-21-4-29-5 16-5-40-5 37-5-61-5-19-5 133-4-62-5-10-5 50-5-9-5-15-5-13-5-13-5-31-4 76-5-87-5 39-5 61-5-77-5 35-5-36-5-61-4 75-5-14-5 15-5 9-5 39-5-5-5-38-5 4-5 17-4-57-5 71-5-100-5-3-5 89-5-60-5-3-5-25-5 98-5-25-4-93-5 67-5-16-5 9-5-21-5-22-5 44-5-55-5-1-5 108-4-107-5 17-5 40-5 2-5-34-5-8-5-2-5-132-5 115-4 9-5 42-5-73-5 86-5-101-5 21-5 59-5-53-5 66-4-3-5-61-5 24-5-2-5-50-5 47-5-13-4 62-5-94-5-15-5-3-5 19-5 8-5 60-4-27-5-9-5-11-5-9-5 0-5 8-4 34-5-73-5 74-5-13-5-57-4 36-5-17-5-39-5 59-5-58-4 71-5-73-5-3-5-5-5 23-4 26-5-63-5 6-5 2-4 8-5 43-5-90-5 54-4-36-5 35-5 39-4-29-5-58-5-3-5 18-4 6-5 35-5-19-4-35-5-16-5 16-4 34-5 28-5-16-4-13-5 56-5-32-5-9-5 31-5 4-4-78-5 92-5-39-5-77-5 3-5 77-5-67-5-20-5 80-5-56-5-3-5 3-5 67-5-64-5-12-5 59-5 52-5-145-5 98-5 21-5-85-5-15-5 48-4-12-5 1-5 19-5-40-5 8-5 20-5-32-5-2-5 72-4-17-5-13-5-61-5 55-5 8-4-61-5-43-5 18-4 69-5-47-4-7-5 7-4-20-5 70-4 19-5-117-4-79-4 61-5 79-4-71-4 65-4-56-4-13-4-38-4 13-4 60-4-8-4-45-4 4-4 52-4-8-3-71-4-26-3 48-4 23-3-14-4 21-3 17-3-38-3-8-4-27-3-7-3 14-3-5-3 17-3-49-3 11-3 43-3-39-3 39-2-49-3 13-3 36-3-56-3-18-2 52-3 30-3-87-2 41-3-76-2 11-3 62-3-68-2 18-3 38-2-1-3-37-2 31-2 2-3-121-2 104-2-9-3 47-2-120-2 86-3-125-2 43-2 26-2 25-2-70-2-1-3 53-2-66-2 79-2-122-2 55-2-27-2 33-2 35-2-100-2 33-2-27-2-40-2 104-2-41-2 15-2 15-2-56-2-54-2 1-2 28-2-25-2 34-2 40-2-126-2-14-2 31-2 3-2 37-1-91-2 13-2-6-2 8-2 26-1-53-2 44-1-36-2-69-1 30-2 43-1-26-1-33-1 67-1-13-1-81-1 72 0-40-1-60-1 12 0 79 0-92-1 49 0-7 0 18-1-64 0 80 0 48 0-94-1-11 0 35 0 67 0-95-1 25 0-30 0-33-1 29 0-8 0 55 0 2 0 2-1-39 0 49 0-5 0 72 0 17-1-81 0 14 0-5 0 55 0-5-1 8 0 26 0-54 0 5 0 70 0-3 0-57-1 109 0-103 0 94 0-33 0 38 0-37 0-49 0 32 0 49-1-11 0-12 0 33 0-23 0 114 0-41 0 34 0-6 0 27 0-2 0-70 0 69 0 58 0-13" stroke="#0072BD" stroke-width="55.0" fill="none" stroke-linejoin="round" stroke-linecap="round"/></g>
<g clip-path="url(#cc)"><path transform="scale(.1)" d="M2460 13108l0-36 0-6 0 1 0 16 0-2 0-24 0-6 0 7-1-23 0 12 0-26 0 47 0-63 0-1 0-3 0 30 0-49 0 27 0-22 0-34 0 34 0-32 0 51 0-57 0 18 0 1-1-20 0 5 0-6 0-49 0-5 0 27 0-12 0-2 0 15 0-33 0-15 0-14 0 25 0 1 0-3 0-24 0-46 0 41 0-15-1-27 0 18 0-4 0 3 0 12 0-23 0-4 0-10 0 2 0 4 0-50 0 26 0-13 0 4 0-20 0-4 0-23 0 44 0-47 0 2 0-6-1 3 0 1 0-1 0-23 0 10 0-2 0-31 0-19 0-3 0 35 0-10 0-40 0 27 0-7 0-22 0-9 0-41 0 21 0 1 0-42 0 62 0-29-1-37 0 17 0-34 0-13 0 30 0 10 0-60 0 38 0-50 0 10 0 6 0-8 0-2 0 8 0-39 0 9 0-23 0-3 0 24 0-47 0 23 0-12 0-39 0 36 0-36-1 8 0-14 0 27 0-31 0-8 0-11 0-1 0-10 0-3 0 31 0-19 0-36 0 17 0-15 0-9 0-14 0 37 0-38 0 15 0-12 0-16 0-20 0-12 0 30 0-14 0-39 0 44-1-26 0-10 0-30 0 19 0-36 0 6 0-13 0 18 0-18 0-14 0-14 0 23 0-11 0-9 0-47 0 18 0-3 0-1 0-25 0 11 0-46 0 43 0-51 0 21 0-20 0-16 0 30 0-1 0-14 0-32 0-13-1 17 0-32 0 24 0-10 0-17 0 13 0-1 0-37 0-7 0 21 0-18 0 24 0-57 0 30 0 24 0-13 0-34 0-42 0 24 0 19 0-26 0-22 0 27 0-7 0-18 0-28 0-3 0 22 0-15 0-22 0-7 0-10 0 6 0 27 0-49 0 14 0-5 0 5 0-3 0 4-1-19 0-48 0 55 0-35 0-33 0 18 0-24 0-19 0 10 0-2 0 5 0-4 0-29 0 27 0-27 0 23 0-39 0 26 0-27 0-1 0-21 0 22 0-22 0-2 0 18 0-4 0-58 0 24 0-6 0-24 0 1 0-19 0-8 0 24 0-23 0 18 0-35 0-20 0-7 0 18 0-11 0-36 0 21 0 1 0-29 0 22 0-38 0 34 0-25 0 15 0-67 0-5 0 14 0-26 0 30 0-14 0-17-1-18 0-12 0 43 0 1 0-45 0 20 0-48 0 2 0 4 0-14 0 27 0-51 0 8 0 17 0 15 0-37 0 10 0-37 0 9 0 10 0-14 0-13 0 39 0-54 0 21 0-32 0 19 0-37 0-22 0 1 0 11 0-1 0-1 0-16 0 19 0-15 0-41 0 27 0-37 0 23 0 9 0-23 0-31 0 45 0-25 0 16 0-11 0-36 0-13 0-9 0-13 0 42 0-41 0-20 0-2 0-9 0 1 0 19 0-33 0-3 0-10 0 1 0-2 0-1 0-14 0-5 0-12 0 28 0-46 0 10 0-1 0-27 0 34 0-18 0-22 0 14 0-19 0 9 0-30 0 31 0-35 0 15 0-28 0 32 0-17 0 4 0-13 0-31 0 8 0-27 0 23 0-3 0-12 0 26 0-47 0 20 0-23 0 26 0 3 0-22 0-8 0-11 0-12 0-26 0 15 0 13 0-24 0-42 0 27 0 1 0-48 0 14 0-17 0-22 0 36 0-33 0 29 0-50 0-9 0 23 0-15 0-30 0 18 0 17 0-44 0 37 0-22 0-36 0 13 0-2 0 8 0-47 0-7 0 30 0-25 0 31 0-35 0 18 0-61 0 5 0 22 0-25 0 36 0-18 0-36 0-1 0 20 0-23 0-24 0-3 0 2 0-10 0 2 0-6 0-16 0-7 0-19 1 14 0-43 0 36 0-39 0 7 0 9 0-6 0-28 0-19 0-8 0-13 0-1 0-13 0 25 0-6 0-36 0-19 0 24 0 17 0-27 0-35 0 16 0 11 0-31 0 25 0-30 0-14 0 5 0-53 0 42 0-48 0 38 0-48 0 31 0-46 0 5 0 29 0-8 0-40 0 2 0-13 0 19 0-30 0 6 0 10 0 10 0-13 0-18 0 10 0-5 0-18 0 21 0 22 0-30 1-35 0-10 0 21 0 34 0-27 0-7 0-10 0-10 0-48 0 14 0 1 0-25 0 20 0-11 0 3 0-29 0-12 0-21 0 36 0-50 0 10 0 3 0-40 0 36 0-20 0-21 0 20 0-30 0 15 0-34 0-1 0-17 0 9 0-16 0-14 1 29 0-24 0-32 0 19 0 14 0-20 0-17 0 24 0 5 0 5 0-50 0-13 0 23 0 24 0-56 0-6 0 17 0-34 0 6 0-8 0 22 0-36 0-12 0 17 0-6 0-8 0 21 0-61 0 16 1 21 0-8 0-21 0 9 0-42 0 37 0-17 0-24 0-18 0 1 0-18 0 2 0 15 0-33 0 1 0-12 0 38 0-55 0 15 0 3 0-51 0 50 0-2 1-45 0-11 0 11 0-1 0 12 0-59 0 2 0 26 0-43 0-3 0 13 0 10 0-34 0-15 0-7 0 23 0-11 1-1 0 15 0-33 0-12 0-18 0 34 0-15 0-20 1-1 0 14 0-48 0 15 0-33 0 26 1-22 0 8 0-8 0-12 0 10 1-44 0 20 0-10 0 6 1-15 0-25 0 15 0-27 1 22 0-2 0 4 1-17 0-26 0 19 1-42 0 22 0-22 1-12 0 11 0-8 1 22 0-35 1-3 0 13 0-55 1 20 0 14 1-3 0-9 0-53 1 29 0-14 1 0 0-39 1-1 0 27 1-38 1-12 1-4 1 27 0-20 1-15 2-13 1-15 1-2 1 17 1 2 2-3 1-7 2-41 1 29 2-14 1 0 2 13 2-20 1-14 2 21 2-58 2 12 2 1 2-33 2 25 2-22 2-5 2-22 2 13 2 33 3-25 2-31 3 23 3-19 3 13 4-34 3 5 4-9 4-1 5 28 4-14 5-30 5 21 5-10 5-26 5 10 5-15 6 11 5-17 6 30 6 4 6-15 5-17 6 8 6 8 6-28 6 7 6-3 6 16 6-4 6-37 5 21 6 18 6-32 5 13 6-22 5 20 6-22 5 16 6-29 5 3 6 5 5-41 6 12 5 31 6-27 6 7 5 17 6-5 6-43 6 47 5-1 6-52 6 39 6 25 6-61 6 9 5 32 6-25 6 11 6 11 6-8 6-23 6 39 6-18 6-20 6 0 6-22 6 37 6-27 6 21 6-3 6-2 6 7 6-44 6 19 6 29 6-38 6-4 6 15 6 26 6-33 6 30 6-15 6 4 6 5 6-29 6 25 5-6 6 12 6-21 6 12 6-3 6 0 6 6 6-36 6 21 5-19 6-14 6-3 6 34 6-32 6 37 6-22 6-11 6-24 6-3 6 32 5-9 6-14 6 0 6 18 6-9 6-17 6-12 6 34 6-23 6 17 6 10 6-26 5 46 6-59 6 43 6-31 6-15 6 11 6 18 6-39 6 46 6-26 6 27 6-34 6 24 6 21 5-8 6-20 6-13 6 1 6-13 6 28 6-1 6 2 6-52 6 19 6-20 6-10 5 29 6 20 6 5 6-56 6 28 6-17 6 50 6-52 6 22 6 7 6-30 6 25 6-28 5 13 6 26 6 12 6-16 6 10 6-25 6 1 6 19 6-7 6-27 6 24 6-20 6-1 5 23 6-16 6 0 6-2 6-21 6 26 6-27 6 13 6-2 6-27 6-8 6 25 6-13 6-19 5 10 6 23 6 5 6-4 6-30 6 31 6-7 6-21 6 26 6 8 6-11 6-1 6-26 5 10 6 0 6 27 6-36 6 24 6-40 6 49 6-31 6-19 6 9 6 24 6 7 5-27 6-28 6 31 6-17 6 20 6-11 6 27 6-19 6-34 6 16 6-4 5-13 6 13 6-4 6 7 6-7 6 23 6 10 6-49 6 0 5 10 6 15 6-28 6 27 6-32 6 37 6-28 6 9 6-1 5-18 6 33 6 17 6 8 6-8 6-49 6 6 6 11 6 7 5-33 6 12 6 27 6-26 6-8 6 29 6-27 6 35 5-31 6-2 6 33 6-36 6 11 6 25 6-44 6 53 6-49 5-5 6 9 6 18 6-25 6 24 6-24 6 10 6-35 5 11 6-1 6 27 6-49 6 41 6 5 6-5 6-32 6 16 5-23 6-16 6 32 6-11 6-14 6-6 6 28 6 4 6 4 5-21 6 9 6-12 6-15 6 20 6 18 6-40 6-7 6 37 5-34 6 27 6-30 6-3 6 10 6 0 6 29 6-9 6-6 6-9 6 7 5-29 6 8 6 17 6-6 6-9 6 11 6-44 6 26 6-10 6 20 6 22 5-12 6-1 6-35 6 16 6-1 6-7 6-5 6-2 6 34 6-8 6-29 5 10 6-16 6 2 6-19 6 20 6 5 6-7 6 12 6 21 6-10 6 26 6-52 6 23 5-24 6 33 6-43 6 6 6-1 6 26 6-26 6 9 6 3 6-8 6 4 6-12 6-23 5 55 6-34 6 30 6-8 6-21 6 5 6 6 6 1 6-16 6 4 6-14 6 23 6-6 6-24 6 24 5 20 6-36 6-12 6 34 6-31 6-15 6 29 6-4 6-17 6 40 6-35 6 48 6-19 6-39 6 11 6 3 6-17 5 16 6-8 6 3 6-9 6 16 6-21 6 28 6 8 6-20 6 25 6-3 6-48 6-6 6 60 6-28 6 24 6-38 6 37 6-17 6-23 6 2 6 12 6-9 5-15 6 21 6-10 6 33 6-59 6 46 6 8 6-24 6-28 6 23 6-4 6 35 6-51 6 30 6-23 6 0 6 12 6-21 6 26 6 9 6-48 6 28 6-2 6 10 6-2 6-13 6-1 6 12 6 4 6 11 6-20 6 16 6-61 5 14 6 37 6 5 6-5 6-42 6 23 6-26 6-12 6 22 6-9 6-3 6 26 6-2 6-21 6 25 6-37 6 10 6-31 6 35 6 3 6-20 6 3 6 46 6-1 6-9 6-5 6-29 6 45 6-51 6 33 6 10 6-16 6-4 6-32 6 47 6-1 6-16 6 11 6 6 6 1 6 5 6-17 6-9 6 3 6 26 6-40 6 9 6 28 6-40 6 38 6 12 6-41 6 33 6-42 6-11 6 19 6 31 6-4 6-20 6-11 6 20 6-7 6 6 6 18 6 7 6-21 6-26 6 52 6-4 6-20 6 11 6-27 6 29 6 7 6-30 6 35 6-4 6-19 6 43 6-53 6 6 6 41 6-28 6 19 6-49 6 27 6 2 6-13 6-18 6 24 6 7 6 1 6 12 6-8 6-3 6-32 6 25 6-6 6 13 6-33 6 14 6 0 6 2 6-8 6 31 6-22 6 12 6 8 6-24 6 49 6-16 6-3 6-6 6-12 6 11 6 10 6-9 6-2 6-20 6 18 6 32 6-42 6 35 6-15 6-16 6 10 6-4 6 34 6-15 6 0 6 13 6-26 7 39 6-59 6 12 6 35 6-12 6 2 6 17 6-23 6 13 6-32 6 33 6-5 6-11 6-8 6 30 6-34 6 22 6 14 6 7 6-21 6-5 6 19 6 3 6-21 6-2 6 17 6-30 6 11 6 23 6-8 6-45 6 37 6 7 6-3 6 17 6-40 6-5 6 19 6 9 6 5 6-29 6 3 5 17 6-29 6 11 6 12 6-12 6 21 6-9 6-8 6 15 6-3 6 8 6-9 6 6 6-5 6-16 6 15 6 8 6-24 6 17 6-18 6 9 6 0 6 16 6 6 6-34 6 0 6-2 6 20 6 4 6-22 6 6 6 6 6-14 6 17 6-22 6 22 6-29 6 30 6-22 6 21 6-15 6-4 6 28 6-11 6-4 6-17 6-9 6 2 6 8 6 18 6-44 6 0 6 11 6 35 6-10 6-15 6-9 6 2 6 5 6-1 5-26 6-13 6 29 6-13 6-4 6 44 6-33 6-25 6 25 6-37 6 63 6-30 6 6 6-20 6 37 6-37 6 19 6 10 6-6 6 2 6 15 6-38 6 18 6 8 6-13 5-20 6 18 6 5 6-24 6 26 6-3 6 1 6 3 6-21 6 28 5-20 6 25 6-31 6 28 6-48 6 31 6 15 5 12 6-35 6 17 6-8 6 31 5-8 6-5 6 20 6-10 6 1 5 9 6-33 6 20 6 6 6-5 5 2 6-4 6-15 6 51 6 0 5-25 6 12 6-9 6 11 6 14 6-10 5 19 6-12 6-1 6-11 6 18 6-20 6 37 6-31 6 15 6 11 5-9 6-16 6-11 6-2 6 19 6 28 6-23 6-2 6 13 6 22 6-4 6 0 6-27 6 26 6-39 6 34 6 9 6-1 5-28 6 10 6 27 6-33 6 39 6-41 6 4 6 29 6-30 6-12 6 13 6-1 6 49 5-17 6 4 6-22 6 21 6-14 6 17 6 5 5-29 6 18 6 15 6-28 6 12 5-20 6 32 6-8 6-20 6 3 5 28 6-49 6 13 6 15 6 0 5-18 6 33 6-37 6 33 6 9 6-17 5 10 6-16 6 43 6-35 6 23 5 23 6-5 6 4 5-33 6 6 6 20 5 33 6-36 5 21 6-31 5 15 6 3 5 11 5 0 5-4 6 49 5-14 5 5 5 0 5-6 5 6 5 32 5-15 5-12 6 38 5 2 5 5 5-27 5-10 5 38 5 15 5-28 5 13 5-25 4 51 5-43 5 34 4-10 5 11 4 0 4 0 5 26 4 2 4-22 4-9 3 52 4-37 3 4 4 33 3 3 3-15 3-8 3 38 3-35 3 27 3 6 3 4 3 10 2-2 3-16 3 33 2 17 3-1 2 5 3 5 2-13 3 9 2 4 2 8 2 15 2-13 3 31 2 10 2 18 2-14 1 18 2-41 2 48 2-9 2 25 1-8 2-21 2 16 1 27 2 21 1-3 2 23 2 8 1-35 2 44 1-31 2 49 1-26 2 41 1-16 1-1 2-2 1 36 1 26 2-47 1 43 1 6 1-39 1 27 1-1 1 45 1-25 1 13 1-3 0 16 1 25 1-17 0 12 1-11 0 30 1 23 0-33 1 12 1 14 0 8 1-5 0 1 1 21 0-1 1 23 0-3 1 6 0 8 1-15 0 29 1-2 0 15 0-7 1 11 0 27 1 0 0 16 1-6 0-2 0 11 1 23 0-32 1 8 0 9 0 25 1 14 0 13 0 7 1-1 0-8 0 20 0 24 1-31 0 14 0 28 1-19 0 20 0-39 0 6 0 32 1 2 0 7 0-17 0 18 0 8 0 11 0 7 1 23 0-23 0 14 0-10 0 10 0 9 0-21 0 5 0 18 0-17 0 17 0 37 0-35 0 22 0 4 0 24 0-24 0 8 0 53 0-51 0 59 0-13 0-30 0 14 0-3 0 45 0 4 0 29 0-34 0 19 0 21 0-11 0-7 0 41 0 8 0-8 0-16 0-1 1 0 0 44 0-4 0 9 0 24 0 21 0 1 0-38 0 12 0 24 0 39 0-26 0-14 0 45 0-14 0-5 0 1 0-4 0 25 0 35 0-19 0-12 0 10 0 44 0-27 0 19 0 3 0 30 0-22 0 11 0 14 0-2 0 2 0 31 0 1 0 8 0 2 0 25 0 13 0-43 0 33 0 11 0 10 0-10 0 8 0 24 0-9 0 33 0 6 0 1 0-9 0 9 0-6 0 31 0-4 0 22 0 12 0 19 0-5 0 10 0-17 0 9 0 9 0 7 0 24 0-9 0-21 0 65 0-41 0 25 0 5 0-1 0-10 0 26 0 20 0-6 0 3 0-14 0 25 0-8 0 38 0-28 0-3 0-1 0 2 0 38 0-24 0 30 0-12 0 37 0-20 0 5 0-3 0-6 0 7 0-3 0 36 0 19 0-8 0 2 0 36 0-10 0-4 0 19 0-14 0-1 0 7 0-6 0 33 0 37 0-32 0 25 0 21 0-8 0-14 0-15 0 58 0-21 0 31 0 19 0-43 0 32 0 23 0-17 0-8 0 7 0 27 0-30 0 10 0 63 0-34 0 38 0-31 0 33 0-27 0 28 0 18 0-15 0 8 0 18 0 13 0-5 0-8 0 2 0 40 0-3 0-9 0-14 0 24 0 31 0 6 0-30 0 29 0 18 0-11 0-14 0 44 0-27 0 42 0-10 1-7 0-2 0-17 0 22 0-3 0 26 0 12 0 1 0-35 0 50 0 2 0 12 0-6 0 21 0 10 0 11 0 11 0-20 0-14 0 51 0-24 0 1 0 44 0-9 0 22 0-45 0 31 0 33 0-8 0 6 0 1 0-6 0 1 0 7 0 6 0 31 0-9 0 20 0 19 0-12 0 31 0-32 0 6 0 22 0 7 0 18 0-13 0 12 0 7 0 35 0-43 0 26 0 21 0 14 0-4 0-30 0 41 0 15 0-4 0-3 0 3 0 29 0-9 0 5 0 4 0-17 0 15 0-22 0 36 0 11 0 18 0 9 0-19 0-20 0 39 0-7 0 5 0-10 0 34 0-4 0 7 1 34 0 4 0-22 0 17 0 8 0 1 0 41 0-10 0-1 0-5 0 19 0-19 0 33 0-10 0 21 0-9 0 5 0-5 0 8 0 26 0-15 0 38 0 28 0-12 0 20 0-11 0 31 0-11 0 18 1-17 0-1 0 37 0-10 0 12 0 17 0 5 0-26 0 3 0 39 0 6 0-4 0-5 0 26 0-13 0 9 0 7 0-12 0 2 0 30 0-3 0-5 0 38 0-24 0 49 1-32 0 4 0 13 0 8 0-11 0 27 0-19 0 14 0-1 0 26 0 9 0-7 0 21 0-22 0 51 0-7 0-6 0 6 0-25 0 25 0 44 0-18 0 20 1 12 0-31 0 6 0 20 0-10 0 16 0 31 0 8 0 20 0-30 0 3 0 38 0 12 0-11 0-16 0 14 0 23 0-25 0 21 0 27 0 14 0-24 1-6 0 36 0-13 0 41 0-47 0 24 0 21 0 21 0-45 0 48 0-25 0 22 0 24 0-23 0 27 0 14 0-38 0 9 0 32 0-34 0 14 0-4 0 32 1 15 0 12 0-16 0 25 0-4 0 27 0-6 0 2 0 22 0-26 0 19 0-4 0 9 0 18 0 21 0-26 0 14 0 1 0 19 0 33 0-28 0 31 0 5 0-13 0 1 0-7 1 11 0 21 0 12 0-17 0 26 0-15 0 15 0 32 0-10 0-2 0 7 0-19 0 31 0 33 0-33 0-11 0 35 0-17 0 55 0-23 0 14 0-20 0 3 0 33 0 31 0-14 0-8 0 21 0 7 0-14 0 5 0 32 0-20 1 15 0 35 0-6 0 4 0 3 0-3 0-17 0 52 0-12 0 26 0-4 0-4 0-2 0 57 0-25 0 1 0 3 0 5 0 16 0 25 0-13 0-10 0 23 0 32 0-29 0 35 0 3 0 7 0 16 0-32 0-11 0 25 0 9 0 10 0 9 0 9 0-8 0 12 0 16 0-17 0 26 0-31 0 44 0 9 0-52 0 23 0 33 0-10 0 14 0-18 0 27 0 11 0-14 0 14 0-13 0 15 0 9 0-8 0 40 0-23 0-6 0 42 0 10 0 8 0 5 0 10 0-25 0 10 0 15 0-8 0 42 0-22 0 42 0-34 0 14 0-4 0 25 0 39-1-4 0-2 0 23 0-44 0 19 0 11 0 7 0-3 0 29 0-8 0-12 0 50 0-17 0-11 0 24 0-31 0 16 0 11 0 7 0 9 0 18 0 31 0-27 0 22 0 33 0 2 0-1-1-8 0-4 0-6 0 6 0 25 0-5 0 11 0 1 0 21 0 1 0 25 0-6 0 15 0-18 0 17 0 27 0-24 0-5-1 35 0-15 0 2 0 10 0 26 0 17 0-16 0 30 0-3 0-17 0 40 0 5-1 19 0-36 0 10 0 33 0-10-1 27 0-6 0 1-1 20 0 24 0-43-1 16 0 37 0-16-1-11 0 23-1 10 0 4-1 10 0 19 0-16-1-21 0 12-1 32-1-13 0 2-1 29 0-32-1 64 0-23-1-6 0 26-1 17-1 6 0-18-1 14 0-7-1-19-1 21 0 39-1-16-1 43 0-46-1 38-1 5 0 7-1 9-1 0-1-47 0 20-1 44-1 3-1 1-1-30-1 58-1-25-1 3-1 14-1 22-1-4-1-12-1-8-2 4-1 50-1-23-1 35-2 5-1 21-1-15-2 3-1-3-1 16-2-9-1 42-2-24-1 41-2-42-1 45-2-33-2 7-2 30-2-16-2 33-2-28-2 10-2 38-3-34-2 50-3-25-2 14-3 20-2 31-3-27-3 16-3-4-3 8-3-7-3 31-3-37-3 42-3 3-3-16-3 3-3 35-3-11-3 6-4-15-3 1-3 8-3 1-3 12-3 17-4 30-3-18-3 4-4 15-3-11-4-4-3 47-4-13-3 20-4-15-3-3-4-7-4 42-4-36-3 11-4 25-4-5-4 24-4-24-4 56-4-18-4 2-4-39-4 33-4 13-4-22-5 0-4 47-4 14-4-13-4-36-5-4-4 56-4-35-5 26-4-6-5-7-5 6-4 30-5 15-5 9-4-19-5 56-5-28-5 7-5-12-5 34-5-3-5-34-5 48-5 2-5-28-5 3-5 10-5 26-5-30-5 4-6 30-5 0-5-23-5 32-5 17-6-9-5 8-5-42-6 39-5-21-6 40-5-32-5 16-6-30-6 45-5 1-6-7-5-12-6-26-6 21-5 16-6 17-6-26-6 5-5 22-6-1-6 5-6 12-5 11-6-31-6 12-6-18-5 4-6-8-6-26-6 25-5 47-6-23-6-9-6 9-5-5-6 16-6 19-6 1-5-52-6 38-6 16-6 9-6-2-6-31-5 6-6-7-6 22-6-22-6-2-6-2-6 43-6 3-5-15-6 17-6-7-6-36-6 17-6 25-6 13-6-36-6 17-6-1-6-31-5 5-6 33-6 6-6-37-6 20-6-2-6-12-6-11-6 31-6 0-6 0-6-9-6 11-6-19-6 31-6 2-6-5-6 2-5-13-6 30-6 2-6 3-6-16-6 18-6-35-6 30-6-16-6 15-6 18-6-5-6 12-5-34-6 39-6-8-6-1-6-1-6 21-6-47-6 38-6-11-5 6-6-9-6 6-6-20-6 13-6-4-6-20-6 39-5 10-6-33-6 21-6-25-6 9-6 14-6 15-6-14-5 10-6-36-6 13-6 24-6-3-6-9-6 31-6-20-5 7-6 5-6-14-6 31-6-14-6-31-6 39-6-7-5-21-6 43-6-16-6 3-6-35-6 4-6 30-6-25-6-10-5 44-6-8-6-2-6-11-6 20-6 14-6-26-6-11-6 18-5-11-6-2-6-26-6 46-6-8-6-30-6 24-6 20-6-27-6 30-6-9-6 21-6-24-5-3-6 9-6-22-6 34-6-29-6 12-6 15-6-9-6-5-6 24-6-1-6 0-6 1-6 18-6-5-6-9-6 3-6 8-5-7-6-15-6 20-6-14-6 32-6-12-6-4-6-14-6 8-6-10-6 27-6 1-6-14-6 27-6-21-6-34-6 33-6-3-6-2-6 7-6 8-6 2-6-10-6 10-6-30-6 27-6-8-6-18-6 19-6-33-6 12-6-10-6 38-6-36-6 7-6-18-6 30-5-3-6-20-6 27-6 2-6-10-6 27-6-23-6-4-6 42-6-32-6-18-6 13-6 5-6 0-6 23-6-40-6 34-6-36-6 19-6-17-6 0-6 49-6-23-6-4-6 45-6-40-6 4-6 1-6-13-6 13-6 19-6-21-6 29-6-26-6 33-6-27-6-22-6 23-6 39-6-28-6-3-6 16-6-14-6 24-6 0-6-14-6-18-6 2-6 14-6 22-6-21-6 7-6 11-6-24-6 30-6-22-6-19-6 33-6-9-6 9-6-29-6-7-6 25-6 4-6 3-6-19-6 0-6-21-6 33-6-13-6 24-6-33-6 21-6-4-6-15-6-9-6 9-6 14-6 5-6-51-6 17-6-8-5-11-6-3-6 34-6-12-6 22-6-17-6-11-6-11-6 44-6-18-6-23-6 18-6-16-6 11-6 8-6-28-6 17-6 13-6-31-6 4-6 45-6-19-6-32-6 11-6-18-6 50-6-38-6 3-6 5-6-10-6 3-6 19-6-19-6 11-6-3-6-11-6 21-6-20-6 33-6-12-6 8-6-5-6 29-6-13-6-35-6-8-6-9-6 24-6-21-6 11-6 17-6-27-6 40-6-3-6-51-6 47-6-30-6-10-5 1-6-6-6 29-6-7-6-8-6 38-6-56-6 20-6 2-6-32-6 0-6 33-6 7-6-30-6 30-6-12-6-21-6 17-6 21-6-54-6 24-6-2-6 21-6 12-6-6-6-9-6-9-6-34-5 24-6-14-6 22-6 14-6 2-6 10-6-31-6-12-6 32-6-33-6 26-6-26-6-24-6 33-6 3-6-13-6-24-6-4-6-5-6 11-6 12-6 9-6-18-6 34-6-19-6-16-6 13-6-44-6 35-5 1-6-8-6-24-6 16-6 35-6-31-6 21-6 0-6-27-6-8-6 39-6 5-6-5-6-24-5-31-6 24-6-10-6 20-6 8-6 5-6-2-6 5-6-11-5-10-6-10-6 7-6-7-6 6-6-3-5-11-6 29-6-28-6-38-6 23-6 8-5-7-6 1-6 18-6-11-5 13-6-9-6-1-6-21-6-17-5 28-6-11-6-10-6-2-5 36-6-18-6-25-5 29-6 14-6-24-6 5-5-33-6 36-6-7-6-6-5 27-6-48-6-7-5 14-6 1-6-16-6-21-5 33-6 16-6-18-5-22-6-18-6 37-6-5-5-12-6-10-6-4-5 17-6-35-6 30-6-10-5-29-6 13-6 14-6-18-5 26-6-48-6 8-6 4-5-17-6 8-6 29-6-13-6-23-5 0-6 26-6-26-6 19-6-27-5 12-6-19-6 17-6-9-6 29-6-9-6-9-5-24-6 11-6 6-6 22-6-6-6 12-6-25-5-24-6 17-6-10-6 13-6-8-6 8-6-34-5 35-6-6-6-23-6 31-6-29-6 20-6-19-6 6-5-28-6 49-6-41-6 27-6-31-6 24-5 9-6-29-6 34-6 7-6-50-6 47-5 2-6-49-6 8-6 10-6 5-5-17-6 26-6-8-6-4-5 0-6-16-6-18-6 16-5 0-6-15-6 0-5 16-6 3-6-11-5-9-6 10-6 15-5-24-6-33-6 6-5 42-6-35-6 3-5 5-6 2-5-6-6-3-5-9-6-12-6 8-5-27-6-25-5 13-6 3-5-8-6-6-6 32-5-10-6-15-5 4-6-32-5 18-6 21-5-32-6 2-5-20-6 20-5-11-6 8-5-25-6-15-5 51-6-28-6 8-5-20-6 26-5-23-6-28-5 16-6-22-5 38-6-34-5 8-6-13-6-6-5 11-6 14-5-32-6 27-5-26-6-4-6 11-5 10-6-5-5-24-6 14-6-29-5 2-6 13-5-28-6 27-6-18-5-1-6 17-6 13-5-23-6 25-6-45-5 12-6 20-6-38-5 46-6-21-6-21-5 2-6-8-6 19-5-15-6 6-6 22-5-25-6 35-6-57-5-2-6 43-6-13-5-23-6-12-6 9-6 24-5-21-6 11-6-15-5 22-6-15-6-6-5-1-6 10-6-2-5-17-6 11-6-19-5 8-6-3-6 24-5-13-6 14-6-13-5-28-6 28-6-31-5 27-6-2-6-7-5 0-6-28-6-19-5 31-6 12-6 5-5-21-6-29-5 36-6-16-6 9-5-23-6-7-6 21-5-47-6 38-6-25-6-8-5 35-6 8-6-11-5-4-6 3-6-33-6-15-5 23-6 4-6-11-6-43-5 42-6 15-6-10-6-18-5 7-6-18-6-1-6 32-5-35-6-6-6 29-5-19-6 17-6-32-5 15-6-15-6 7-5 10-6-27-6 28-5-39-6 35-5-4-6-5-5 0-6-31-5 24-6 16-5-41-6-13-5 39-6-40-5 6-5-4-6 27-5-30-5 7-6-42-5-7-5-1-5 17-5-22-5 19-5-25-6 22-5 11-5-32-5-6-5 4-5 23-5-22-4 28-5-72-5 28-5 24-5 8-5-22-5-10-5-30-4 18-5 5-5-16-5-23-4 22-5-25-5 8-4 17-5-28-5-3-4 13-5-16-4-9-5 7-4-30-5 54-4-43-5-9-4 31-4-54-5 25-4-9-4 4-5-19-4-6-4 20-4-25-5 23-4-45-4 6-4-11-5-10-4-5-4-2-5 11-4 6-4-44-4 32-5-22-4-13-4-1-4 36-4-1-4-42-5-6-4 27-4-27-4-17-4 19-4 10-4-15-4 0-4 1-3-25-4-28-4 19-4-13-3 21-4-12-4-7-3-5-4-22-3 15-3-24-4-11-3 3-3-3-3 12-3-2-3-18-3-30-3 24-3-41-2-4-3 27-3-9-2-28-2-2-2-22-3 51-2-11-2-34-2-3" stroke="#D95319" stroke-width="55.0" fill="none" stroke-linejoin="round" stroke-linecap="round"/></g>
<g clip-path="url(#cc)"><path transform="scale(.1)" d="M2445 13372l0 18 0 27 0-117 0 69 0-37 0 79 0-97 0 55 0-99 0 63 0-79-1 103 0-8 0-13 0-65 0-1 0-10 0-3 0-41 0 151 0-94 0-45 0-35 0 62 0-49 0 73 0-81 0 27 0-67 0-1 0 69 0-61 0 85 0-122 0 29 0 12-1-22 0 24 0-55 0 35 0-16 0-39 0 13 0 21 0 30 0-24 0-65 0 68 0-36 0 26 0-99 0 38 0 39 0-34 0 63 0 10 0-101 0-26 0 10 0-49-1 54 0-19 0 43 0 4 0-8 0-17 0-33 0 91 0-22 0-61 0-31 0-27 0 92 0-21 0-58 0 108 0-49 0 10 0-46 0 42 0-13 0 3 0-107 0 14 0 95 0-77-1 82 0-32 0 13 0-7 0 38 0-81 0-44 0 2 0-34 0 79 0-49 0-3 0 56 0-62 0-11 0-30 0 27 0-11 0-23 0-78 0 52 0 77 0 34 0-38 0-80 0 55 0 23-1-84 0-39 0 90 0-67 0 26 0 8 0-113 0 108 0 18 0-70 0-30 0-35 0 61 0-58 0 20 0 34 0-34 0-7 0-81 0 42 0-26 0 92 0 1 0-126 0 33 0-68 0 84-1-89 0 9 0 23 0 43 0-65 0 2 0 19 0 2 0-1 0 76 0-120 0 17 0 149 0-181 0 51 0-25 0 46 0-136 0-64 0 137 0-7 0 39 0-14 0-11 0-69 0 80 0-83 0 36 0-26 0-65-1 24 0 1 0 19 0 18 0-68 0 117 0-59 0-2 0-27 0-57 0 43 0 12 0-59 0 75 0-15 0-15 0-25 0-41 0-6 0 40 0-42 0 42 0-27 0-1 0-26 0-10 0-2 0 40 0 19 0-65 0-29 0 119 0-69 0-81-1 82 0-71 0 3 0-14 0 42 0-32 0-2 0-71 0 118 0-68 0-24 0 29 0-77 0 72 0 5 0-13 0-69 0-36 0 54 0 18 0-39 0 58 0-25 0-4 0-82 0 80 0 12 0-19 0 7 0-63 0-68 0 98 0-44 0-90 0 95 0 4 0 13 0 5 0-58 0 27-1-86 0 53 0-24 0 30 0-7 0-64 0 7 0 46 0-57 0-57 0 137 0-34 0-9 0-1 0-71 0 47 0 19 0-63 0 25 0-5 0 41 0-70 0 47 0-60 0-38 0 100 0-38 0-1 0-69 0 64 0-110 0 26 0 25 0-25 0-73 0 89 0-9 0-68 0 135 0-116 0 74 0-18 0 21 0-13 0-71 0-77 0 47 0-9 0-5 0-1 0 91 0-56 0 2 0-68 0 27-1 61 0-31 0-46 0-41 0 22 0 43 0-81 0 92 0-42 0 12 0 16 0-40 0 33 0 18 0-92 0 83 0-97 0 4 0 56 0-65 0 41 0-32 0-64 0 79 0-12 0 24 0-29 0-63 0 57 0-88 0 83 0 21 0-59 0-28 0 81 0-114 0 80 0 22 0-21 0 1 0-33 0-28 0-62 0 24 0 15 0-30 0 21 0-4 0-9 0-13 0 42 0 16 0-12 0-51 0-28 0 28 0-12 0-35 0-25 0 53 0-28 0-4 0-47 0 8 0 69 0 41 0-122 0 77 0-62 0-41 0-9 0 17 0 51 0-59 0 14 0-41 0-18 0 109 0-30 0 50 0-146 0 92 0-31 0 17 0-95 0 30 0 22 0 34 0-87 0 20 0 76 0-38 0-37 0-7 0-12 0 59 0-112 0 123 0-68 0-33 0 9 0 17 0 5 0-86 0 8 0-103 0 78 0 41 0-60 0-18 0-16 0 12 0-14 0 13 0-40 0 56 0-5 0-11 0-3 0-11 0 19 0 1 0-35 0 8 0-49 0-14 0-1 0 54 0-40 0-50 0 55 0-38 0 55 0-21 0 7 0 64 0-59 0 5 0-20 0-15 0 45 0-111 0 75 0-55 0 78 0-31 0-49 0-22 0 93 0-66 0-36 0 17 0 53 0-98 0-25 0 7 0 22 0 29 0-72 0 39 0 15 0-41 0 6 0-11 0 13 0-40 0-18 0 11 0 23 0 9 0-41 0-41 0 65 0 33 0 9 0-76 0 18 0-3 0 13 0-48 0 10 0-87 0 93 0-69 0-13 0-12 0 10 0 49 0-50 0 21 0 3 0 56 0-35 0-24 0-49 0 10 0 136 0-81 0-47 0-55 0 62 0-13 0 38 0-3 0-63 0 20 0-25 0-4 0 55 0-107 0 18 0 117 0-53 0 29 0-98 0 72 0-70 0 24 0 52 0-41 0 3 0-87 0-34 0 85 0-30 0-68 0 45 0 45 0-17 0-90 0 31 0 84 0-58 0-101 0 9 0 115 0-80 0-21 0 14 0 24 0-3 0 18 0-87 0-8 0-10 0 61 0-1 0 15 0 5 0-135 0 15 0-28 0 95 0-47 0-28 0 8 0-28 0 92 0-112 0 93 0-75 0 67 0-50 0 16 0-21 0-47 0 23 0-31 0 31 0-27 0 38 0 31 0-13 0-32 0-23 0-74 0 9 0 114 0-78 0-59 0 57 0 12 0 30 0-89 0-6 0-5 0-25 0 115 0-41 0-76 0 33 0-32 0 59 0 12 0-100 0 11 0-27 0 36 0 48 0-61 0-11 0 50 0 19 0-66 0 21 0-24 0-59 0 94 0-81 0 89 0-61 0-6 0 33 0-58 0 87 0-43 0 5 0-89 0 40 0-12 0 66 0-70 0 87 0-127 0-12 0 35 0-42 0-18 0 3 0 41 0-46 0-30 0 50 0-5 0-13 0-47 0 21 0 26 0-26 0 51 0-100 0 17 0 58 0-63 0-36 0 99 0 2 0-123 0-13 0 28 0-17 0 34 0 34 0-77 0-28 0 48 0 26 0-57 0 28 0-50 0 113 0-100 0 17 0 56 0-100 0-35 0 127 0-124 0 32 0-19 0 2 0-14 0-19 0 9 0-63 0 67 0-30 0-71 0 99 0-60 0 53 0 3 0-18 0-67 0-34 0 114 0-21 0-44 0-1 0-17 0-19 0 44 0-40 0 70 0-51 0-61 0 33 0-22 0-23 0 68 0 14 0-114 0-2 0 5 0 14 0-18 0 28 0-11 0 63 0-54 0 33 0-20 0-10 0-60 0 64 0-61 0-14 0-13 0 2 0 22 0-35 0 103 0-79 0 52 0-94 0 86 0-136 0 137 0-19 0-75 0 25 0-29 0-55 0 76 0-27 0 76 0-30 0-108 0 4 0-22 0 94 0 18 0-65 0-40 0 26 0-27 1-54 0 86 0-71 0 60 0-15 0-2 0-71 0 1 0 63 0 36 0-137 0 97 0-55 0 58 0-97 0 46 0 24 0-93 0 48 0-81 0 69 0 65 0-78 0-27 0-27 0 68 0-29 0 2 0 15 0-63 0 49 0-81 0 95 0-15 0 71 0-192 0 104 0-93 0-3 0 23 0 31 0-76 0 93 0-6 0 2 0-89 1 111 0-62 0-85 0 7 0 10 0-18 0 57 0-48 0 39 0-24 0-74 0 66 0 34 0-124 0 24 0-6 0 107 0-88 0 40 0-61 0 27 0 17 0 33 0-30 0 6 0-4 0-62 0 19 1-81 0 79 0-2 0 7 0-27 0-90 0 66 0-21 0 28 0-83 0 77 0-17 0-16 0 6 0-77 0 68 0-43 0 44 0-41 0-20 0-14 0 42 1-48 0-56 0-6 0 13 0 32 0 77 0-12 0-82 0 52 0-54 0-8 0-8 0 74 0-162 0 100 0-56 0 18 0-16 1 28 0-42 0 26 0-55 0 39 0 28 0-10 0-29 0-65 0 11 0 47 1-6 0-21 0 8 1-32 0-66 1 56 1-34 1 93 1-36 1-22 1-32 1-3 1 105 1-128 2 12 1-60 2 66 1 55 2-48 1 31 2-98 2 59 2 2 1-80 2 87 2-24 2 41 2-123 2-6 2 109 2-26 2-70 2 60 2-67 2 70 2-97 3 51 2 20 2-57 2 98 2-95 3-19 2 46 3-13 3 15 4-26 3-33 4 18 3 8 4-51 4 37 4-37 5 18 4 43 4-15 5-39 5 40 5-63 4 18 5 70 5-102 5 66 6-59 5 26 5 38 5-67 6 78 5-113 5 76 6-62 5 78 5 15 6-38 5 8 5-27 6-45 5 86 5-119 5 99 5-10 5 12 5-54 5 35 5 19 5 44 4-72 5 42 5 16 5-44 4-82 5 135 5-121 5-1 5 82 5 11 5-86 4 8 5 3 5 58 5-35 5 12 5 15 5-54 5 34 5 67 5-115 5 25 4-39 5 14 5-31 5 10 5 43 5-26 5-41 5 64 5-39 5-3 5 39 5 17 5 33 5-61 5 36 5-3 5 33 5-104 5 67 5 61 5-94 5 34 5-48 5 19 5-38 5 82 5-40 5-32 5 7 5-8 5 78 5-59 5-14 5-55 5 43 5 49 5-2 5-10 5-70 5 28 5 36 5 64 5-66 5-13 5 29 5 46 5-54 5 39 5-102 5 51 5 22 4-37 5-6 5 41 5-47 5-65 5 37 5 24 5 10 5-54 5 88 5-19 5-114 5 130 5-5 5-45 5-10 5-23 5 73 5-47 5 39 5-33 5-23 5-25 5 64 5 72 5-79 5-45 5 115 5-69 5-56 5 52 5 28 5 29 5-74 5 29 5-23 5-8 5-29 5-24 5 15 4 56 5 37 5-54 5-12 5 66 5-55 5 77 5-40 5-73 5 48 5 63 5-70 5-35 5-2 5 95 5-53 5 7 5 27 5-15 4-24 5 38 5-31 5-11 5 56 5-82 5 84 5-122 5-2 5 119 5-29 5-47 5 2 5-12 4 64 5 2 5-47 5 71 5-62 5-59 5 36 5 75 5 6 5-71 5 33 5 17 4 5 5-63 5 44 5-30 5 68 5-107 5 3 5 18 5 59 5-25 4 30 5-24 5-89 5 103 5 37 5-65 5-54 5 5 5 40 5-60 5 84 4 12 5-91 5-4 5 94 5 9 5 27 5-93 5 50 5-43 5 47 4-95 5 70 5-15 5 37 5-70 5 93 5-29 5-48 5 23 5 37 4-68 5 4 5 17 5 18 5-43 5 23 5-49 5 86 5-42 5 176 4-171 5-46 5 13 5-24 5 10 5-21 5 88 5-20 5-43 5 72 5-121 4 99 5-28 5-17 5 38 5-87 5 91 5-75 5 23 5 19 5-3 4 57 5-44 5 12 5-84 5 6 5 3 5 74 5-67 5 103 5-126 4 45 5-67 5 112 5-54 5 35 5-24 5-38 5 5 5 41 5-82 4 49 5-36 5 12 5 32 5-14 5-28 5 59 5-82 5 13 5 14 4 18 5-48 5 4 5-26 5 97 5-73 5 85 5-90 5 114 5-92 4 36 5-30 5 36 5-87 5 1 5 54 5 38 5-113 5 104 5-23 4-13 5 22 5-30 5-46 5 96 5-11 5-48 5 85 5-38 5-63 5-13 4-1 5 100 5-55 5-88 5 70 5 66 5-94 5 24 5 78 5 8 5-29 5-51 4-3 5-7 5-43 5 67 5-67 5 45 5 84 5-66 5 25 5-77 5 103 5 3 5-44 5-14 5-16 4 12 5 23 5-31 5 67 5-99 5 62 5-82 5 47 5-67 5 58 5 35 5 74 5-88 5-84 5 53 5 3 5 54 5-107 5 57 5-6 5 36 5 19 5-3 4-8 5-70 5-32 5 110 5-91 5 93 5-11 5-47 5 53 5-37 5-144 5 87 5-25 5 0 5 85 5 28 5-78 5 43 5 19 5-77 5 9 5-50 5 122 5-2 5-28 5 38 5-64 5 20 5-52 5 66 5-8 5-55 5 91 5-40 5 17 5-93 5 62 5 60 5-75 5 44 5-11 5-11 5 74 5-87 5 34 5 7 5-25 5-11 5 22 5-28 5 21 5-21 5 86 5-94 5 97 5-71 5-12 5 76 5-83 5 92 5-110 5-24 5 92 5-39 5 55 5 48 5-89 5 26 5-21 5 30 5-7 4-59 5-25 5-2 5 93 5 16 5-2 5-17 5 7 5-61 5-34 5 65 5-24 5-67 5 41 5 15 5-55 5 76 5 37 5-68 5-31 5 71 5 15 5-33 5-59 5-29 5 88 5 20 5-88 5 74 5 8 5 0 5-7 5-72 5 26 5 47 5 9 5-49 5 23 5-18 5 35 5-6 5-47 5-30 5 54 5 30 5 23 5-84 5 60 5-71 5 112 5 0 5-8 5-44 5-85 5-6 5 39 5-6 5 53 5 94 5-130 5 61 5-4 5-131 5 117 5-22 5 11 5-40 5 20 5 72 5-96 5 48 5-22 5 10 5 7 5-3 5-94 5 16 5 144 5-29 5 48 5-63 5-10 5 1 5-4 5 49 5-54 5-14 5-19 5-46 5 92 5-31 5-57 5 101 5 24 5-65 5 42 5-36 5 32 5-105 5 7 5 25 5 28 5 32 5-95 5 71 5 50 5 85 5-136 5-37 5 57 5 24 5-99 5 109 5-39 5 55 5-62 5-38 5 71 5-8 5-11 5 22 5-102 5 4 5 48 5 10 5-29 5 38 5-60 5 3 5-47 5-8 5 22 5-24 5 81 5-25 5 64 5-13 5 3 5 22 5-20 5 7 5-90 5 80 5-15 5-22 5-7 5 51 5-87 5 49 5-24 5-78 5 102 5 46 5-93 5 49 5-36 4 13 5 32 5-46 5 31 5 24 5-38 5 65 5 14 5-48 5 24 5-14 5-46 5 68 5 24 5-44 5-31 5 64 5-64 5-14 5 39 5-63 5 32 5 43 5 49 5-66 5 53 5-109 5 6 5 0 5 61 5 8 5-97 5 59 5 71 5-96 5-5 5-13 5 13 5 66 5-52 5-26 5 31 4 23 5 16 5 24 5 24 5-100 5 18 5 6 5 32 5 28 5 59 5-121 5 60 5-17 5-30 5-67 5 152 5-11 5 4 4-15 5 0 5-10 5-92 5 104 5-13 5 7 5-77 5 57 5-61 5 89 5 5 5-51 5 12 4 77 5-47 5 1 5 34 5-62 5 56 5-20 5-46 5-31 5 24 5 24 5 27 4 43 5-82 5 86 5-27 5-3 5 24 5-63 5 49 5-24 5 2 5 36 5-107 4 80 5-5 5 110 5-57 5-105 5 85 5-65 5-28 5 71 5-33 5 60 5-74 5 9 4 62 5-32 5 61 5-23 5-24 5 32 5-69 5 69 5 41 5 0 5-79 5 22 5-26 5 38 4 2 5-26 5-91 5 81 5 25 5-32 5 95 5-48 5-4 5-37 5 30 5 19 5 73 5-94 5-15 5 86 5-10 5-52 5 3 4-4 5-7 5 75 5 17 5-94 5 60 5-76 5-21 5 30 5 40 5-63 5 73 5-3 5-29 5 14 5-29 5 7 5 11 5-36 5 82 5 5 5-71 5 61 5 41 5-10 5-48 5-41 5 141 5-98 5-6 5-36 5 113 5 17 5-106 5-20 5-24 5 17 5 83 5-31 5-67 5 130 5-97 5 7 4-25 5-10 5 62 5-47 5 32 5 49 5-50 5-37 5 67 5-58 5 22 5 25 5-17 5 70 5-96 5-36 5 151 5-29 5-35 5-98 5 49 5 75 4-12 5-31 5-27 5 65 5-57 5 105 5-61 5 6 5-15 5-52 5 116 5-112 5 39 5-1 5 83 5-123 5 63 4 27 5-39 5-58 5 88 5-95 5 84 5 28 5-78 5 26 5-35 5-7 5 43 5 60 5-91 5 49 4 56 5-2 5-70 5 61 5-1 5-73 5 15 5 39 5 44 5-23 4-31 5-14 5-48 5 33 5-5 5 3 5 49 5-34 5 29 4-72 5 28 5 20 5 21 5-24 5-17 5 77 5-28 4-23 5-13 5 40 5 6 5 38 5-36 5-12 5-47 4 55 5 4 5 14 5-43 5 18 5 21 5 12 5-48 4-25 5 19 5 71 5-49 5-15 5 52 5-68 5 4 4 24 5 30 5 12 5-19 5-17 5-23 5 67 4-72 5 3 5 5 5 19 5 25 5-7 4-23 5 21 5 104 5-151 5 67 4-10 5 47 5-45 5-29 4 59 5 19 5 13 5-71 4 6 5 15 5-18 4-2 5 76 5-18 4-12 5-6 4-13 5-79 5 129 4-90 5-8 4 101 5-36 4-17 5-14 5 76 4-12 5-11 4-1 5 21 4 44 5-75 4-6 5 28 5 74 4-69 5 26 4-10 5 35 4-29 5 40 4-8 5-27 4-8 4 56 5 18 4-5 5-54 4 64 5-56 4 80 4-106 5 52 4-40 4 73 4-89 5 24 4 57 4 13 4-1 4-80 4 63 5-25 4 75 4 14 4-45 4 67 4-29 4-39 3-20 4 18 4 80 4-115 4-14 3 62 4-15 4-36 4 71 3-50 4 19 4 43 4-1 3 7 4-17 3-19 4 32 4-55 3 110 4-30 3 47 4 2 3-11 4 16 3-1 4-65 3 30 4 22 3 96 3-59 4-82 3 65 3-23 4-25 3 19 3-11 3 55 4 9 3 7 3-11 3-127 3 47 3 48 3 15 3 48 4-39 3 31 3 34 3-31 3-38 2 76 3-31 3-42 3 26 3 56 3-47 3 13 3-13 3 27 3-15 3 27 3-30 2 19 3-10 3-9 3-15 3 125 2-20 3-53 3 29 3-3 2 74 3-47 2 40 3-71 2 5 3 14 2 30 3 43 2-34 3-65 2 36 2-29 3 15 2 125 2-101 2 9 2-10 2 32 2 93 2-77 2-58 2 111 3-59 2 57 2-51 2 39 2-42 2 49 2 54 2-4 2 12 2-67 2 94 1-33 2 36 2-67 2-34 2 61 2 35 2-55 1 22 2 1 2-10 1 96 2-102 2 7 1 51 2 13 1 5 2-23 1 53 1 13 2-113 1 32 1 45 1 49 2-13 1-10 1-29 1 19 1 19 0-1 1-32 1-7 1 94 1 2 0-38 1 79 1-97 1-44 0 118 1 10 1-42 1-61 0 155 1-108 1 141 0-41 1-73 1 53 1-7 0-5 1 4 1 123 0-79 1-44 1 16 0-25 1 76 0 48 1-32 1 17 1 3 0 69 1-44 1-39 0 67 1-88 0 122 1-91 0 84 1-20 0-28 1-22 0-10 1-22 0 117 0 16 1-73 0 97 1-86 0-43 0 79 1-18 0 96 0-48 0-37 1 95 0-71 0-13 1 27 0 15 0 46 0-40 0-36 0 2 1-4 0-40 0 159 0-117 0 55 0-66 0 43 0 33 5 814 0 3 0-1 0 9 0 8 0-1 0 16 0-5 0 2 0 6 0 16 0-2 0-2 0 28 0-16 0 11 0 9 0-1 0 11 0 4 0 6 0 10 0-6 0 20 0 5 0 2 0 11 0 3 0 7 0 4 0 3 0 10 0 1 1 4 0 16 0 2 0 11 0-2 0 6 0 4 0 3 0 4 0 2 0 8 0 13 0-1 0 15 0 4 0-3 0 14 0-6 0 18 0-4 0 1 0 13 0-4 0 12 0-2 0 10 0 4 0 7 0 5 0 13 0 2 0 3 0 5 0 8 0 4 0 7 0 4 0 2 0 8 0 6 0 10 0-13 0 14 0-7 0 16 0-2 0 10 0 7 0 5 0 9 0-2 0 9 0 10 0 1 0 10 0-5 0 8 0 14 0-6 0 3 0 3 0 8 0 8 0 14 1 2 0 1 0 9 0 2 0 21 0 3 0-8 0 15 0 5 0-13 0 20 0 7 0 2 0 10 0 1 0 7 0 5 0 8 0-3 0 4 0 18 0-5 0 7 0 2 0 2 0 10 0 3 0 9 0 4 0-2 0 14 0 8 0 4 0 1 0 5 0 8 0-6 0 13 0 4 0 4 0 6 0 10 0 3 0 8 0-1 0 13 0 8 0 11 0 5 0 2 0-2 0 2 0 13 0-1 0 2 0 6 0 20 1 6 0 7 0 3 0 11 0 12 0-11 0 2 0 17 0-1 0 8 0 8 0 3 0 5 0 5 0 8 0-3 0 12 0-2 0 10 0 8 0 7 0 3 0 5 0 4 0 4 0 8 0 3 0 4 0 19 0-8 0 5 0 14 0-4 0-2 0 14 0 5 0 11 0-8 0 17 0-1 0 5 0-2 0 3 0 17 0-2 0 11 0 5 0 11 0-3 0 9 0 4 0 10 1 8 0 7 0 1 0 3 0 10 0 3 0 6 0-1 0 5 0 15 0-11 0 9 0 2 0 9 0 8 0 8 0 14 0-1 0 2 0 9 0 4 0 5 0 1 0 18 0-8 0 5 0 17 0-1 0 6 0 12 0-3 0 9 0-2 0 9 0 3 0 17 0-4 0 12 0-2 0 10 0 10 0 8 0 5 0-3 0-2 0 6 0 6 0 5 0 12 0 1 0 7 0 1 1 15 0-11 0 18 0-6 0 17 0-4 0 14 0-1 0-4 0 10 0 6 0 8 0 5 0 3 0 15 0 1 0 4 0 11 0-5 0 4 0 6 0 5 0 7 0 7 0 1 0 1 0 10 0 5 0 7 0-3 0 7 0 12 0 3 0 3 0 19 0 4 0 3 0 1 0 3 0 11 0 13 0-2 0 8 0-1 0-5 0 16 0 1 0 11 1 17 0-6 0 14 0 1 0 10 0-2 0-1 0 9 0 7 0 11 0 7 0 8 0-4 0 1 0 10 0 9 0-3 0 4 0 9 0 3 0 11 0-9 0 25 0 9 0-2 0 1 0 8 0 1 0 15 0-3 0 5 0 9 0 1 0 13 0 7 0-1 0 7 0 8 0 4 0 8 0-4 0 16 0-4 0 8 1 6 0 1 0 5 0 1 0 14 0 4 0 10 0-2 0 8 0 3 0 1 0 12 0 2 0 3 0 19 0-4 0 9 0 7 0-7 0 3 0 13 0 4 0 4 0 8 0-2 0 14 0 8 0-3 0 6 0-1 0 14 0 8 0-6 0 11 0-6 0 22 0 1 0 1 0-1 0 16 0-2 0 8 0 5 0 2 0 3 1 7 0 5 0 8 0 4 0 13 0-3 0 11 0 6 0 4 0-4 0 16 0 6 0 15 0-7 0 8 0-1 0 10 0-11 0 11 0 10 0 13 0-9 0 18 0 6 0 5 0-6 0 5 0 6 0 8 0 12 0 10 0-19 0 24 0 1 0-1 0 11 0 3 0 7 0 6 0-3 0 2 1 13 0 3 0 9 0 6 0-1 0 7 0 3 0 2 0 10 0 8 0 6 0 9 0-8 0 14 0 2 0 7 0 4 0 9 0 8 0 1 0 12 9 131 0-2-1 1 0 18 0-10-1 50 0-69 0 56-1-5 0-17-1 41 0-22-1-30 0 80-1 6-1-12 0-64-1 11 0 12-1-7-1 87-1 37 0-15-1-37-1-24 0 105-1-74-1 47-1 51-1-52-1-30 0 78-1-33-1-100-1 69-1 38-1 15-1-12-1 21 0-20-1 22-1-26-1-27-1-14-1 10-1 54-1 7-1-46-1 118-1-91-1 21-1 84-1-17-1-22-2 28-1-35-1 84-1-109-2 86-1-31-1-1-2 95-1-93-1 47-2-59-1 60-2 48-1 7-2 6-1 12-2-70-2 79-1-81-2 49-2 59-1-94-2-12-2 0-2 75-1 8-2-12-2 15-2-2-2 42-2-48-1 101-2-120-2 2-2 71-2 35-2-33-2 12-2-23-2-51-2 32-2 57-2-56-2 66-2-1-2 10-2-12-2-6-2-47-2 100-2-28-2-16-3 31-2 40-2 16-2-108-3 94-2 74-3-118-2 82-2 55-3-139-2 105-3 45-2-59-3-81-2-15-3 111-3-106-2 24-3 32-3 13-2-15-3-10-3 1-3 42-2 8-3-48-3 11-3 33-3 29-3 41-3-124-2 118-3-6-3-58-3 18-3-26-3 19-3-28-3 13-3 78-3 61-3-53-4-51-3-21-3-14-3 70-3-30-4 38-3-33-3 53-3-23-4-6-3-69-4 52-3 22-4-35-3 54-4-54-3 89-4-61-4-18-3 92-4 37-4-57-3 43-4 12-4-7-4-43-3 29-4 51-4-43-4 0-4 70-4-9-3-30-4 22-4-51-4 81-4 21-4-57-4 80-4-114-4 90-4-64-4 20-4 12-4 6-4 36-4 13-4-19-4-131-4 143-4 7-4 39-4-21-4-47-4-13-5-11-4 82-4 3-4-69-4-13-4 27-4 88-5-111-4 105-4-73-4 26-5 26-4-39-4 36-5 12-4-59-4 108-5-42-4-43-4 15-5-30-4 59-5 42-4-84-5 89-4-24-4-95-5 98-4-6-5-46-4 101-5-48-5-70-4-7-5 64-4-39-5 65-4-21-5 34-4-57-5 79-5-62-4-15-5 73-4 5-5-122-5 131-4-102-5 16-4 82-5-31-5-9-4 57-5-7-4-5-5-85-5 48-4 48-5-107-4 155-5-93-5-55-4 43-5 30-4-82-5 69-5-47-4 45-5 64-4-74-5 5-5 59-4 52-5-44-5-62-4-64-5 157-5-151-4 113-5 18-5-74-5 73-4-77-5 25-5 20-4-139-5 104-5-27-5-10-4 81-5-80-5 18-5 67-4 21-5 27-5-4-5-49-4 11-5-72-5 6-5 52-4 11-5-6-5-4-5-21-5 112-4-71-5-5-5-11-5 49-5 54-4-30-5-48-5-6-5 78-5-80-4 63-5 20-5 3-5-45-5-8-4 23-5-26-5 45-5-10-5-10-5-36-4 58-5-102-5 142-5 6-5 0-5-100-5-1-5 82-4-41-5 15-5 0-5-10-5-13-5 79-5-11-5-46-5-15-5 9-5-45-4 27-5 10-5 27-5 38-5-4-5-22-5-45-5 92-5-87-5-6-5 24-5-29-5 55-5-32-5 44-4-12-5-25-5-20-5 50-5 0-5 23-5 20-5-15-5 83-5-151-5 61-5-70-5 75-5-96-5 82-5-42-5 31-5-25-4 59-5-54-5 11-5 78-5-28-5-46-5-55-5 80-5-13-5-50-5 66-5 25-5-8-4-68-5 13-5-24-5 89-5-9-5-71-5 107-5-113-5-6-5 43-4 37-5-16-5 45-5-104-5 43-5 61-5-93-5 54-5-1-4 39-5-14-5-56-5 62-5 9-5-35-5 35-4-40-5 5-5 69-5-132-5 91-5 52-5-117-5 92-4-30-5 48-5-20-5-70-5-7-5 17-5 66-4-48-5 23-5 3-5-18-5 1-5-18-5 51-4-2-5-51-5-13-5 23-5 6-5 7-5 48-4-25-5-53-5 71-5 16-5-17-5 2-5-68-5 47-4 58-5-90-5 2-5 43-5-57-5 77-5-9-5-38-4-78-5 62-5-95-5 159-5 6-5 0-5-69-5 7-5 52-5 44-4-65-5 42-5-87-5 42-5 56-5 25-5-63-5-36-5 0-5 53-5 38-4-68-5 5-5-54-5 77-5-91-5 77-5 48-5-74-5-57-5 110-5-75-5 73-5-77-5-4-5 1-4 52-5 21-5 10-5 6-5 28-5-106-5 98-5-45-5 8-5 15-5 27-5-103-5 82-5-5-5-22-5-34-5 72-5-26-5 21-5-5-5-56-4-14-5 7-5 21-5 64-5-35-5-9-5 67-5-52-5 91-5-56-5-83-5 34-5 61-5-38-5 80-5-25-5-37-5 9-5-52-5-11-5 28-5-94-5 113-5 9-5 83-5-81-5-3-5-16-5-13-5 22-5-46-5 38-5-45-5 174-5-164-5 44-5-26-5-14-5 7-5 38-5-14-5-52-5 53-5 38-5-31-5-2-5 44-5-47-5-22-5 24-5-3-5-20-5 22-5 23-5-27-5 44-5-70-5 12-5 0-5-45-5 101-5-60-5 27-5 7-5-31-5-1-5-28-5 42-5-34-5 43-5-69-5-6-5 59-4 3-5-48-5 63-5-66-5-12-5-6-5-47-5 38-5 91-5 13-4-133-5 94-5-25-5 23-5-25-5 94-5-61-4-51-5 7-5-46-5 21-5 73-5-40-4-40-5 77-5-126-5 73-5-66-5 58-4 14-5 33-5-43-5 33-5-51-5-33-4 44-5-44-5 49-5-30-5 22-5-10-4 35-5-106-5 131-5-59-5 20-4 15-5 3-5-6-5 44-5-74-5 25-4-54-5 37-5-33-5 44-5-20-5 69-5-102-4 9-5-32-5 49-5-1-5-12-5 63-5-39-5-58-4-28-5 27-5 24-5 46-5-11-5-55-5-26-5 44-5 56-5-126-5 78-5 16-4-88-5 49-5 9-5-1-5 65-5-81-5-5-5 24-5-108-5 148-5-25-5-70-5-3-5-4-5 130-5-22-5-6-5-112-5 132-5-89-5 15-5-50-5-2-5 106-5-85-5 65-5-62-5 29-5-1-5-13-5-60-5 3-5 97-5 16-5-32-5 56-5-124-5 36-5 21-5-40-5-30-5 98-4-59-5 103-5-105-5 52-5 13-5-9-5-83-5 43-5 67-5-92-5 7-5 62-4-56-5 56-5-74-5 37-5 39-5 38-5-89-5 36-5-18-4 28-5-33-5-10-5 11-5 93-5-92-5 6-5 49-5-89-4 63-5 37-5-73-5 65-5 27-5-93-5 129-5-131-5 98-5-22-4-8-5 54-5-90-5 25-5 92-5-114-5 30-5 35-5-13-5 16-4 74-5-71-5-39-5-50-5 23-5 78-5-31-5-10-5 11-5-15-5 35-5-16-5 59-5 27-5-65-5 73-4 11-5-157-5 107-5-12-5 4-5-62-5 102-5-39-5 20-5-50-5 86-5 16-5-77-5-94-5 66-5 2-5 14-5 1-5-28-5 0-5-6-5-7-5 35-5-1-5-34-5 103-5-153-5 123-5-53-5-42-5 87-5-115-5 72-5 19-6-61-5 61-5-32-5-35-5 84-5-39-5-25-5 46-5-52-5 26-5-16-5 5-5 44-5-45-5-68-5 14-5 48-5 63-5-97-5-38-5 49-5 31-5 36-5-2-5-97-5 110-5-95-5 63-5-40-5 3-5 53-5-1-5-81-5 95-5-78-5 25-5 26-5-38-5 15-4 9-5 38-5-100-5 70-5 34-5-86-5 80-5 31-5-102-5 55-5-43-5 81-5-90-5 92-5-54-5-32-5 4-4 100-5-20-5-10-5-35-5-46-5 60-5-53-5 36-5-14-5-66-5 101-5-41-4-60-5-53-5 89-5-18-5 35-5-51-5 84-5-43-5-9-5-49-5 51-4-26-5 62-5-30-5-47-5 56-5-11-5-67-5-8-5 40-5-2-4-45-5 34-5 63-5-78-5 9-5 16-5-67-5 111-5-12-4 22-5 12-5-48-5-55-5-33-5 91-5 9-5-75-5 5-4-31-5-11-5 124-5-52-5 33-5-52-5 29-5 30-4-58-5-4-5-18-5-4-5 25-5-103-5 134-5-46-5 103-4 0-5 27-5-128-5-5-5 98-5-99-5 92-5-86-4 48-5 37-5 15-5-37-5 42-5-114-5 55-5-61-5 60-4 15-5 30-5-55-5-58-5 21-5 60-5-17-5-35-4 62-5-79-5-2-5 11-5 47-5 3-5-8-4-52-5-36-5 3-5 93-5 10-5-9-5-78-4 89-5-87-5 41-5 0-5-10-5-16-4 40-5-67-5 46-5 47-5-161-5 85-4 76-5-94-5 14-5 103-5-68-5-32-4 66-5-26-5 31-5-3-5-70-4 32-5-121-5 104-5-28-5 21-4-34-5 19-5 20-5-61-5-29-4 96-5-72-5 10-5 62-5-52-5-40-4 61-5-38-5 51-5-6-5-72-4 45-5 1-5-80-5-18-5 94-5-89-4 13-5 10-5 18-5-27-5 87-4-87-5 21-5-21-5 39-5 30-4-101-5 140-5-136-5 28-5 46-4-69-5 29-5 20-5 58-4-9-5-11-5-50-5 46-4-69-5-16-5 103-5-128-4 129-5-62-5 16-4-43-5 33-5 40-4-72-5 9-5 41-4-9-5 9-5-81-4 86-5-88-5-16-4 59-5-14-4 22-5-21-4 17-5-23-4 2-5 6-5-58-4 57-5-43-4-35-5 26-4 62-4-84-5 22-4 45-5-96-4 79-5 16-4 6-5 42-4-70-4-22-5 63-4-31-5-4-4-31-4 11-5-70-4 97-4-47-5-41-4 23-4-71-5 9-4 62-4-59-4 40-5 32-4 9-4 10-4 49-5-108-4-51-4 71-4 36-4 5-4-141-4 109-4-4-5-52-4 11-4-79-4 68-4 52-4-65-4 63-4-136-4 51-3 52-4 5-4-105-4 44-4-30-4-1-4 64-4 0-4 47-4-115-4 55-4-24-4-42-4 39-3-43-4-52-4 12-4 93-4-98-4 141-3-127-4 27-4 20-4-65-3 45-4-53-4-8-3 101-4 14-4-83-3 23-4-60-3 4-4 119-3-68-4-51-3 56-3-80-4 70-3-105-3 80-4-59-3 81-3 12-3-44-4-14-3-26-3 78-3-30-3-34-3-38-3-23-3 78-4-39-3-79-3 54-3 10-3-7-3 42-3 20-3-63-3-1-3 7-3-99-3 32-2 84-3-25-3-96-3 62-3 76-3-51-2-82-3 70-3-6-3 12-3-98-2 71-3 16-3-103-2 51-3-41-2-1-3 36-3-18-2 16-3-16-2 2-3 48-2-49-2-31-3 34-2-76-3 33-2 78-2-101-2-46-3 37-2 61-2-28-2 31-3-63-2 21-2 17-2-95-2 4-2 68-2-98-2-17-2 104-2-48-2-14-2 43-2-61-2 6-2-10-2 8-2-76-2 0-2 10-2 21-1 20-2-7-2-78-2 88-2-23-1-71-2 30-2-49-1 56-2-2-2-64-1 13-2 18-1-50-2 30-1-17-2 42" stroke="#EDB120" stroke-width="55.0" fill="none" stroke-linejoin="round" stroke-linecap="round"/></g>
<g clip-path="url(#cd)"><path transform="scale(.1)" d="M13338 13960l-30-103 17 42-55 79 68-32-23-56-29 50 47-32-32-82 30 141 24-7 1-66-40-22 6 56 65-51-1-40-5 168-16-52 10-59-31-41 79 93-50-63 66 134-42-120 53 4 18 19-59-16-20 21 7 34 48-21 49-95-25 111 25 11-32-10-24-24 61 9 20-44-41-103-13 132 9-113 73 67-57 10 25-18-19-77 88 60-17 12-31-113-16 92 14-80 52 143-36-101 8 49 8-77 1 7 56 71-16-49-39 42 84-100-62 86 0-94 4 57-1 47 51-150 10 60 23 114-77-25 14-36 10-41 29 36 41-24-41 0 23 40-13 13 23 22 3 0-36-28 44-104-44 125 24 13 34-66-38 53 38-20-14-52 27 23 17 102-43-93-4 17 24 9 21 57-36-103 26-33-1 100 44 45-43-142 5 149 12-60-18 3 51 37 43-186 12 108-67-16 3-17 84-55-61 114-11-23 3-48 53-34 26 38-41 75-3-37 7 13-6 29 88-44-41-56 13-32 3 78-4 46-30-55 45 62 29-102 5 45-3-41 2-56 2 114-31-42 67 25-11 5-21-158-7 17 46 66 12 76 9-85-16 121-14-127 46 8-13-12 8 10-31 47 69-75-57 73 52-28-26-92-6 106 39-54-20 40 33-7-22-118 16-14-55 93 25-117 23 106-26 101 78-149-42 96-36-115 65-25-57 17 36 28 14 36-9-37 29 4-68-3 30-27-5 89-29-12 36-125-17 134 6-30 22 28-9-140 45-10 28 11-75-9 22 51 55-53-88 64 36-124 36 138-33-140 19 33-17 14-7-38 60-54-29 66-41-53 96 82-74 38 33-112 18 32-47 14 26 91 52-191-42 171-46-135 17 95 47-75-40-6 15 139 49-78-5 19-50 25 69-79-43-62 40 84 6 36-12-28-35-50-23 12 57 81-22-25-16 7 9-31 56 19-59-5 33-145 31 150-24-83 19 55-10-135-29 113 56-73-48-20-9 57 64-11 15 33-30-20-2-77 3 11-38 110 20-145 15 125 36 9-8-17-11 9-34-56 41-8-28-97-3 1 56 42-6 6-25 87 56-11-30-73 8-18-52-71 41 103-22-108 52-74-23 191-8-152 29-19-27 55-26-107 36 121 6-87-18 84 53-118-64 101 31 37-33-56 34-19-35-76 11 54 22-36-6 43-8-7-10-77 9 55-24 85 53-153 24-4-16 41-25-15 6-31-12 122 26-137-41 147 29-41 1 23-25-38 69-107-2 121-44-99-4-53-2 22 42 67-1 7-62 62 41-82 52 34-35-1 13-32-21-93 50 0-22 122-4-128-45 121 48-77 16-38-42-70 23 158-34-107 11 1 25-36-12 99 3-17 2-18 10-63-8 0-16 48 46-9-53 42 40-104-5 6-23 74 35-33-52 3 6-103 30 8-3 89-16-12 33-122-9 89 0-26 18 25-14-100-22 68-2-3-5-28 25 31-1-54-13 22 20-28-17 36-2-31 17 17 1 10-11-12-7-57-4-19 9 34-10 2 20 11-9 8-1-34 1 5 13-34-11-15 12 8 9-1-18 1 10-9 6-5 0-1 4 4 5-18-17 1 12 5-15-12 12-14 1 2-10 13 10-6 8-41-5 31 4-19 5 19-4-12-7-3 8-31-8 17 3-6 8 9-11-40 3 20 7-25-1-2-1 10 10-3 0-2 1-25 1 15 1-16-10-24 8 3 6-13-9-3-1 6 10-17-15 7 7-15-1 5 0-18 3-10-3 10-3-19 10 21-8-23 8-14-2 14-1-20-3 25 1-2 2-2-7-42 6 27 0-40 1 6 0 6-6-27 8 19-1-4-3-27 1 8-9-9 13-7-5-7-11-7 20 3-4 10-10-34-3 19 15-14-3-18-8-6-1-13 11 11-4 10-3-26 1-12 6-5-4 31-6-14 9-30-13 3 4-3 9 12-1-27-5 0 1-14 1 8 3-17-4 1 8-10-1-14-3-4 4 0-1-2-10 2 15-1-1-11-5 4-10-10 7-23 10 4-7-1-3-2 0 6 0-9 3-20-3 4 9 4-10 1 3-31-9 8 10-5-14 8 8-23 4 8-1-18 4 1 1-11-8-24 3 7-2 18 11-22-6-1 5-2-4 12 2-26-6 3 8-11-2-10-9 12 3-40-1 25 1-25 8-12 4 30-6-45 7 25-4-16 6 16-7-20-1 2 2-9-5-19 12 19-15 0 5-6 4-16-4-5 12-2-6-1 5-5-1-21-6-10 4 23-8-8 17-41-19 32 2-23 10-9-7-16 5 28-6-38-1 16 11 10-5-29-1 11-2 4 5-30-4 5 2-16 7-12-15 10 14-1-7 3 0-21-10 6 1-8 7 4 2-31-12 6 9 3-3-3 7 2-14-27 3 14 7-5-8-14-5 12 9-15-6-3 0-8 9-2-10 0 10 2-10 7 2-39-2 1 12-2-3-1 0-29 0 28 8-16-13-7 5-5 9 3-5 1-1-35-4 14-6 6 4-29 7 5 6-11-8 14-5-33-2 17 8-26-4 5 0 9 2-20-6 3-1-12 8-3-9-19 7 16-1-33 2 10-4-10 8 0-7-13 5-17 2-3-9-11 9 24-12-8 11-18-8-9 8-11-2-5 8 28-3-19-9-24 3 15-2-10-5 3 2-16 10-2 5 9-15-26 10 9-8 4 12-12-2 6-15-34 11-7-7 11 7-1-11 4 2-21 14 8-12-13 9-3 3-14-5 14-14-11 12-22-1 22 6-23 2-16-23 21 12-24 7 17 3-4-3 1 2-27-9-5 8-13-15-7 10-2-4 17 6-26 0 15-2-2-9-29 3-11-3 0 3-8-5 5 9-12-8 6 6-7-5 10-2-26 6-1-6-28 10 15-5-11-6-11 4 10-3-21-1 0 0-21-5-5 3 9-1-24 2 17 2-26 6-7-9 0 5-5 7 0-1 11-10 4-5-22 4-4 4 3 2-16 1-3 0-5-5 40 4-37 2-7 1-16-6-19 2 16-7-6 11-12-4 2 2 1 0-22-1 11 12-17-8-12 3 2-8-9 9 13-12 10 4-12-4-13 7-26-3 4 1 0 6 6-5-32-8 11 8-19-2-14 1 41 2-32-7-2-2-16 2 8 10 3-13-20 12-22-2 22-16-29 13-11-11 36 6-32-3-6-1 15 7-20-1 1-10 7 3-23 0 6 2-6-5 3 8-27-2-2 0 8-5 17-5-17 5-24 3 9 5 5-2-18-8-9 14 9-12-20 3 4 6-17-7 19 12-24-11 9 0-2 1-25 5 25-5-35 5-9-3 36 9-19-4-12-12 13 14-36-11-13 2-3-5-2 16 15-4-42-8 21 4 2 7-44-14 12 11 1-5-8-6-8 5-3-1 2 4-25 3-3 0 19-5-17-7 6 5-15 5-1-4-11 1-7 2-17 5 14-9-22 14 10-7-1 3-5-11-12 3-13-2-13-1 15-8-19 7 18 2-23-9-17 17 8-15 10 0-3 15-34-16 4 5 5 7-8-10-13 1 11-1-19-4-2 9-15-2-3 1 10 3-3-15 6 19-22-9-22 5-1-7 13 9 5-14-3 6-34 10 19-12-9 15-9-9-25-4-7 11 4-5-6-1 16 1-29-8-8 9 20-1-24 2 11-4-16-2 7 0 2 9-13-3-17 4 16-14-19 5-20-4-1 3 10-5 5 7-36-6 25 1-5-7 0 8-18 3-12-9 17 6-26-7-3 6-6-2 5 1-3-4-2 8-21-5 2 11 20-8-39 2 2-4 17 8-14-8-19 3 1-2-11-1 12 4-20 7 12-5 9 5-29-1 11-2-4 8-23 1 5-5-2 4 4 6-26-12 9 5-23 1 5-5-6 4-9 10-18-2 4-8-7 7-3-5-5-1-7 8-1-8 7 5-23 11-16-1 18-10 14 7-18-4-27 1 16 10-15-9-4 3-19 7 16-1-19 8 1 0-10-1-13-8 7 8-15-8 9 17-15-6 5-3 2 9-15 1-15-10 9 4-5 3-6 17-4-12-29 13 33-14-31 11 8-4-27 13-9 0 29-2-25-1 54 6-67-12 17-3-21 13-12-8 7-2 4 15-4 2-13 6 0-19-10 19 9 6-27-14 8 15-7-20-15-4 8 27 27-23-38-7-1 34 25-24-60 5 6 17 35 4-23-20 22 18-15-30 24 25-3-5-39-2-1 23 1-33-9 14-50 25 66-38-51 20-3-17 53 12-78-1 43-3 18 35-93-37 58 10-71-11-10 37 44-18 24-14-36 31 40-2-41-22-41 23-17-7-20 27-29-31 33-31-3 48-33-45-6 17-26-9 109-31-59 15-51 35 107-14-55-21 27 55-37-16 35-21-43-25-8 67 14-55-54 17-144-23 196 39-28-45-124 64 49-23 15 49-40-46 99 27-68-42 61 40 3-47-55 36-9 28-56-57-9 15 15 4-6-6 53 18-45-36 6 14-17-14-20 6-37 23-15-19-17 35 56 13-34-21 19 24-39-58-5 2 74 45-25-16-44-3 37 39-69 10 73-26-123-24 49 23 20-2 15-4 4-16-28 1-30 38-88-22 118 2 40 1-72 22-15 1 52 7-68-4 95-3-100 27 72-32-132 25 51-13-23 22 17-21 43-27-51 52 5-20-3-24 59 42-119-18 71 20 19-37 10 60-71-51-1-3-84 15 48 6 5 33 71-40-12-15-46 39-36-33 16 16 60 26 26 1-30 31-73-29-44-30 85-1 23 12-26 37 4-29-50 28-60-16 111 44-92-10 19 28 44-15-93-29 27 36-9-22 52 45-34-44-87 40 28 7-38-42 140 44-93-27 46-3-79 9 103 13-36 11 21 43 20-31-35 10-42-5-65-11 37 11 51-18 58 6-125 8 78-13-75 33-27 7 30-12 27-21 1 38-89-4 83-10-59-21-17 9-26 55 54-4-9-44 31 40-88-55 38 29-50-4-41 48 106-51-27 12-55-1 9 3-22 32 30 12-62-37-73-27-14 44 20-45 102 37-120 4 62-29 28 51-36-30-33 30-51-4 42 4 13-53 21 38 3 3-52-17-3-10-5-17-49 53 32-5 54-4-35 0 41 24-58 24-11-19 49-34 38 1-131 55 32-55-37 26 54-16 91 36-97 21-7-29-11 31 75 5-26 34 42-40-25 12-39 31-37-28 1 34 61-42-74 20-4 19 116-19-8 0-100 49 31 12 121 12-49 16 47-39-115 23 110 15-25 27-22 6 13-32 15 10 9 10-20 43-58-24 116-24-107 28 96-2-90 1-20 34 14 33 108-52-109-2 95 22-87 32 111-21-71 61 31-19 17-28-86 38-11 7 70-61-91 72 48-23 43 16-49-5 97-16-173 33 118-20-1 45-24-34 48 49-117-41 2 6 93-13-90 48 19 6-16-27 2 24 9-1-24 9 2-11-13-20 91 19 14 31 2 5 33 35-23-14-29-3-78-10 6 47 138-41-159-23 78 31-33 22-14 35 5-1 35-41 39 60-61-41 16 38 81 2-57 27-19 7-27-22-36 23 123-21-124 33 29 28-12-59 0 22 17 15 13 36 23-49-51 39 51 8 17-19-25 6-52 48-23-53 105 10-61 12 27 56 5-14-67-1 16-11 47-28-66 26 42 19 113 28-134 5-28-8 64-11 49-16-62 4-11 39-11-2 102-27 4 10-70 42-14 11 85-18-77-8 77-27 93 1-110 15 51-39-9-1-15 29-39-63 89 27-12 21 51-29-99-34-27 36 77-8-99 0 122 1 43-38-30 18-78-38-3-6 27-6 75 60-58-34 1-19 16-9-8-12 7-7 26 3 21 41-23-8-197-31 244-16-70-5-24-6 77 8-46-17 71-4-104 27 106-49-54-1 9 20-32-19 66 12-37-42 19 43-55-2 32-62 59 54-74-47-26 21 30-23 18-16 0-23 53 11-87 6 39-9-77 49 56-59 5 16-26-15 44 20-26-9 22 24 57-48-55 2-33-27 24-33-113 23 157 34-97-7 120-14-28-37-23-10 8 38-1-16-25-38-38 45 40-46 34-1 6 14 40-35-5 20-53 1 22 13-12-37 111 4-37 18-32-45 53-9-40 12-38-8-5 0 2-23 59 43-84-54 65 9 78-14-56-16-123 34 35-5 23-42 51 11-11-2 12 11 14-25-67 39-30-51 64 19-6-21-36 25 44-33-3 30-12-41 22 27 66-17-19 9 3-41 4 0-24 19-23 10 59-26-94 5 0-37 152 31-79 27-15-44-19 27 92-32 29-20 6 28-73-25-21 42 79-3-8 4-54-12 32-22-40 3 84-23-37 6-33-33 10 19 29 15-36-30 33 7-77-40 47 5 79 36 25-36-33 22-6-11 31 21-10-30-59-12 108-6-46-17-45 16 84-17-52-32 77 64-11-53-94 4 128 33-36-33-41 17 126-2-148-41 25 23 53-12 65-21-92 8 27 4-13-1-19-9 112-12-36 1-16 7-66 18 63-36 58 23-72 22 65-36-70 18 25-22-23 7 14-14-1-10-54-9 125-4 27 34-42 17-73-16 94-15 5-21-76 37 53 29-14-22-14-32-3 49 30 12-69-24 124-2-114 11 106-32-95 20 50 18-14-4-11 1 12-7 106-74 21 28-30-6 15-2-37-2 0 34-40 16 88-19 8-16 15-7 0-62-60 32 90 28-67-20 10-3-30 13 27-6 108-2-2-31-59 24-43-13 60 13 8-54-53 35 16 2-36-28 85 11 37 0-34 10 33-34-20-14 75 28-33 14-34-38 73 21-111-24 48 45 18-54-4 28 129-7-40-17-46 29 31-18-1-37-41 61 40 2 17-41-53 23-11 2 39-40-41 20 77-21-92 21 132 16-16-54 4 56-93-26 44-1 35-7-36-20 65-10-18 1-53 8 58 11 32 19-3-19 24-23-60 22 13-1 66 16-45-40 45 24-54 7 40-15-11-24-10 12 66 23-76-45 65 37-23-24 61-7-23 35-12-34 1-11 30 47-50-35 46 4-19 7 14-4 41 16-20-19 44 4-4-8-6-10 14 3 12-9-2 12 10-8-19 22 26-22-2 12 15-8-25-7-7 5 13-6 15 1 0-5 18-3-16 12 6 0 8 2 17-11-19 6-4-13 29 2 9-3-19 4 20 4-16 1 19-9 21 11 1-6 6-7 7 8-13-13 6 6 18-11 7 3-6 0 21-5 3 7 2-3 4-9-8 1-4-4 28 10-15 1 1-5 3-15 21 2 17 1-2 1 0-5 18 8-6-14 15 5 14-10-7 10-7 2 23-12-14 8 13-9 12 5-15-15 14 8 4-11-7 1 20-3 14 3-13-1 23 2-17 3 33-7-5 6 3-9 5-8 13 3 3 7-18-9 24 5 11-1-15 5 22-6-7-2 13-5-10 0 8 8-2-15 8 11-3-15 21 7 15 3-1-7-5 7 1-2 42 3-16-10 7 8 4-17 1 11 2 1 24-1 2 7 3-11 7 9-26-11 35-5-6 9-12-2 24 4 18 3-14-4-11 2 34-4-20-4 17 0 11 1-18-8 19 10-10-9 12 0 14 3-12-5 13 11-3-6 19-3 15 5-12-4 13-5 2 2 15 7-10-4 7-3 10-2 23 2-26 14 5-3 15-4 27 3-26-9 19 8 13-6 0-5-5 4 16-3 3-2-17-2 30 11-11 3 7-13 3 2 32-1-11 1-7-3 17 6 18-3-15-2 0 10 24 4-15-6 30-2-9-7-12-3 33 3-1 7-7-1 30-2-14 3 18-5-7-3 5 10 12-3 13-2-17-7 23 8 10 1-29 4 42-14-30-2 33 9 8-1-15 2 2-1 5 2 12-8 17-1-4 2-2 3 24-1 4-10-4 9 0-7 21 2-17 10 21-7 2 4-9 1 1-11 26 3 1-6-1 8 3 8 3-7 1 2 24 3-24-4 4-16 2 10 30-1-13 6 6-3 20 7 7 2 2-12-9 4 11-6 9 8 3 4-13-12 8 0 24 6-8 6 19-1 6-14-3 3 6 6 18-2 1 0-7-12-2 11 33 4-6-9 7 1 23-3-22-2 10 5-1-4 28 11 10 3-17-4 9-7 16 9-1 1 25-4-20 2-5-1 22-12 7 11 25-11-41 8 29-2 0 0-2 5 19-9-4 3-5 0 45 7-13-8 12-1-2 3-14-7 10 7-5-10 23 1 19 9 10 3-11-2 4-10-5 9 16 4 10 0-18 2 18-12 3 16-3-15 3 6 8 0 34-7 2 9 2-8 8 0-2 10 14 2 10-2-24 1 20 5-8-7 15 7 27-8-13-2-2 11 8-7 2 9 4-17 31 3-23 4 27 0-17 4 32-6-23 5 0-5 34-7 0 5 4 14 18-5-15-6 21-4-27 5 30 8-2-10 14 11 4-9 7 0 26-2-29 10 27 0 16-5-25-9 28 16-14-4 14-2 6 0-7-9 19 1 2-1-10 8 1-14 12 3-5 1 6-6 18 17 20 0-10-17-3 8 5-2 8-8-14 7 37 8-7-2-20-4 27-9-23 10 35 3-20 2 23-2 5 5-3-4-1 1-10 0 25-7-10 0 8-3 15 3-10-3 6 1 5 9 23-14 6 15-4-8 4-2 17-1 1 10-1-6-4 5 8 0 24-8 7-5-9 10 13-7-9-3 28 15 8-4-6-2-3 0 7-10 24-1 10 16 5-1-4-14-11 16 16-3 12-10-8 15 9-17 35 8-18-2 0-11-2 5 29 9 11-12-29 19 18-17 8 9-13-13 22 19 7-9-6 1 10 1 14-1-22-3 37 8-6-15 11 7 8-2-5 13-2-5 24-3 4-1 0 1-6-2 27 5-9 5-13-15 19 6 6 3-8-4 28-5-1 11-8-11-2 13 16-1 1-5-1-5 17-4 25 3-21-2 13-1-36 6 46-3-1 1-19 1 35 3 0 3 13-2-27 9 4-11 4 4 10 0 27-7-13 11 6-2 12 1 10-9-13 2 7 6 22-3 2-2 19 6 5-10-17 2 16-2 15 9-16-1 22-4-1 15 5-12-2-1 6-8 14 15-4-2 22 0-1 2 19-7-21 3 0 5 27-8-6 3 11-5 0 5 6-2 15-2 5-3 0 7 18-2-20-5-1 0 30 2 19 2-26-1 12-5 2 1 17 7-4-2 2-1 4-5-4 5 12 1 4-9 2 16 37-7-29 4 3-11 19-2 10 15-12-9 23 9 18-18-11 12-6-3-2-1 15-6 6 5 5 3 12-3 0-8 21 15 1-2 12-4-26-6 30-3 9 7 5 6-1 6 8-16 0 7 1-2-8 10 17-6-15-13 14 9 22 2 9-1 2 3-14 2 10-4 7 0 8 2-13 5 31-3-10 0 23-7-5-2-12 1 16 16 9-16 7 7 18-10-28-2 0 7 18 1 18 4 3 1 5-13 25 1-19 2 6 5 6-17 22 12 10 2-18-13 24 12-8-14 2 9 10-4-6 2 36-5 1 0-12-2 26-4 5 5-29 7 22-12-1-4 10 9 20-3-16-3 9 10 4-2 16-5 3-3 10 2-16-3 2-9 9 15-8-8 31 5-24-5 33-14 13 13 4 6-33-22 9 25 29-14 15 13-25-20 7 24 46-15-4-4-25 23 1-20 39-2-59 8 37-11-9-2 19 0 16 12 2 17 1-25-6 2-5 9 16-22 7 25-38-25 59 10-7-12-6 22 15 5 5-5 33-6-58 20 42-9 38 3-29-7 40-1 31-33 19 35-47-14-86-27 51 52 61-14-80-31 91 33-137 2-2-36 49 23 69-10 9 6 32-17 12-7-90 24 38 34 129-12-118-51 54-17 17 53-41-40-5-5 189 76-165-13 156-34-67 56-58-71 121 67-63-6 1-57-56 51 56-9 19-4-29-6 70-29-56 7 72-30-92 13 104 34-41-3-31-32 27 23 46-57-9 34-57-52-94 49 94-26 38-44 4 49 14 11-32-6 10-43-47 12-2 28 24-59 108 57-14-49-10-24-100 65 108-17-17-48-19 32 60-24-82 9 68 28-103-57 72 0 74 56 4-38-26 3 75-25-104-10 34 39-8-48 49 3 31 43-45-50 50 16-55-36 22 51 60 9-182-57 59-7 20 55 74-6-144-59 102 32 92 24-75-38-9 8-37-58 36 22 108 26-70-9 3 6-21-36 76-1-141 40 194 0-159-83 21 91 124-80-132 31 42-35 54 41-82-16 19-45-3 60-48-19 133-55 38 38-148 2 9 30 115-92-28-4-91 26 148-19 22 20-56 17-100 2-35 20 13-57 72 30-47-56 134 59-137-25 30-19 90-8-2 26 31-8-45-3-48-32 88-18-45-30 19 62-23-21 24-23 17-3-3-31-27 50 44-39-24 22 37-23 8 28 55 9-27-30 66 14-157-39 159-2-139 23 96-65 45 71-84-11-66-17 7-14 98 24 12-47 5-1-63 25 53 0-15-8 70-6-129-52 45 28-64-49-23 67 159-78-10 49-9 16-58-91 56 41-39-13-41 4 40-44-38 40-17-27 12-16 132-6-12 44 5-38-125 27 162-8-132-7 63-63-73 22 42-30 95 14-51 8 46-35-81-9-15 38-16-11 83-18-45-4 32 40-40-52 118-2-49 22-31-16 77-28 22 5 60-12-145-23 103-6-22 14-74-13 126-31 18 72-21-64-154 36 102-5-36-13-58 46 113-80-74 26-84 5 38-21 150 63-127-110-85-4 158-2 55 56-133-77 63 31-15-4 27 19 23-43-11 28-117 21-18-27 39 0-25-1 118-42 15 10-46-33-50 4 61-21-24 79 62-44-1 13-107-66 121 14-92 25 146-4-169 14-11-59-34 10 182 29-105-11 80-26-132 13 123-37 24 47-31 11 33-38-60 45-35-33 121 39-23-48-106-5 112 4 16-33-113 1 92 53-46-28 86-7-4-7-91-38 26 51-39 22 110-72 43 6-40 78 25-95 74-2-25-9-11 44 15 28-38-40 117 52-97-56 42 37-78-42 17-16 57 59-24-10 117-31-12 14-81-62-8 82 128-84 36 36-138-14-22 3 72 1-11" stroke="#0072BD" stroke-width="55.0" fill="none" stroke-linejoin="round" stroke-linecap="round"/></g>
<g clip-path="url(#cd)"><path transform="scale(.1)" d="M12295 14242l16-12-13-6 6 24 7-11 21-22-12 6 26-39 5 0-12 3 13 13-2 3 12 16 0 4 13 7 2-59 10 49-1-4 4 0 7-8-1-13 15 31-4-33-3-1 13-8 10 39 5-5 4 12-1-20 2 18 4-6 6-10 4-16 10 27 8-42-8 19 27 12-3-19-4 12 20-8-8 20 3 11 22-58-20 52 18-18 10 3 5 7 9-36-9-8 3 33 7 11 16-13-10 23 23-36-9 32 16-23-1 19 6 7-3-11 3-44 3 44 24-51-7 47 11-38 0 19 4 26 16-28-3-18 6-8 10 13-8-2 11 6 0-25 18 58 7-50-2-3-2 14 10 24-3-4 23-34-1-18-11 50 11-2 13-37-6 32 3 11 12-35-3-6 3 47 21-19-9-11 12-3-10-18 26-4-10 2 19 30-5-46 7 38-2-30 16 10 6 20 4-47 0 26 19-5-7-8 10-14-10-9 12 32 6-28-2 0 1 18 18-4-5 6 15-32 6-3 0-7 2 27 14-23-2-11 7 20 19-11-20 10 3-20 14 23 4-10 0-26 19-4 3 17 6-20-4 41-5-26 20-35 6 52-2-27 12 29 8-39-12 37 14-33 14 4-3 32 7 7 9-42-6 16-4-21 14 4 0-8 15-18 5 22-12 18 22-15 2-20-6 2 14 35 11-36-2-7 3 39-10-53 24 19 2 24-5-26 6-27 10-1 1 43 12-22 8 13-1-41-5 28 14-40 14-10-7 19 0-1 6 3 17-16 0-23 4 34 9-13 1 26-4-34 6 22 6-3 21-1-3-13-4 7 10-45 5 43 5-7 5-23 10 17-4-11 20 42 1-60-2 3 2-4 13-10-8-4-3 31 14 22 0-31 5 5 5 30 24-40-14 8-5-9 5-23 12 12 16-7 7 22-4-25-2 24 7 2-1-7 25 3-14-16-6-12 17 19-3 14 22-24-9-33 19 41-15 3 13-61-2 37 12-29 8 14 11-20-7 13 11-2-2-32 10 19 5-5-8-11 17 34 6-19-1-7 3 20-1 5 12-45-5 40 14-20 2-19 16 19-5-2-6-40 16 37-6 31-1-27 8-14 15-2 14-19 1 41 6-54-7 38 9-10-14-16 20 13-4-39 19 51-16-12 25-22-4 0-1-9-2 4 5-11 9-14 4-7 2 28 18-2-4 7 1-32 15 2-12-29 14-1 10 39-2-7 11-32-7 35 12-34 6-2 3 23-8 3 3-29 22 7-1-24-2-5 9 8 1-36 12 46-7 3 6-34 13-10-1 7 13 29-8-46 5 2 6-2 9-16 0 24 2-22-5 11-2-2 12 3 0-27 8 8 12 0 1 0 5-10 15 5-16-1 19-14 4-41-4 31 9 12 13-13-6-4-1 10-1-42 11 6 17-8-17 31 8-8 18 14-9-62 13 36 10 0-17-10 9-8 3-23 18-4 6 37 3 0-12-30 0 7 11 7 8 0 3 3 18 4-12-7 11-1-2-39 12 26 3-22 0-19-15 16 13 15 4-36 26-10-2 12-12 0 15 20-4 3 7-10-5-9 9-6 7 4 7-41-5 9 7 32 1-13 20-33-21 37 12-32 17 7 3 8 4-11 0-15-6-32 11 33 7-38-14-4 4 50 7-21-2 23 13-10 1-59 4 7 5 23 7-29 1-21 0 20 13-19 2 42-5-12 1-7-11-61 33 4-16 19 11 5 12-3 7 1-14 11 2-4 11-41-11 1 9-21-5 13 19-7 2 24-1-27 18 5-14-33 4 45-5 5 2-17 0-18 20-1-2 5-2-30 10 2 4-4-1-6 1-11 3 13 9-16 7 33 2-19-12-10 5-11 4 23 6-25 7-1-3-34 14 34-7 3 0-6 18-41-2 25 7-13-17-19 10 26 5-28-6-23 0 23 12-39 2 37-3-18 12-21 5-25-10 41 11 6-14-53 5 10 3-13 17 13 1-12 5 22 9-12-19-36 8 31-4-37 22 12-7-35 1 30-5 12 6-36 2-8 7 9 6-15 4 26-8 3 8-63-9 17 16-27-1 35 10 0-11-40-3 6 11 18 9-16 3 26-4-29-3 1 1 2-4-20 11 7 4 5-6-30 7 5 5-19-1-11 5 24 0-34 11 27-6 1 3-10-3-38 2 31 14-32-9 2 5 19-1-37 3 14 10-23 2 27 4-13 4-5 2-14-5-26 9 39-7-27-2-8 6 1-7-18 11 17-3-14-4-17 18 8-8 3-1-36 5 2 2 7-4-24 3 24 6-24-2 19 5-20-4-7 1 5 3-8 2-3 8-5-5-14 9-2-1 1-4 0 3-7 4-11-2-7 4-9 3-7 1 11-1-2 5-12-2-12 3-2 1 2 1-3 3-11 1 2-3-10 1-13 7 8 2-17-2 11 1-16 3 5-2-9 5-1-1-6 2-2 1-6 4-10-2-2-2-4 5-9 0 1 2-12-3-3 5-4-1 0 4-12 0-2 2-10 2-3 0-8-1-5 0 3 4-15-1-7 4-4-3-2 3-4-1-13 2 4 0-7 4-5-3-6 4-5-1-11 3 3-1 0-3-7 2-8 0 3 2-16 2-5-6-6 3-2 3-2-1-10 1-1 4-7-2 0 0-1 2-13 2-5-3-2 3-8-2 2 1-11-1-3 1 2 3-13-3-9 2-5-1-5 0 5 3-12 0-12 1 1-1-3 1-2-2-10 0-3 4-7-1-3 0-6 2-12 1-9 0 6 4-4-2-3 0-6-2-8-1-6 2 2-2-11 5-19-3 12 2-10 2-3-3-9 3-16 0 2 0-8 0 5-1-7 2-17-2-5 1 7 4-12-4 0 5-15 0-5-1 1-1 1-2-2 4-8 0-3 0-18 1 0-2-2 2 2-2-2 1-16 0 3 3-17-2 4-1-10 4 5-1-13-4-5 3-10-2 8 3-13 0 1 1-9-2-10-1 7 2-11-1-11 1-4-2-8 0-4 0 4 3-5 2-16-6 5 5-10-3-5 0-3-3-8 5 4-3-9 1-8 0-10 0 2 2-11-5-6 7-5-6 2 0-1 3-13 0-2 4-6-5-5 1-11 2 4-1-13-2-6 3 8-2-8-1-19-1-1 2 2-3 1 0-18-1-2 1-9 4-3-5 7 3-18 0 4 1-11-1-4-3 2 0-15 1 4-1-2 4-4-4-15 0 5 3-12-2 1 0-7-1-7 0-6-2-10 0-3 4 0-1-9 1-4-3-7 1-8 1 3-2-15-3 2-1-6 1-11 1-2-1 7 0-14 2-13-2 2-1 2 3-10-5-3 1-3 0-14 1 2 0-8-3 3 3-18-3-1 3-2 2-3-4-8 3-14 2 5-1 2-2-13 0 2 2-13-2-4 0-9 1 5 1-4-2-18 0 3-2-13 0 9 4-20-1-3 0 6 0-8-1-2 2-7-1-20-1 5 1-11 1-4-3 4-1-4 0-11 3-5 0-9-2 3-3-8 4 0 1-10 1-6-3-6 0-3-2-13 0 10 4-12-3-9 2-4-1 2 2-10-1-4 0-5-2-11 2 3 1-5-2-12 2-6-1 0 0-1 4-11 1 0-2-13 2-7-2 2 1-12 3-1 0 1-1-3-1-13-2 6 3-17 0-6 0-1-1-6-1-3 5-12-3 4 2-3 0-4 3-21-1 5-4-10 3-4 0 3-1-10 2-18-2 6 4-2-4-9 1-6-1-3 5-11-1 2-2-6 2-12-1-2-1 0 4-6 0-2 1-7-3-9 6 7-1-6-1-14-1-3 2 0-2-4-2-16 1-5 5 7-1-11 0-11-1-1-2-2 4 0-1-12-1-9 1 2 1-13 2 0-4 3 0-12 4 1-6-3 0-16 5 6 0-12-1 0 0-14-3-5 4 6-2-3-2-10 5-15-2 10-3-15 5 0-2-7 4-11-4 9 0-14-1-2 4-11-1-1-2 0-2-3 3-10-2-2 3-11-1-1-1-17 0-1-2-11 0-11-1 14-1-12 5-5-1-9-2-1 2-1-2-13 2-5-2-6 4-7-3 1-1-6 0-4 1-6-1-4-2-6 2-10 2-5 0-2-3-7-1-1-1 3 3-8-1-6 1-3-2-9-3-11 6 4-2-10 2-6 0-7-1 7 0-13-4 4 5-16-3-8-2 0 3 0-1-8-4-13 5 3-1-7-3-5 2-10 1-9-3 9 2-18-3-4 4 4 1-13-1-5 1-2-3 1 0-13 0 5-3-16 5 3-4-6-1-6-1-4 5-12-3 6 3-3-5-16 3 4-3-10 0-7-1-6 1 2 2-15-3 3 4-5-1-4 0-6-3-3 3-13-5 2 1-9 0-11 0-2 2-1-3 10 3-10-1-11-3-11 5-4-2 2-1-15 2 7-3-16-3 4 0-11-3-3 7-1-4-11 5-3-6-5 3-11 1 5-2-6 0-5-2-5 0-3 0-8-2-3 2-8 0-6 1-1-2-12 2 5-2-13-1-12-1 8-2-11 0-1 3-12 0-4-3 4 1-4 0-7-5-11 1-2 0-1 0-12 0-12 0-4 1-1-4-2 2-6 0-15-1 5-1-6 2-10-2-7-2-4 3 0-3-9 0 1 1 1-3-12 1-10 3 7-6-12 1-2 2-8-2-7 0-7-2 2 3-16-2-1-1-7-2 3 3-20-3 3 4-9-3 0-2-5 0-7-2-13 0 11 3-16 1-6-2 2-1-10 0-5 1-6 3-3-6 0 4 2-3-10 1-13-2-8 3 0-3-6-2 1 0-4 4-2-1-16-3 4 6-14-1 2-3-12 0-9 4 4-1-6 1 3 1-4-3-7-2-8 1-5 1-5-2-8 9-6-7-8 0 5 2-19 4 3 1 3 4-20-5 6 6 16-6-27 2-5 2-4-4-12 4-4 2 10 3-24 0-5 4 1 1 8-2-24 1 23 7-19-6 9 1-13 8-19 3 12-4-8 2-12 6 1-6-11 3-11 3-6 0 4 5 20 3-30 4 1-4-18-2-6 7-9-6 11 0 15 4-35 4 10 6-19-3-6 9 15 8-16-2-10-3 1 11 21-6-2-9-28 8 5 3-19-4-1 12 2 7-5 1-13-4-13 9 32-10-23 7-1-9-9 7-10 4-8-5-41 18 43-13-44 19 28-12 4 1-15 3-40 2 7 12 0 1-10-20 29 20 1 1-10-2-28-7 22 14-4-8 8 19-40-12-29 6 14-4 8 3 13-6-11 19-34-1 20-10-7 7-22-4 15 8-9 4-44 6 17-10-28-2 26-4-47 0 16 6-2-8 0 16 29 13-58-9 2-3-14 5 2-11 26 10-21 5 5-9-37 13 33-5-34 5-9 7 1-2-8-11 20 14-29-8 10 9 10 8-34-5 30-19-28 11 26-3-44 0 16 11-19 10 22-6-34-11-4 14 25 3-20 0-20 0 19-1 4 6-12-5 11 5-50 2 11 6 19-11-34 5 4 11 1 11 6-3-41-1 9-4 12-4-4 6-21 4 38-6-60 18 13-3-8-4 8 6 3 13-14-22 9 18 4-2-32-8-21-3-10 14 9-13-16 5 20 15-17-5 11 2 11 9-37-7-2 11 2 9 10-6-26 13-19 8-15-6 30 0 5 0-44 9-2 5-5-15 13 23-27-3 21-15 0 4-22 20-13-12-3-2-13 17 46-8-28 11-15 16-2 2 27-6 2 2-25-2-9 17-29 0 17-17-10 22-15-1 23-3-23 18-6 0 21-24-22 16 3 14 6 2 12 5-50-1 25 9 8 11 0-7-43-1-28 16 54-13-5 7-7 9 13 10-24-6-20 4-17 14 23 4 10 11-26-1-5-1-8 4 2 5 44 3-29 11-8 9 19-13-32 13-4 8 25 4-25 0-18 14 10 0 18 10-12-1 1 10 11-6-21-6 7 16-19 8-16-1 71 13-47 1-1-1-1 13-4-9-13 21 37-12-53 20-7-13 62 0-49 19 45 1-32 4-21 14 10-9 18 11-48-5 17 19 6-9 12 8-37 0 23 13-32 5 44-6-49 9-3 11 21-9-5 2 30 5-43 13-14 7 19 13-21-22 7 24-29-14 26 18-17 5 6-4-29 13-17-9 45 15-21 3-20 8-7 4 2 3 12 11 5-13-34 18 21-10 16 18 18 1-39 2 16-6-37 17-23 13 1 13 41-8-15-8-18 18 19-8 4 10-2-1-22 14 19-6-22 15 5 7 21 4-31-8 24 1 12 16-28 8-9 10 18-10-1 13-36 1 7-9 35 12-42 8 3 17 46-12-19 6 17 7-9 20 15-19-28 25 1-9-17 1-23 16 5 1 26-6 8 9-8 12-51 14 52 3-4 7-12-5-4-3-30 22-5 14-1-3 51-12-10 16-29 7 9 8-22 4 29-12 12 18-47 5-7 11 28 6-21-7 34 15-9-5-10 4-18 18 22 2-19 9 7 0-8 1 45 2-53 5 9-3 12 4-20 30 5-15 38 19-33 6 39-5-47-2 36 4-34 16-10 8 28-7-3 1-4 21-32 2-5 8 31-8-8 14-27-11 30 23-13 0-18 8 27 5-25-7 27 8-1 12-19 7-16-1 23-2-11 21 17-8-19 20 1-2-7-4-6 17-10-1-4-2 12 6-16 18 20-15 0 5-8 28 10-14 1 5-10 9-30 1 57 5-16 19-16-1-28 10 29 1-33 4 40 2-29 1 13 13 12 9-29-5 31 8-25-1 11 3-23 21 11-8 16 7 15 7-18 7 3 6 11 10-12-15-9 19 10-11-4 8-33 4 3 0-25 19 25 5 23-10-40 8 17 11-10 9-15-5 43 25-22-14-11 19 16 3-17-5 0 3-1 11 40 14-39 2-2 5-8-10 4-6-24 34 17-1-17-3 0 5 20 19 17-16-8 13-19 8-27 9 29 1-36 14 19-1-1 12 2-10 4 22 22-2-8-12-30 19-5-3 15 15 6-3 14 18 0 0-1 0 2 9-34-3 24 3-24 6-6 6 8 9 29 15-33-1 47 5-18-7-43 18 28 10 23 2 3 2-15 4-30 13-9 2-8-1 50 10-23-5 22 14 5-11-6 22 0-1-43 12 24 5 9 1 1 8 1 0 27 10-2 7-7 7 1-4-25-11 34 24-47 6-4-7 8 2 18 6-16 18-33-4 53 7 18 7-14 7-10-7-8 3-22 12 41 10-35 10 34 12-45-12 40 4-7 6-14 14 21-1 6 2-19 26-10-16 42 26-13-19 21 8-39 2 24 15-32 9 5-1 31 11-18-5 30-2 5 8-38 9 3 3-3 11 8-3 6 16 6-14 21 5 13 19 19-3-48 19 34 1-2-6-31 14 65 2-37-7 79 14-26-11-16-5 40-17 8-4-9 11 8-19 15-8-30 21 53-12-50-7-7-3 37-7-12-4 40 7-29-19-1-4-2-5 16 8 5-4 4-14-22-4-5 1-13-5 6-7 31-16-10 8 3-5 17-3 27-18-38 19 10-9-8-4-2-17 18-1-17 8 2-13-8-8 34 7-36-18 59 7-3-18 1 8-24-5 28-12-35-13 40-7 11-5-2 19-8-11-6-2-20-23 21-9 33 8-25 6-27-12 23-9 30-6-34-5 32-1-38-4 0 6-18-11 60-7-45-24 12 0-8 8 33 10 5-26-28 1-6-5 44-9-19 3-13-19 27 7-32-1 21 5-12-11 25-19-5 15-4-7-5-10 22-13 11 13-27-17 32-1 3-10 23 15-24-20-4-1 7 1-18-16 25-6 21-9 4 13-29-11-8 2 43-4 14-2-5 2 2-19-44 9 9-15 3-3 12-15 17-8 24 17-31-9-6-9 48 3 2-8-30-16 28 6-26-5 44 7-12-10-29-12 4 3 24-7-10-7 27-12-29 13-11-2 32-19-17-3 40-2 0-1-29-5-1-8 47 0-10-17-11 7 21-6 25 5-6-21-48-6 49 4-39 8 46-10-51-21 56 6-25-2 1-12 38-7-29 2-18 3 4 3 2-16-13-3 39 6-7-14 0 0 8-13-5 9-28-26 50 9-20-1 29-10-20-12 24-2-25-2 29-13-7 6-3-12 3-2 48 1-72-11 15 5 16 7-41-19 51-6-9-3-4 6-12-9 28-15-11-9 11-5 12 1-14-5-6 0 46-10-18-14-9 18 37-12-46-6 32-15-1 8-27-2 31-17-16 7-1-9-13-4 27-4-13-1 19-4 35-22-58-2 35-6-19-4 23-7-8-7 8 15 18-27-19 9 4 0-27 6-9-22 7 3 22-7 12-4-13-7 10-10-26-9 63 8-67-13 44-6 20 10-18-9 11-23-37 19 29-26 9 12-5-25-34 12 11 3 49-16-12-3-27-3 3-14-17 4 7-11-5-2 7-2 37-12-11 6-20-4 17-22-4 4-15-1 36-7-14 6 17-8 11-15-46 8 4-23 42 3-2-3 5-9 16 12-39-18 0-6 18-5-5 2 20-21-40 4 45-12-7 2-6 2-14-12 25 6-12-10-26-5 29 1-7-11 9-4 0-9 28-2 1-12 13-10-5-1-22 4 30-1 15-9-72-3 56-6 4-15-16 12 18-11-7 0 29-17-18-3 21 3-34-2-13-15 60 13-37-25 25-2-56 7 0-9 46-8 1-4 1-1-25-9 8-8 26 3-2-7-2-15-5-5 7-3-34-4-5 2 57-14-41 10 21-11 27-13-22 3-11 0 18-19 11 2-34-13 30 3-16 4 1-23 21-5 15 4-34-9 0 11 65-24-53 6-10-12 5 9 12-26 15 9 42-7-28 0-15-9 49-7-23-7-37-15 12 17 39-27-41-1 45-3-7 13-18 4 2-22 30 2-38-4 44-8-21 2-11-5-7-19 7-2 35-8-13 0-5 1 26-7-55-2 35-15 4 2-7-11 10 5-1-21 13 1-11-4 5-9-28-12 8-1 31 16-1-25-18-4-17 3 51-2-35 2-9-2 16-17-8-1 15-1 8 2-20 1 11-28 25 8-6-17 39 11-37-2-4-12-3 8 45-7 11-5-22-6-16 3 15-5 52-10-45 0 32-3-43 6 53-11-20 6 18-10 24-10-30 9 21 1-14-13 47 0 3-12-8 9-18-13-28-3 42 12 8-23 33 8-9 17-21-27 30 12 4-9-32 5-7-9 27-9-2 5-22-1 36 3 11-17-20-12 16 9 0 4 31-7 7 9-12-4 5-8-17-13 23 19-11-17 32-1-28 5 43 0-15-14-9-5 46 13 5-1-30-23 17 13 8 6 2 5 9-21 22-5 5 5 0-10 24 15-41 0-4-12 18-8 35 14-31-13 18 7 1-8 1 4 22-9 6 4 7-5 20 8-29 1 32-8 22 3-41-10 31 2-13-3 5 1-19-1 47 0-11-2 1 1 25 1-9-13 19 2-33 6 18-4 39-2-45 1 40 4 0-6-2 0 20-3-18-1 21-2-21 11-6-16 29-5 8 1-22 5 27-6 27-2-28 7-3 6 17-5 2-11 4 10 7-1 24-5-4-7 22 9-26 0 23-6 4-1 2-5 17 1-4 2 16-5-17-2 20 2 7 5-6-4 4-7-4 4 18-3 0 3 0-5 26 2 9-4-14 2 7 5-1-3 19-1-6-5 7-2 7 4-3-2 20 0-11 1 15-6 7 2-6 2 13-1-3-2 4-3 11 1 9-1-6 3 7-5 5 4 10-5 6 3 7-2 0-3 12 2-8-2 17 1-8 1 15-1 4-1 4 0 7-3 4 2-6-5 12 3 11-1-4 1 11 0 1 0 8-1 8-2-4-2 9 3 8-3 11 3-7-2 0 1 13-3 7 1 2-2 9 1-1 1 18 2 0-4 9 1 0-2-5-3 11 3 6-2 2-3 10 4-3-1 8-2 10 5-4-3 7-2 12 0 7-1 6 1 1-1-2-2 16 0 4 2 10-2 3 1 2 1 10-1 2-1 2-2 11 0 4-1 2-3 8 2 7 0 1 1 5-3 1 2 11-2 0 2 7-1 3 1 7-4-1 2 11-2 6 3-7-2 4 2 14-3 0-3 15 3 6-4 1 0 4 3-1-1 11-2 4-1 3 2 4 3 9-4 9 2-1-6 1 3 10-2 2 3 4 0 4-4 18-1-6 2 8-1-1 1 7-2 14-1 5 1-3 1 12-1 4-2 8 3-5-7 6 5 6-1 12-3-1 3 11-1 10-1-4 3 1-2 6-3 17 1-1-1 1-1 3 3 8-1 9 1 4-1 3-1 7 1 4-2 10 2-1 0 8-2-3-2 7-2 15 4 4-3 3 1 5-5 10 5-11 0 11 1 8-2 0-1 9 0 3-4 11-1-5 3 13-1 7 1 3-2 6 0 2 0 14-2-5 0 14 1 2 1 2-2 4 1 0-2 7 1 8-3 15 1-3-2 7 3 0-3 10-2 7 0 13-1-12-1 16-1-4 1 6-1 9 1 4 1 7-5 9-1-5 3 9-3 2 0 12-3-7-3 11 5 4-2 4-3 1-1 15-4 1-1 5 1 5-3 7 1-9-3 3-2 11 1 8-3 4-3-5 0 14-2 1-4 4 2 8-4-3-3 16 1 2-5 5-1 6-5-3 0 8-1-1-3 14-5 3 0 1-2 11-7 2 1 9 2 6-6-2-4 9-2-8 1 22-5-3-2-4-5 18-2-5 3 4-4 6-2 16-5-4 0 11-2-1-4 3-4 10 2 3-4 8-4 0-3-5-1 16-3-3-3 16-1-1-1 13-7-9 0 13-4 2-2 9-3-3-1 7-3 7-1 11-4 1 3-6-2 14-6 6-1-2-4 12-2 3-3-3-1 1-4 2-5 13 1 3-4 5-3 5-4 3-4-2 2 17-4-9-6 11-1 3-3 9 1-2-2 7-8 3-3 8-4 1-4 9-3-4 4 11-5-6-2 17-2-2-3 9-3 5-1 0-3 2-2 7 0 6-3-8-6 19 2-9-6 14 0 2-1 0-4 9-2 2 1-2-3 18-1-2-1 13 5-7-5 5 0 11 0 5-5 1 2 12-3 0 0 3 0 10-3 17 3-5-4 8-1 4-2 1 1 14-3 5-2-9 2 14 2-2-4 12 5 7-5 6 5 6-5 9 0-6 2 1-1 9 0 10 1 2 0 5-2 9 2 1-1 4 0 5 2 7 2 6-3 7 1 6-2-1 1 17 2 0-2-4 0 19-2-2 5 1-1 8-2 6 3 3-2 9-2 1 5 15-2-1 2 8-3 6 5-5-2 5-5 2 6 5-3 21 0-2 5 0-5 3 5 3 1 12-1 13-1-2 1-4 2 5-3 19 5 2-4-3-1 2 2 5-1 7 0 17 1-9 3 15 0 6-1 2 1 4 2 1-4 3 4 13 1-2-3 11 2 3 2 8-2-6-1 19 3 1-2 7 3-5 0 17 2 0-2-3 4 13-1 6 0 3 2 2-1 16-1 5-2-2 3 8 1-2 2 8-3 10 3 7-2 6 7-6-3-1-4 11 6 7-2 11-3 1 2 6 3-3-3 12 2-2-1 15 3-3 1 8-4 4 3 1-2 15 3 9-1-4 3 0 0 13 0 5 1 7-2 8 0 7 3 7 0 10-3-6 2 10 2 5-3-1 4 13 1-3-5 12 2-4 0 5 3 14-2 3 1-3 1 13 1-1 2 11-2 1 1-1 0 15-2-2 6 12-4 0 1 8-1 12 2-2 4 7-2 0 0 10 0-2 0 3-1 14 1-2 6 15-2 2-5-3 5 6-2 16 4-3-2 12 0 7-1 5 0-1 5 13-3 5-2 0 5 4 0 8 1-5-1 10 3 4 1 13-3 3 0 7 2 1-1 10 0 2 0 5 4 1-2 7-3 1 0 1 3 4 1 12-4 3 5 1 0 12 0 1 3 11-4 9 2-8 0 2-4 11 5 5-3 1 1 5 0 12 1 8 2-9-1 14 3 4-2 12-1-2 2 0-2 11-3-2 4 12-2-4 2 3 1 16-5-10 7 15-3-1 0 8-1 7 3 4-2 9 0-3-4 12 5 0-2 0-2 8 1 9-1 2 0 15 2-6-4 3-1 20-1-5 2 9-5 0 0 17 1-2-3 7-3-5 0 8 1 16-3 10-1-8-4 6 4 13-6 6 2-7-3 9 2 16-3 9-1-11 1 17-4-2-6 9 0-8-2 3-2 8 1 24-3-25-3 36-1-8-2 0 0 16-4-16 4 11-5 2 3 26-9-16-5 16 8-15-10 7 7 24-6 11-7 1-5 1 13-9-15 14-5 10 6-14-4 10 2 30 4 1 1 10-13-10-3 35-4-41 1 14-4 13-6 14-2-1 6-23 0 15-17 17 1-27 2 56-5-12-1-19 1-2-10 7-11 25-4 5 5-21-17-6 15 27-20 17 4-16 4 33-8-43-13 37-4-37 10 11-7 23-9-2-2 26-17-4 3 0-11-6 3 0 2 17-8 9 1-11-9-10-3 2 1-8 3-6-26 43 4-6-7 5-6 25-3-49 12 15-18 2-5 32 3-40-9 56-15 2 6-49 9 54-11-39-8 4 8 12-17 16 16-15-21 32-4 22 5-1-12-13 6 11-23-49 3 26 6 27 11 11-34 13 1 14 0-28 11 20-28 0 9-12-7-1-3 19 2-21-15 16 3-12-14 2 2 27 2 12-9-35-7 30 1-8-4 29-6-4 6 4 4 11-20-36 1 40-5 0-12-28 6 20-1 11-5 14-16-33-8 25-4-5 5 5-8 2 7 5-10-28 9 31-12 21-9-48-6 16 15 8-28-10-4-4 6 19-10-16 10 31-8 27-4-31-9-3 3-14-17 60 11-30-7-28-3 37-6 12 7-24-37-1 14 46 5-19-15 5-8-3 4 38 7-32-28 4 1 27 6 3-15 20 10 11-13-48-5 6-12-12 4 27-10 14-1 14 3 8-5-12 0-21-11 49-3-24-7-22 5 37 2-20-15 13-1 46-12-57 8 29-14 24-1-44-11 9 3 10-1 16-2-15-1 22-6-17-12 44 12-46-8 3-18 40-6 32-8-52-1 30 5 22-2-6 4 29-22-72 16 61-17-4 3 1-23-42 5 14-8 18 8-11-17 22-9-34 5 63-6-24-12 4 16-16-13 14-4 8-3 18-12 13 4 15-17-56-2 38 0 7 9-11-11 15-12-12-4-13-5 29 1-2-10-8 0-8 2 42-14-29-1 15-5-26-7-14-3 45-1-10 2-20-7-18-11 24-9-18-6 14 3 21-1-5 2 39-28-10 17-11-3 40-23-26 8-21-4-4-5-9-9 2-16 27-4 8 5-14-10-1-16-8 18 6 4 17-19-1-3-15-2 42-1 23-25-46 14 13-10-19-21 33 9-12-5 22-2-27-11 19 5-48-13 15-11 41 1-22-13-33-2 30-7 12 0-8-9 39-4-35-7-29 5 32-4-17-11 18 1 9-2 23-21-26 10-26-2 50-14-24 2-3-15 24 12-34-21 47 8-9-14 21 0-6-3-2-5-19-17 16-8 3 3-8 2-11 2-3-24-16 14 51 0-36-7 23-13 15 4-9-9-12-19 26 0 16-5-56 3 5-17 35 8 11-4-22-11 10 9 18-20-34 4 31-12 13-3-10 2-6-21-44 2 28 5-21-18 48-6-50 4 10-19 12 14 26-11 2-6-33 0 28-7 25 2 0-21-6-1 8 9-32-20-4-2 41-6-40 13 52-24-3 3-31 0 46-19-23 5-9-4-12 1 33-13-16-8 52-6-36 6 10-5-6-2 37 0-33-13-12 5 35-18-11-3 27-2-9 0 27-10-19 2 28-16-31 9 53-2-33-17 6 9 26-13-4 6-4-18-7 5 27 1-23-8 9-2 11 4 30-20-13-3-27 4 39-3 14-8-8-4 3-19-26 14 8-6 50-9-47 7 5-25-9 3 35 16 18-28-26 17 12-7 8-8-43 2 66-16-9 9-7-18 13 15-13-21 4-5-24-2 5 11 8-7 7-17 37-9-26-4 31 20-43-6 7 1 26-15-21-7-1-4 19 7-14 2 30-15-4-11 6-2 31-1 11 6-28-7-3 3 23-5-7-13 22 6-8 0-6-18 15 16 6-9 24-21-29 8 5 1 14-10-3-1-14-14 5 4 4 12 26-8-31-16 14 3 51 9-26-25-21-1 57 10-1-15-5 0-4-7 28 6-20-11-17 20 9-18 29 3-4-11-9 0 23 4-10-10 18 4 7-15-17-3-10 7 38-8 17-10-32 0 14-9-18 0-5 20 48-10 8-6 2-5-33-8 40-7-35" stroke="#D95319" stroke-width="55.0" fill="none" stroke-linejoin="round" stroke-linecap="round"/></g>
<g clip-path="url(#cd)"><path transform="scale(.1)" d="M11272 14445l-28 40 68 46-33-54 19-53-43 29 51-64 33 23-43-99 44 75-46-85 50 82 19 3-7-21-6-34 2 69 9 34-15-70 38-13 1-15-11-29-5 82 33 39-3-132-11 45 33-8-31 19 50 28-17-71 14 67-11 54 6 41 13-67 18-66 7-9 19 25 2-62 5 65-17 69 43-68-11-12-9 77 29-18 7-110-11 53 12 26 37 26-21-29 8-128-5 109-10-22 25 88-8-104 13-2-19 49 17-23-7-17-3-42 48 122-34-88 16-23 10 111 1-93 4 32 10 11 24-43-36-27 24 69 18-42-19-70 13 105-3-78 22 118-45-27 30-72-6 91 37-83-31 69 25-10 1-14 13-105-28 170 45-88-29 102 24-43 5-54-23-44 1 110 48-53 15-63-46 60 7 33 28 17-4-34 36-9-27-66 38 50-41-3 12-34-31-101 50 103-1-40 9 56 11 1 4 48-11-81 23-79 8 152-13-92 16 4 7 73 15-100-31-11 34 40 14-69-42 169 51-81-7 32 5-102-13 82 37 1-28-61 17-6-10 105 17-102 3 101 27 53 17-45-6-104-4-35 37 112-63-18 58-44-12-24-10 50 35 15-28 8 14-23 15-22 12 121-19-151 0 42-24 6 33-137 13 68 27 47-37-7 20-13-18 21 8-51 13-18-11 89 19-125-13 51 43 74-2 12 9-33-30 35 46-51-9-45 13 46-36-28 51 0 16 53 20 11-19-115 10 27-37-3 16 28 23 88-13 7 16-104-5 26 20-18-22-57 30 49 2-32-27 45 7 30 10-44 17 28 40-39-6-25 10 90-51 20 11-40 33 23-23-139 11 66 25 104 18-61-15-70 20 76-3 18-1-111 9-52 16 129 18-6-37-96 32 111-10-119 7 137 37-143-15 150-7-86 33-9-27-19 13-15 48 91-56-94 41 64 12-19-10-21 10 34-5 10 24-51 28 44-51-111 12 114 31 40 25-97-28 96 5-33 24-93 15 98 24-27-54 37 13-21 17-90 2 128 31-18-12-20-1-57 8 0-32-7 52 58 5-36-2 19 3 17 11-100 14 89-17-50-23-20 50 22 1 40 3-3-30-37 26-6 51-53-58 20 11 70-6-70 26-23 18-25 34 108-47-58 9 34 1-95-18 105 20-75 27-3-6-1-3-52 19 78-25-66 38 51-24 28 15-50-13-4-14-57 15 34 5 49-15-85-2 33 23-66 12 124-2-50-4-37 39 53-16 38 7-24-13-54-27-27 49 7 29 2-1-13 9 30-22 83 7-170-13 133 5-31 47-72-25 88 34-55-18-5 37 13-33-49 64 29-49-5 9 54 30 53-9-144-12 156 12-77 15-49-7 17-2 22 25 38 28 31-9-17-23-68 26-13-24 125 39-89 1-35 17 71-6-59-2-47 11 82 11-55 12 52-19 29 10-6 5-77 30-51 11 13-7 84-19-64 13-10 24 56 4 24-23-154-4 55 51 27-40-70 37 24-12-33 18 52 18-5-25-76 20 97 3-97-3 36 35 9 14-52-15 62 24-93-45 75 7-76 22 99 1 13 29-93-52 45 3-8 10 109 7-107-1 102 45-98 8 23-50-69 17 112 6 11 19-68-9-55 5 119 18-97-33 128 19-6 15-41 6-56 21 65-43 17-5 1 39-92 10 22-7 13-19 56 41 59 5-184-36 21 11 132-12-19 23-29 12-97 9-5-4 116-6-157 52 127-34-61 11 6 10 84 27 18-3-144 17 53-20-39 29 108-47-74 19-31 16-19 10 47 30-53 23-6-33-9 19 57 4 82 5-190 34 86 5 43-29-109-9-13 13 21 38 121-15-24 45-39-26-66 5 77 30-59-44 28 34 34 6-102 9 23-19 44-10 12 2-32 29-52-20 65 25-7 25-79-31 14-9 56 17-41-6 42 41-23 29-9-52 71 11 6 20-62 21-83-33 6 23 71 0-36-2-47 15 59-5-98 15 117-5 74 46-177-18 167 17-67-1-43 8 31-29 3 16 1-22-3 26-54 24 60 12-46 0 35-17 10-34-93 23 25 4 90 32-68-53-28 34-15-15 15 24 66-16-49 2-20 27-55-19 20 51 60-28-62 7 102 22-95 30 96-19-113-41 90 69 14-51-50 16-11 0 5 24 6-27 54 7-152 22 83 19-115-29 168 27-11-4-130 36 61 16 39 2-71-15 9 7 6-5-6 33 72-20-17 19-24 14-85-5 38-29 86 20-146-3-23 30 92 2-2-17 46 33-43-18-37 17 94 0-66-41-28 54 23 23 35-16 25 1-61 29 58-56-151 43 108-23-104 53 12-14 86-16-98 43-46-4 112 7-80-18-29 7 7 34 61-7 7 2-4 8-4-5 36 34-80-20-17 11-66 29 36-44 50 30-57 19 24 16 25-57-49 29-17 39 77-28-70 13-24-16-10 18 0-10 24 3-9 58 36-30 28 5-121 13 13 7 69-34 18 29-20 0-7 19-80-47-4 19 39 34 67-10-71-32 7 42-19-2 35 21-42-20-5-36-6 46 24-1 76 23-22-49 32 27-49 27 19-24 21-6-62 15-21 2-31-37 9 7 29 24 82-5 0-6-134 10 97 5 15 20-71-20-16 27-53-28 105 20-19 12-15-37 27 33-104 14-8 3-15-48 71 24-31 4-68-10 97 34-133-28 66 22 49 6-18-22 6 3-103 11-52 3 65-1-4 6-57 25 39-22 74 10-65 12-53-21 108-17-152 40 72-48-87 39-11 10 27-4 7-19 8 28-26 16 40-18-11 35 39-29-25 18 69-37 9 57-160-34 64-21 22 18 11 43-30-40-91 32 83-4-20 7 40-17 19-3-112 14 63 5 58-18-35 19-47 0 85-24-98 15 31 8-72 12 58-26 5-1 17 24-16-15-46 18-6 3 39-7-103 4 56-17-65 17 90-13-138 4 85-11 3 17-87-8 34 10-30-19 30 19 9 10-28 5-16-26-30 34 65-2-10-14-47-10 9 24-41-16 42 9-74-1 67-1-61 5 36-10-16 16-58-3 75-7-11 16-20-3-4-19-26 29 9-3-10-9 20-4-50 12 9-4-6-6 16 3-17 2-32 7 54-8-46 8 14-9-11 0-8 5 1 7-3-2-2-8 1 7-15-3-27 0 17 6-6 3-3-2-4 2 3 4-21-8 8 10 4-2-14-5-25-3 14 9 13-2-23-1 9 0-41 11 26-6-16 2-16-12-7 8 15 6 3-1-30 4-9-7-1 3 20-1 3 6-12-3-1 2-18-1 6-1-10-1-10 6 7-1 5-7-20 12-9-3-6 0-15 10 3-2-31-13 2 13 17-5-26-4-3 1 17-5-9 6-21-3 1-3 12 11-19-1-6 5-18-12 1 1 0 13-6-4 0-2-8-3-24 2 25-1-16 5-24-8 16-2-29 2-12 6 5-7-1-1-20 12 1-12 25 9-21 0-14-7 3 5 4 7-8-6-6 3-15 6-11-5 21-3-38 6 3-8 10 5-23 10 38-10-54 4 26 3-32-2-8-1 27 1-27 7-20-2 20-3-11-3-19-6 2 7 5 9-17-9 24 4-32 2 13-8-12 1-9 11-9-3 0 0-9-4-12 7 11-1 1-7-5 5 8-2-34-1 14 8-16-1 0-3-11-4 4-4 8 7-23 6 6 1-8 0-28-3-5 4 22 1-4-5-23 5-9-3 6 7 10-10-39 3 9-4-2 7 4-1-27 0 14-1-2 11 1-13-26 10 0 2 3 4-16-5-18 2 2 1 3 6-1-11 16 14-33-12-3-1-25 5 37-5-21 4-4 0-25 2 19 13 13-2-17 3 3-7-24-9 3 8 3 0-13-7-14 10 17-1-37-2 34 7-37 3 14-2-27 2-20 1 16 1 4 2 0-1-4-5-7 7-39-4 1-4 14 15-18-10 11 5-28-2-1 6-6 1 15-11-24 7-8 6 24-6-11 3-28 7 2 2-12-4 16 4-9 2-30-1 25 1 0-2-26 0-3-1-11 9-4-3 8 0 8-1-14 8-14-12 23 10-39 0 26 9-6-10-19 4 2 4-19-1-10-10 14 9 15 2-30 7 9 2-30-5 21-6-30 3-4 2-6 5 7 0 21-1-41-1 31-3-28 4-2-1-5 4-7-4 0 8 7-5-2 2-16 3-3 2-22-3-11-2 17 3 13-2-18 5-15 6 4-6-12 1 3 2-14 4-6-1-12 7 15-3-26-11 22 4-7 10-24-10-22 4 13-5 2 4 14-3-47 2 15 7-34-9 23-2-5 7-14 1-21-4 16 12-1-15-6 4-37 4 21 2-14-2 16 1-37-1 4-1-14 3 0 0-18 3 15-8-19 8 4-7 12 2-34 3 11 4-14-6 0-2-23 6 25-9-30 15 19-10-26 6 6-9 7 6-29-11 15 11-26 0 13 8-1-17-2 8 0 2-38 2-7 2 3-7 10 10 4-6-35-3 21 2-18-4-17 7 13-1 7-8-19 4-13-3-3 3-3-2-1 8 16-7-30 3 26 5-26-2-5 7-11-15-9 17-4-15-16 9 10-5 0 5-5-9-9 6-23 1 32-2-13 9-3-4-32-3 17 5-18-5-1 4-3 3-13-1 26-1-29 0 4 2-3 1-2-1-38-2 32-2-9 6-17-4-15 9-17-2 20 3-4-9 4 0-23 10-6-5 12 0-20-1 1 3-6 2 9 0-21-3-3 5-4 0-19-3 2 4 3 9-4-7-18-2-7 7 6 2-29-10 12 8-1-1-18 0 24 2-34-2-10 2 14-2-2 2-22 1-4 8 14-12-9 4-21-3 21 12-37 0 7-1 20-5-27 5 8 0-25 2 3 1 9-6-3 8-33-1-3 3-3-3 27 2-42-3 19 6-11-5 1 4-19-2 21 3-13 2-28 5 1 1-9-3 2-1-17 4-5 4 1-6-8 3 23 5-18 3 1 4-23-5-10-7-1 3 4-1-16 5-7-5-5 4 7 5-2 4-12-10 18 4-44 5 1-1 8-1-14-2 1 11 0-4 4 2-10-7-24 8 24 0-18-1 7 1-18 2-26-2 43-2-41-6 11 4 2 1-23-2 3 3-4-2-17 3 1 4 28-4-42 12-2-1 7-4-15 2 10-1 0 3-25-13-5 5-14 4 6-4 1 9 8-12-13 13-21 2 9-12 11 13-32 4-7-6 15-6-7 6-11 1 5-5-32 9 23-1-15 6-14-3-1-10 8 0-3 7-22 2-19 0 12-3 28 11-36-5-39-3 7 6 1 2-8 4 4-4-21 3 6-6-8 3-2-8 2 16-20-13-13 2 5 0-8 3 5-1 12 9-17-2-14 2-9-7 7 1-23 4-7 2 23-1-13-3 9-4-25 8 2-1-24 9 11 1-36-3 44 1-24 3 20-6-32 5 22 0-9 4-31-1-4-1 17 12-6-10-42 5 27 3-7-7 1 7-19-3-13 3 21 6-30-4-3-5-13 8 17-1-2-2-44-1 14 1-15 8 4-12-1 17-17-6 3 6 14-4-11-7 4 12-34-4 1-8-9 14 8-5 4-3-10 11-47-6 58 7-42-3-6-6-4 10-3-10 4 0 6 3 13-2-57 6 45 10-32-9-31 22 30 4 2-19-15 4-2 8-16-11-16 8 19 8-44 8 27-23 25 7-24 17 10 8-55 1 17-15 66-11-30 5-9 15-54 19 60-7-60-7 2 21 24-23 6-3-44 18-4 30-1-36 49 17-100 7-5-5 68 5-22 24-57-24-4 6-26 0 26 23 29 20-15-19-16 8 8 9-23-1-26-3 37 11 30-5-23 9-17 18 36 24 20-21-81 6 57-8-100 14 77 15-78-18-18 10 107 25 65 5-164-31-20 44 79-11-52 8 58-13 63-4-133 3-1-2 45 4 2 42 6-15-4-13-20-4 28 32-73 24 43 5 7-19 21 12 34 14-29-22-122 15 24 13 77-10-90-12 41 23 13 7-12 25 17-12-87-12 109 17-15 27 17-22 4 36-43-58 1 23-37 39-65-25 37 24 23-25 78 3-92 2 18 51 63-10-101 12 36-16 48-19-87 27-12-5 66 8-109-21 58 7-5 9 60-13 122 28-266 15 22-37 8 36-30 4 106-24-147 21 46 20-64-1 148 5-124 14-13-29 135 35-135 25 90-38 27 19-20 6-114-40 85 29-109 1 124 24-92-6-23 46 34-26 34 18 42-19-61 19-31-30-12 11 83 10-138 12 22 13-29 0 81 40-83-28 101 2-84-22 105 29-5 36-50-3-59-18 74-16-44 49 61-26-25 14 1-18-76 19-26-24 3 42 30-10-90 4 99-19-27 26-11-15 56 32 8-48-71 74-12-25 31 6-14 28 108-43-84 17 74 20-106 2 120 24-112-31 58 22-94-18 95 1-83 25 23 18 50-37-57 42 53-30 63 33-101-8 68 19-77-27 96 58-57-17-56 19 49-22-65-28 20 23-15 0 67 21-64 12 57-7-77 51 35-7 48-18-74-5-18-9 84 18-9 13-130 3 120 23-98-35-4 0 19 24-1-10 7 30-4-29-23 16-29-11-38 24 45 19-29-40-32 42 110-1-89-18 70 34-111-42 48 16 72 46-31-37 43-21-108 63 61-38-24 60-6 2 62-27 41 18-151-12 60-2-38 46 74-19-51-5-18 3 97 36-72-24-106 35 138-8-23-23-10-17-36 60-42-7 68-13-1 37-59-31 54 22 3-15 13 30-32 14-60-21 68 19 71-18-95 35-10 4 3 21-2-30 9 24 44-22-70-15 20 6-32 58-23-41 34 10 7 2 33-16-70 41 117-35-61-3-15 45 36 14-56-22 87-4-169 35-21-16 170 27-36-26-106 40 24-18 33 28-81 1 154 11-88-12-32-6-20 26 68-3-11 10 1 16-61-1 99-21-76 40 20-2 0-20-68 7 106-11-92 6 16 6 52 33-8 21-81-38-22 32 32 15 111 7-15-6 3-35-104 42 110 19-8-52-50 26-59 20 90-8 39 1-53 31-65-14 123-5-112 21 86-14-32 6-47 28-34-37 30-10 36 55-51-42 53 21-61 44-7-21 37 0 44-11-55 17 15-1-62 29 49 6-40-8-12-2 167-10-55 10-102 3 71 33-80 3-19 15 13-31 42 38-22-17 61 22-120-14 99 0-84 10 10 18-1 8 15 0-5-7 15 24-45 3 62-18 10 11-5 33-18 0-32 14-62-32 12 17 4-2 25-2-16-9 10 18-60-9 18-1-27 39 41 17 9-46-63 8 4 54 30-25 95 10-41 17-5 8 6-19-98-1 162 1-55 47 12-31 4-6-117 34 22-9 90-25-47 25-78 30 105-4-26-37 46 21-62 23-11 37-41-22 40-12 33 21 25 4-149 9 25 6-37-7 73 15 31-10-8 37 35-3-25 12-99 0 96 9-116-15 73 31 33 7-21 5-38-9 43-31 105 53-76-3-50 4-102-30 23 20 55-11-39 15 7 8 44-8 20-22-62 27 0-3 61 39-61-6 44-37-17-3 47 14-78 15-34-3 104 32-49-3 8 7-24-28 73 29-116-8 138 38-167 7 67 5 13-11 28 8 27 18 23-28-52 24-143 9 187 30-123 1 98-8-89-25 70 46-15 0-30-9 57-7-90 40 92 3-108 25 119 18 6-35-116 14 1-29 152 51-86-21-81 31 11 7 59-5-16-12 34 25-42-2 72 4-38 18 34-6-27 12-51-5 54-7-33 21 36-9-151-13 24 64 39-39-42-8 44 24 12 27 27 2-55-6 73-8-16 5-49 15 35 19-60-54-24 22-2 21-54 25 52 6 76-4-69-2-71 9 157 2-57 6-66-33 73 64 47-46-131 19 88 1 32 8 17 10-118 14 49-12-23-10 48 43-19-10 16-14-82 7 115 6-55-19-18 29-62 50 113-37-87 28-62-32 109 1 36 76-93-30 53 16-27 11-29 10 45-31 79-1 9 20-110 15 66 30-75-9-49-9 55 15 15 38-47-25 60-9-46 43 0 14-17-17 60 2-94-1-36 38 92 6-82-29 50-17 78 52-71-29 3 49 8-18-2 15-12-17-20 21-2-11-41 42 66-23 91 6-183 11 62-40 42 5 70 43-130-7 20 7 108 30-39-24-24 11-150-33 157 35-43-13 57 23-19 8-66-4-42-5 61 20-18-23-22 33 95 10 19-42-52-13-51 27 111 25-2-27-95-9 65 8-6 31-65-4 40 13 37-30-130 51 127-22-7 36-82-6 135-33-137 67 52 2 43-14-46-17 15 25 35 18-100-34 10 19 72 14-75-7 27 47 84-19-117 5 83 26-141-44 70 4-45 21-29 17 57-35 4 25 68-10-38 0-75-1 145 49-41-20-129 26 26 10 66-37-8 26-161-6 123 31-47-41 7 66 48 14-10-64-15 14-97 49 164-9-91 15-20-27 65 34-8-1 52 1-134-17 25-3-48 5 66 11 28 6 43 24-78-3 75 24-61 10-33-19-27-6 152 1-66-5 18 45-54-35-36 0 45-19 46 21-55 26 89 13-110 1 53-7 27-21-115 22 69 33 19-17-23-11-72 47 120-43-73 19-1 43 53-12-72 8 4-14 99 17-42 36-52-23 92-8-131 22 5 19 9 3 36-12-14 2-38 37 18 10 19-9 28-21-14 41-68-18 53 32 57-25-6 34-135-1 110 6 7 29-20-31-57 43-29-23-42 27 161-14 24-21 5 40-27-51 35 4-57-17-12 33 133-42-64 17 34 10 2-33-62 30 52-83 68 55-122 0 108-18-5-12-28 20-92-3 99-46-11-11 28 28-109 8 92-31 16-5-50-5 61-14-42-2-20-2 52-30 6 26 47-12-166-24 94 6-35 0 55-14-33-5-83-12 92 33-13-60 83 17 8 11-35-64-36 26-40 2 9-49-14 0 118 23-97-9 46 17 20-2 12 3-83-10 49-38-24 33 57-29 16-17-104 18-20 1 52 24-2-73 42 48 63 3-25 0-120-15 120-15 24-25-16 17 29-17-44 23-80-41-11 27 116-25-13 10-52 2 5-1 123-14-108-28 40 0-85 18 30 4 32-20 29 3 22-9-115-15 68-14 40 12 19-21-3 6 95-32-107 13 71-14-118-6 67-2-65-7 18-22-119 18 131 13-20-42-7 34 76-39-57-16-67 31-27-36-15 26 103-33-9 7-13 11 35-13-46 7 77-1-34-18 20 2-100-42-1 14 68-40 7 22-19 21-45-28 58 9-33-31 69-5-142-13 31 31 13-15 131-24-137-26-20 43-8-5 102-33-43-6-47 15 19 14 15-8 38-33-3 15-1-18-10 14-1-20-40 6 102-22-7 10-31-9 47 2-70-40 61 34 29 5 9-6 69 14-151-30 85-13-2 1-75-27 47 30-36-10 5-7 1 37 18-50 60 25-28-25-64-20 2 20 99 5-91 1 30-20-12-9-2-39-7 34 21-3-25-3 4-3 112-14-54 19 60-31-23 8 60-6-113-23 107 29-79-16 52-26 0 18-29 22-75 0 87-30 10-47-89-7 104 35-100-4 136 1-71-74 53 40-51 19 13-42-75 25 31-17 124-38-109 8-53-32 70 0 87 25-21 18-33-25-54-15 105 7-115 13-31-34 118 28 35-65-109 33 35 14 49-20-45 13 96-67-75 32-45-10 7 21 83-14-64-1-35-23 123-2-128-22-25 15 128 13 29-35-153-5 51 18-36 2 37-7 117-3-189-20 168-1-61 11 25-42-44 11 67-29-38 22-78 7 13-7 48-73 91 34-23-5-79 26-48-27 87 11 32-48-29 46 11-49 51 3-135 14 38 7 11-13 0 23 93-30-8-7-116-36 38 35 51-7 56-31-32 33-73-23 19 2 86 1-69-1 12 6 81-42 34 31-146-16 88 15-68-10 116-7-4 17-21-18-82-41-56 14 103-1 101-15-145-12-26 47-11-42 46 27 68-35-99 13 61 9 3-36-34-30 22-13 15 18 74 5-142-31 43 36 25-71 62 66-114-15 141-5-33-12-61-11 72 16 35-38-110 15 43 7 35-16-136-24 42 23 101-43-103-3 96 19-109-37 18 40-34-11 66 6 73 10-14-26-94 2 123-9-29 24-9 0-59-18 58-7-34-24 54-1-62 22-54-32 3-8 16 13-80-2 192-6-103-6 103 4-17-20-60-24 91-15-75 37-33-10-18-26 107-17 21 52-20-41-6-16-19-6 4 36 41-14-20-52-42 33 33-10-64-11 76 0 79 17-42-13 16-18-88 6-21-37 42-16 127 66-14-69-138 14 88 47-35-66 62-9-78 24 61-9-2-2-22-28-16 18 138-11-78-12 27 23 77 14-98-17-23-1 61-40-90 1 122 12-65-1 4-21-24-2 42 19-21-23-30-1 45-26 38 16-117 8 32-3 75 18-37-60 35 29 31-6-76-10 135-8-116 7-7-51-21 43 76-41 32 44-25-33 21-10 61 7-82 10-42-48 21-21 34 16-96 5 64 18 23-54-103-14 67 11-46 17 82 1-109-8 124 1-77-42-64 31 109-15 37-8-145-18 172 31-10-24 2-41-89-8 55 6-31 36-30-42-11 2 47 13-15 6-17-48 52 40-85-44 55 15-40 7-19-37 41-9-46-11 7 32 136-43-40 10-49-25 85 31 22 1-132-19 76 12-35-44-27-15-8 15 97 13-39 4-34-32 131 50-92-50 43 14-13-53-71 39 87-35 67-4-12-2-5 17-113 3 133-10-111-21 28-3-9-6 10-9 53-8-43 17 77 6-89-27-28 12 134-31-7 9-88-39 53 24-110-9 106-2 49 1-120-13-42 9 46 7 86-7 60-18-79-17 68-2-133 2 59-33 55 17-17-24-19 33 21 4 76-12-32-36-139-16 62 28 25-16 21-42 5 34-96-8 80-11-21 24-49-8 167-17-147 30 4-53 35 10 40-8-12 12-19-43-15 25-44-12 86 12-19 5-35-23 5-21 41 15-24 27 45-60-1 18-34-20 2 6-53-41 45 78-40-46 45-20 57 2-65-12 2 7 38-6 39-46 27-9-74 12-39 3 62 8-49-8 126-32-135 44 115-18-3-40-82 2 103 29-163-21 140 26-103-53 138 15-103-17 104-25-104 22 39-15-12 25 25-5 42-13-42-37-93 21 5-45 12 24 46-26-3 33 73-51-38 49-16 2-30-42 42 4-17 10-69-10 76 10-84 10 27-24 9 10 2 6 112-41-121-7 93-7 22 48-21-21-5 9-106-51 25 40 42-18 62-30 16-9-63 10-10 9 120 9-61-34 55 51-69-33 61 9-139-21 78 0-21 17 9-8 72-23 60 10-103-38-38-1 41 24-30-39 88 46 0-42-87 12-35-19 119 41-11-33-81 17 185 7-82-25 52-4-129-15 36 29 35-28-42 1 15 14 158 16 31-18-131-15-48 19 37-9 110-32-111 5 24 22-22-46 143 11-89 42 92-39 20-29-134 55-48-21 77 24 67-44-8 13 87 27-149-17 139 43-26-78 24 10-50 35 96-14-131-14 29-11 108 7-73 8 38-1 52-29-56 47-25-42 34 4-32 16 33-8-56 15-43-20 136 16-95 1 120 7-96 1 106-26-82 12 87-18-28 12-23 2 81-8-71 4 32-4 6 16-47-38 80 19-79 6 100-18-98-3 8 3 119-17-58 32 22-24-35-17 5 25 59-1-59 8 68-5 5-6 13-1-83-16 65 17-50-11 18 11 5-1-10-33-14 30 72-14-46-9 59 14-32 11 32-6 22-11 7 13-8-3-18-10-33 0 84-5-38 4 42 0-41-6 46 21 20-17-42 6 35-6-4-8 28 19-54-12 38-16 1 26-9-17 36-7 6 18-40-12 47 2-16 1-2-9-1 5 42-2-18-4 10 4-12-8 25 8 13-11-20 9 36-4 5 1 5-2-24-5 17 7 6 1 25-5-34-1 40-2-8 1 5-5-5 9 27-10-9 6 4 3 19-11-20 0 27 4-19-2 1 6 11 1 7-4 17-9 9 8-3-4 13 5-7-9-2-1 12 11 24-11-25 0 30 7-22-4 20-7-3 2 38 2-4-5 8 5-15-8 8 2 42 2-16-11-5 15-2-13 19 0-6 8 20-2-16-5 18 3-1 2-6-8 17-5-6 6 15 0 5-1-6-1 30-4-25-5 13 5 11 6 2 4 25-15-3 7-3 3-20 6 24-7 12-6 19-3-1 8-11-4 17 6 5-9 12 2-9-5 14 10-10-1 13 2-10 1 36-4-15 10 13-12 27 3-19-10 2 10 32 1-34-8 8-1 12 6 22-3-4 7-9-10 5 5 23-7-4 6-19-8 12 6 16 1 22 2-25 0 7-2 8-8 28 1-10 7 20-4 9 3 1-2-14-2-4 3 40-6-18 10-1-4 11-7-4 3 9 8-21 0 42-11 3 0 12 1-7-3 30 5-20-7 19 12 6-4 14 1-30-2 4-1 4 4 14-7 2 9 25-13-8 2-4-3 29 3 4 8 20-6-8 3-19-1 25 2-2 0 7 1 5-7 20 3-26 2 42-7-30 11 36-2-16 1-2 3 13-9-7 8 26-5-3-2 0-1-4 4 22 3 1-11 3 6-8-5 10 6 15-2 20 0-25 5 17-1 15-11-22 1 10 6 23-5-17 0 41-4 1-1-9 12-9-8 18 8 24-10-25 10 31-5-14-2 26 2-14-2 15 8-21-5 15-4 23 3-2-2 4 8 21 1-2-10-15 0 17-2 12 8-1-4-2 0-1 2 3 0 11-4 26 3-20 1 15-8 10-4-19 11 33-2 6 2-15-9 17 1 5 3-11-4 17-1-3 3-1 4 19-6 13 8-16-4 28-3-26 7 17-8 2 4 4 2 1-1 3-8 24-1-13 8 7-5 7-2-6 6 28-9 11 3-3-1-22 6 34 1-3 1-4-10 11 11-12-8 19 13 14-11 9-10-22 8 26 2-3 2 10 3 35-10-32 3 43-5-22 6-3-8 34 10 2-1-5-4 14-3 0 2 12 0 16 0-7-6-5 5 13-4 16 4 3-2-17-9 21 16-15-2 18-6 2-2-7 6 32 0-14-4-2 1 4 6 21-5-15 3 29-1-3 2 3 0 4-5 10-1 5 5 17-5-13 8-19-11 13 4 15-5 28 0-5 3-7-10-8 9 21-5 14 11-16-2 22-8-9 2-8-2 38-3-21 5-2-11 45 5-35 0 19-7 15 5-15-10 4 10 34-5 1-5-11 9 18-14 5 6-7-3 5 2-11 3 15-1 9-7 10-2 9 5 13 3 22 1-39-4 22-4 0-4 19 2-8-3-5 4 42 3 3-2-4-1-18-2 37-2-17 6 15-6 4 8-5-11-6 2 31-3 9 16 20-18-6 4-14-4 12 4-12 1 12-5 41 8-12-12-1 9-14-4 42-2-19-2 26-3-19 8-4-11 36 16 9-8-13 0-8-5 24-2-22 5 22-5 29 7-16-11 8 2 8-5 24 3-16 2-11 0 27-2 0 0 4 3 8 0 15-3-12 4 13 0-7-3-6 1 38-12-20 8 36 2-34 2 9 2 30-9-1 7-7-7 33 4-28 0 34-6-14 7 31-7-5 0-22 0 14 1 29-2-34 6 15-4 24 9-7-9 20-5-24-7 27 1-25 0 20 6 13 0 10 2-10-5 21-5 6 2-20 2 19 4 18-9 4-3-8-2-17 15 33-7-20-4 38-1-20-5 31 9-21 1 12-3-10-10 25 1-22 14 45-9 6-4-23 0 16-5 10-1 6-6 9 5-13 5 9-7 20 4 5 8 9-12-12 2 17-2-16 10 40-2-28-7 31 3-3-2 29-1-16 3 12-3 8-1 2 2-6-1-20 2 38 0-15-7 24-9-12 12-3-3 35-1-24-1 18-6-12 1 33 6-3-1-4-4-8-5 41 1-26-5 30-3-24 1 2 3 22 2 8 4 7 1-14 0 21-9-20-2 42 10-22-10-7 7 28-5 7 0 19-4-28 12 38 4-26-20 32 12 3-4 14-5-11 8 1 2 15 5 15-5-29 1 9-2 9-7 19 2-21 5 8 4 7-7 4 2 16 1 5 4-2-8 9 0 15-2 0 1 20 4-24-12 21 11 8-9-1 1-14 2 31 2-14-2 20 2 16-11-13-3 21 10 0-8-15-7 3 10 17 1 31 0 4-5-2-2-12 0 3 1 6 5 34-5 6 0-20 1 15 2 7 1 15-11-17 5 5-3 9 6-3-5-14-3 28 11-10-9 7-5 24 7-24 2 6-7 40 3-28 0 7 1 15 0 15-6 15 0-18 1 21 1 5-8 16-2 18-5-52 6 30 6-8 0 10-1 34-10-5-6 26-3 0 14 12-23 17 10-21 9-38-13 59-3 2 4-28 15 6-8 61 0 6-11-42-2 40-11-9 0 7 14-1 8 13-11-24-15 71-7-41 12 105-2-96-29-18 10 3 23 80-6-6-16-71 7 98-13-33 3-55 7 75-24 43 13 25 11-96-16-35 19 4-18 28-2 41-16-33 26 21 0 20-6 18-14-14 13 22-12 17 36 14-39-49-3 57-15-20 18-69-19 124-4-73 12 24-21 4 32 0-12 20 2-72-11 108-6 13-22-95 33 113-6-150 3 63 8 64-30-69 27 53-11-43-19-47-38 87 28 0-12-64-3 41-4-7-24-16 33 71-38-80 11 29-2 7-6-70-25 131 42 10-19-56-22 40 23-89-35 153-10-47-3-84 17 127-24-89 5-19-9-41 7 30-30 117 28-112 17 85-36 55-23-58 27-16-9-24-18 8 12 9-23 3 12-22-9 15-11-39-15 92-2 6-10-26 18-36-10 58-8 83-24-7 41-166-16 173-3-115-37 57 18 30-5-62 15-29-10 27-2 21-5 17-17-50-19 50-3 81-8-76 19 57-19-44-14 9 13 67-22-137 8 109-8 14-9-45-26 40 8-60 15-11 4 92 3-48 7 21-53-70 16 29 7 16-36-7 26 43-38-48 7 169 2-41 5-19-21 22 45-67-21-53 0 45-30-12-5-48-4 71 22 87 12-15-2-36-59-43 0 29 52 85-19-124-28 0 6 156-22-50-3 18-5-33 20 11-46-62 33 111-26-80-15 71 2-25 22-34-13 33-16 2-13-9 5 37 17-77-19 72 0 35-25 11 34-24-11-6-3 41 13 53-30-122-6 0-44 39-4-107 43 127-9 11-36-106 34 76 2-103-45 123 8-130-16 184-11-22 39-140-51 108-8-95 18 96-3-99-7 136-13-60-18 118 57-128-30 108 6-59 17-58-22 115-45-66-12 27 38 52-26-64-7 6 8-45-31 105 10-37 31 37-44-58 18 2-1 36-8 68-3-111 4 119 0 20-28-99-16 56 22-9-21-108-15 131-13-16 35-89 0 98-52-40 40 28-24-84-20 81-19-18 15 29 17 4-42 7 9 47-42 26 13-80 19 35-20-36 28-7-68 28 6-23 32-42-19-29-4 63-1-2-37 8 34-45 8 143-47-43 36 17-42-106 25-35 2 104 2 9-22-19-23 5-9-50-8 81 19-36-1-25-13 65 19 16-30-141 28 49-19-60 6 125-44-2 37 50-52 19 16-30-14-96 35 98-9-17-6-55 14-17 6 53-61 1 44 13-28-32-5-2-12-56 27 110-51-52 29 81 10-45-20 46-3-118-10 99-25-31 32 15-29-73 42 68-14 3-23 6-8-5-19 52 24-54-15-6 26 16 13 2-49-90 4 130 14-84 12 82-12-5-14 24-7-59 16-70-7 94-31 5-26-23 1 76 9-35 7 65 3-1-14 26 28-172-58 93 29 19-49 24 13 4 19-87-59 91 18 1-21-38-27 64 33-73-25 5 35 19-42-26 20 7-31-28 13 54 15-50-25 27-9 57-5 2 19 33-41-79-9-24 0 65-1-60-22 140 26-22-15-19 30-32-13 55-27-100 7 27 11-15-26-29-4-7 9 142-10-79-41 36 63-80-29 61-16 64-15-15 7-50 34 74-55 30-16-63 23 65-3-183-13 154 9-64 21-23-35 19-13-13 8 47 19-69-36-2-23 80 35 42-50-164-13 48 0 102 38-36-41-99 54 124-58-98-20 91-2 3 43-16-49-38-6 21 6-99 25 78-23 107 16-152-27 76-10 58 26-129 9 44-32-83-12 179 3-120-17 9-15-10 17 32 3 36-19-58-10 94 18-79-46-36 53 42-52 108 43-131-41 140-7-132-12 67-1-41 11 49-5 71 14-118-15-36-1 72-34-52 24 94-27-13 18 17-18 3-6-52 10-1-10-31 1 30-42-10 22-13 4 77-10-39-20 25 23-46-1 80-15-19-25-8 23-87-29 104-6 56-3-140-14 45-8 12 29 33-8-124-48 104 2-119 34 143-23 10-16-70-3-12 10 129-13-129-7 68-49-41 32 28-8 62 16-18-20-110 10 60-27-27 5 68-17-38 14-31-3-7-14 110 13-34-6-41-23-53-28 174 32-124 1-18 3 4 2-4-37 60 9 29-31-71-3 46 13-21 3-43-34 134 14-111 21 42-10 14 1-67-35 83-12 8 30 45-27-52 28 34-21 53-25-38 17 3-26-69 20 73-16 16 29-79-19 34-31-60 7 11-25 107-3-145-27 48 36 66-48 0 10-54-9 50 2 36 23 27-6 5-15-26 3-88 15 65-12 32-44 80-1-10 4-103 31 55-45-75 8 53-17 118 15-28 9-100-20-4-8 4-25 96-1-43 46-37-9 91-18-80-25-56-25 110 42-133-36 109 5-19 0 36-6-105-40-46 20 45 12 97-59-58 23 74-15 4 10-155-15 139 8-119 2 111-45 16 3-10-16-19 40-15-19-51 11 3 4-11-5 7-7-25-23 4 0 25-5 106-14-21-31-101 49 119-14 62-24-91-13 22 25-13-30 73 33-121-68 92 31-61 26 44-58 9 2-49 43-57-52 35 18 19-45 63 48-13-15 36-39-81 1 72 5-100 10 156-24-85-28 50 28-13-20-28-16-26-12 25 13-31 21-31 13 162-53-8 4-108 4 71-3 25-29-28 9-88 26 122 5-2-49-112 30-24 11 0-36 99 28 67-42-58 35 41 9 6-34-29-13-48 19 48-28-62-26 15 28 63-53-99 6 91-4-108 15 68 7-82 24 86-74 36 12-11-23-72 38 99-39-67-4 70 3-17-6 12-27 21-9-70 15 76-5-48-2 67 16-68 5 62-32-16-25 24 11-40-3-66-33 99 11-14 12-67-31 76-13-66 5 89 42-67-27 46-13 0-1-11 15 23 5-95-13 53-24 61-16-63-4 3-7 7 40 0-27-33-21 39 14-57 5 29-9-70 5 47 9 37-29-61-12 127-11 11 5-8-33-76 17 55 12 20-6-1-53-37 10 42-15-50 8 42-28-44 20-8 12 62-44 15 45-139-5 42-17 37-3-31-20-30-18 136 24-127-16 50 24-70 6 60-26 82-25-133-4-2 23 50 9 121-35-109" stroke="#EDB120" stroke-width="55.0" fill="none" stroke-linejoin="round" stroke-linecap="round"/></g>
<path d="M124.20 615.90v-8.30M124.20 10.30v8.30M255.00 615.90v-8.30M255.00 10.30v8.30M385.80 615.90v-8.30M385.80 10.30v8.30M516.60 615.90v-8.30M516.60 10.30v8.30M647.40 615.90v-8.30M647.40 10.30v8.30M778.20 615.90v-8.30M778.20 10.30v8.30M909.00 615.90v-8.30M909.00 10.30v8.30M124.20 615.90h8.30M909.00 615.90h-8.30M124.20 540.20h8.30M909.00 540.20h-8.30M124.20 464.50h8.30M909.00 464.50h-8.30M124.20 388.80h8.30M909.00 388.80h-8.30M124.20 313.10h8.30M909.00 313.10h-8.30M124.20 237.40h8.30M909.00 237.40h-8.30M124.20 161.70h8.30M909.00 161.70h-8.30M124.20 86.00h8.30M909.00 86.00h-8.30M124.20 10.30h8.30M909.00 10.30h-8.30" stroke="#262626" stroke-width="1.50" fill="none"/>
<rect x="124.20" y="10.30" width="784.80" height="605.60" stroke="#262626" stroke-width="1.50" fill="none"/>
<path d="M1050.20 615.90v-8.30M1050.20 10.30v8.30M1180.98 615.90v-8.30M1180.98 10.30v8.30M1311.77 615.90v-8.30M1311.77 10.30v8.30M1442.55 615.90v-8.30M1442.55 10.30v8.30M1573.33 615.90v-8.30M1573.33 10.30v8.30M1704.12 615.90v-8.30M1704.12 10.30v8.30M1834.90 615.90v-8.30M1834.90 10.30v8.30M1050.20 615.90h8.30M1834.90 615.90h-8.30M1050.20 540.20h8.30M1834.90 540.20h-8.30M1050.20 464.50h8.30M1834.90 464.50h-8.30M1050.20 388.80h8.30M1834.90 388.80h-8.30M1050.20 313.10h8.30M1834.90 313.10h-8.30M1050.20 237.40h8.30M1834.90 237.40h-8.30M1050.20 161.70h8.30M1834.90 161.70h-8.30M1050.20 86.00h8.30M1834.90 86.00h-8.30M1050.20 10.30h8.30M1834.90 10.30h-8.30" stroke="#262626" stroke-width="1.50" fill="none"/>
<rect x="1050.20" y="10.30" width="784.70" height="605.60" stroke="#262626" stroke-width="1.50" fill="none"/>
<path d="M110.10 1444.90v-8.45M110.10 828.00v8.45M243.30 1444.90v-8.45M243.30 828.00v8.45M376.50 1444.90v-8.45M376.50 828.00v8.45M509.70 1444.90v-8.45M509.70 828.00v8.45M642.90 1444.90v-8.45M642.90 828.00v8.45M776.10 1444.90v-8.45M776.10 828.00v8.45M909.30 1444.90v-8.45M909.30 828.00v8.45M110.10 1444.90h8.45M909.30 1444.90h-8.45M110.10 1290.68h8.45M909.30 1290.68h-8.45M110.10 1136.45h8.45M909.30 1136.45h-8.45M110.10 982.23h8.45M909.30 982.23h-8.45M110.10 828.00h8.45M909.30 828.00h-8.45" stroke="#262626" stroke-width="1.53" fill="none"/>
<rect x="110.10" y="828.00" width="799.20" height="616.90" stroke="#262626" stroke-width="1.53" fill="none"/>
<path d="M1036.10 1444.90v-8.45M1036.10 828.00v8.45M1169.27 1444.90v-8.45M1169.27 828.00v8.45M1302.43 1444.90v-8.45M1302.43 828.00v8.45M1435.60 1444.90v-8.45M1435.60 828.00v8.45M1568.77 1444.90v-8.45M1568.77 828.00v8.45M1701.93 1444.90v-8.45M1701.93 828.00v8.45M1835.10 1444.90v-8.45M1835.10 828.00v8.45M1036.10 1444.90h8.45M1835.10 1444.90h-8.45M1036.10 1290.68h8.45M1835.10 1290.68h-8.45M1036.10 1136.45h8.45M1835.10 1136.45h-8.45M1036.10 982.23h8.45M1835.10 982.23h-8.45M1036.10 828.00h8.45M1835.10 828.00h-8.45" stroke="#262626" stroke-width="1.53" fill="none"/>
<rect x="1036.10" y="828.00" width="799.00" height="616.90" stroke="#262626" stroke-width="1.53" fill="none"/>
<rect x="144.10" y="30.20" width="199.00" height="117.10" fill="#fff" stroke="#262626" stroke-width="1.40"/>
<path d="M151.10 51.40H223.80" stroke="#0072BD" stroke-width="5.30"/>
<text x="229.10" y="62.80" font-size="30.50">4 mm/s</text>
<path d="M151.10 88.70H223.80" stroke="#D95319" stroke-width="5.30"/>
<text x="229.10" y="100.10" font-size="30.50">8 mm/s</text>
<path d="M151.10 126.00H223.80" stroke="#EDB120" stroke-width="5.30"/>
<text x="229.10" y="137.40" font-size="30.50">12 mm/s</text>
<rect x="1070.10" y="30.20" width="199.00" height="117.10" fill="#fff" stroke="#262626" stroke-width="1.40"/>
<path d="M1077.10 51.40H1149.80" stroke="#0072BD" stroke-width="5.30"/>
<text x="1155.10" y="62.80" font-size="30.50">4 mm/s</text>
<path d="M1077.10 88.70H1149.80" stroke="#D95319" stroke-width="5.30"/>
<text x="1155.10" y="100.10" font-size="30.50">8 mm/s</text>
<path d="M1077.10 126.00H1149.80" stroke="#EDB120" stroke-width="5.30"/>
<text x="1155.10" y="137.40" font-size="30.50">12 mm/s</text>
<rect x="130.40" y="848.30" width="202.40" height="119.40" fill="#fff" stroke="#262626" stroke-width="1.43"/>
<path d="M137.53 869.89H211.57" stroke="#0072BD" stroke-width="5.40"/>
<text x="216.97" y="881.50" font-size="31.06">4 mm/s</text>
<path d="M137.53 907.88H211.57" stroke="#D95319" stroke-width="5.40"/>
<text x="216.97" y="919.49" font-size="31.06">8 mm/s</text>
<path d="M137.53 945.87H211.57" stroke="#EDB120" stroke-width="5.40"/>
<text x="216.97" y="957.48" font-size="31.06">12 mm/s</text>
<rect x="1056.00" y="848.30" width="202.40" height="119.40" fill="#fff" stroke="#262626" stroke-width="1.43"/>
<path d="M1063.13 869.89H1137.17" stroke="#0072BD" stroke-width="5.40"/>
<text x="1142.57" y="881.50" font-size="31.06">4 mm/s</text>
<path d="M1063.13 907.88H1137.17" stroke="#D95319" stroke-width="5.40"/>
<text x="1142.57" y="919.49" font-size="31.06">8 mm/s</text>
<path d="M1063.13 945.87H1137.17" stroke="#EDB120" stroke-width="5.40"/>
<text x="1142.57" y="957.48" font-size="31.06">12 mm/s</text>
<g fill="#262626">
<text x="124.20" y="660.50" font-size="35.00" text-anchor="middle">-30</text>
<text x="255.00" y="660.50" font-size="35.00" text-anchor="middle">-20</text>
<text x="385.80" y="660.50" font-size="35.00" text-anchor="middle">-10</text>
<text x="516.60" y="660.50" font-size="35.00" text-anchor="middle">0</text>
<text x="647.40" y="660.50" font-size="35.00" text-anchor="middle">10</text>
<text x="778.20" y="660.50" font-size="35.00" text-anchor="middle">20</text>
<text x="909.00" y="660.50" font-size="35.00" text-anchor="middle">30</text>
<text x="111.80" y="628.30" font-size="35.00" text-anchor="end">-0.2</text>
<text x="111.80" y="552.60" font-size="35.00" text-anchor="end">-0.15</text>
<text x="111.80" y="476.90" font-size="35.00" text-anchor="end">-0.1</text>
<text x="111.80" y="401.20" font-size="35.00" text-anchor="end">-0.05</text>
<text x="111.80" y="325.50" font-size="35.00" text-anchor="end">0</text>
<text x="111.80" y="249.80" font-size="35.00" text-anchor="end">0.05</text>
<text x="111.80" y="174.10" font-size="35.00" text-anchor="end">0.1</text>
<text x="111.80" y="98.40" font-size="35.00" text-anchor="end">0.15</text>
<text x="111.80" y="22.70" font-size="35.00" text-anchor="end">0.2</text>
<text x="520.00" y="705.20" font-size="38.20" text-anchor="middle"><tspan font-style="italic">x</tspan>, mm</text>
<g transform="translate(26.70 0) rotate(-90)" font-size="38.20">
<text x="-371.60" y="0" textLength="30.80" lengthAdjust="spacingAndGlyphs">&#916;</text>
<text x="-331.95" y="0"><tspan font-style="italic">p</tspan>, bar</text>
</g>
</g>
<g fill="#262626">
<text x="1050.20" y="660.50" font-size="35.00" text-anchor="middle">-15</text>
<text x="1180.98" y="660.50" font-size="35.00" text-anchor="middle">-10</text>
<text x="1311.77" y="660.50" font-size="35.00" text-anchor="middle">-5</text>
<text x="1442.55" y="660.50" font-size="35.00" text-anchor="middle">0</text>
<text x="1573.33" y="660.50" font-size="35.00" text-anchor="middle">5</text>
<text x="1704.12" y="660.50" font-size="35.00" text-anchor="middle">10</text>
<text x="1834.90" y="660.50" font-size="35.00" text-anchor="middle">15</text>
<text x="1037.80" y="628.30" font-size="35.00" text-anchor="end">-0.2</text>
<text x="1037.80" y="552.60" font-size="35.00" text-anchor="end">-0.15</text>
<text x="1037.80" y="476.90" font-size="35.00" text-anchor="end">-0.1</text>
<text x="1037.80" y="401.20" font-size="35.00" text-anchor="end">-0.05</text>
<text x="1037.80" y="325.50" font-size="35.00" text-anchor="end">0</text>
<text x="1037.80" y="249.80" font-size="35.00" text-anchor="end">0.05</text>
<text x="1037.80" y="174.10" font-size="35.00" text-anchor="end">0.1</text>
<text x="1037.80" y="98.40" font-size="35.00" text-anchor="end">0.15</text>
<text x="1037.80" y="22.70" font-size="35.00" text-anchor="end">0.2</text>
<text x="1445.95" y="705.20" font-size="38.20" text-anchor="middle"><tspan font-style="italic">v</tspan>, mm/s</text>
<g transform="translate(952.40 0) rotate(-90)" font-size="38.20">
<text x="-371.60" y="0" textLength="30.80" lengthAdjust="spacingAndGlyphs">&#916;</text>
<text x="-331.95" y="0"><tspan font-style="italic">p</tspan>, bar</text>
</g>
</g>
<g fill="#262626">
<text x="110.10" y="1490.33" font-size="35.65" text-anchor="middle">-30</text>
<text x="243.30" y="1490.33" font-size="35.65" text-anchor="middle">-20</text>
<text x="376.50" y="1490.33" font-size="35.65" text-anchor="middle">-10</text>
<text x="509.70" y="1490.33" font-size="35.65" text-anchor="middle">0</text>
<text x="642.90" y="1490.33" font-size="35.65" text-anchor="middle">10</text>
<text x="776.10" y="1490.33" font-size="35.65" text-anchor="middle">20</text>
<text x="909.30" y="1490.33" font-size="35.65" text-anchor="middle">30</text>
<text x="97.47" y="1457.53" font-size="35.65" text-anchor="end">-1</text>
<text x="97.47" y="1303.30" font-size="35.65" text-anchor="end">-0.5</text>
<text x="97.47" y="1149.08" font-size="35.65" text-anchor="end">0</text>
<text x="97.47" y="994.85" font-size="35.65" text-anchor="end">0.5</text>
<text x="97.47" y="840.63" font-size="35.65" text-anchor="end">1</text>
<text x="513.16" y="1535.85" font-size="38.91" text-anchor="middle"><tspan font-style="italic">x</tspan>, mm</text>
<g transform="translate(27.00 0) rotate(-90)" font-size="38.91">
<text x="-1196.03" y="0" textLength="31.37" lengthAdjust="spacingAndGlyphs">&#916;</text>
<text x="-1155.65" y="0"><tspan font-style="italic">p</tspan>, bar</text>
</g>
</g>
<g fill="#262626">
<text x="1036.10" y="1490.33" font-size="35.65" text-anchor="middle">-15</text>
<text x="1169.27" y="1490.33" font-size="35.65" text-anchor="middle">-10</text>
<text x="1302.43" y="1490.33" font-size="35.65" text-anchor="middle">-5</text>
<text x="1435.60" y="1490.33" font-size="35.65" text-anchor="middle">0</text>
<text x="1568.77" y="1490.33" font-size="35.65" text-anchor="middle">5</text>
<text x="1701.93" y="1490.33" font-size="35.65" text-anchor="middle">10</text>
<text x="1835.10" y="1490.33" font-size="35.65" text-anchor="middle">15</text>
<text x="1023.47" y="1457.53" font-size="35.65" text-anchor="end">-1</text>
<text x="1023.47" y="1303.30" font-size="35.65" text-anchor="end">-0.5</text>
<text x="1023.47" y="1149.08" font-size="35.65" text-anchor="end">0</text>
<text x="1023.47" y="994.85" font-size="35.65" text-anchor="end">0.5</text>
<text x="1023.47" y="840.63" font-size="35.65" text-anchor="end">1</text>
<text x="1439.06" y="1535.85" font-size="38.91" text-anchor="middle"><tspan font-style="italic">v</tspan>, mm/s</text>
<g transform="translate(952.90 0) rotate(-90)" font-size="38.91">
<text x="-1196.03" y="0" textLength="31.37" lengthAdjust="spacingAndGlyphs">&#916;</text>
<text x="-1155.65" y="0"><tspan font-style="italic">p</tspan>, bar</text>
</g>
</g>
<text x="279.13" y="781.80" font-size="44.00">(a)</text>
<text x="350.00" y="781.80" font-size="44.00" font-style="italic">I</text>
<text x="379.99" y="781.80" font-size="44.00" textLength="34.06" lengthAdjust="spacingAndGlyphs">=</text>
<text x="424.95" y="781.80" font-size="44.00">0</text>
<text x="461.02" y="781.80" font-size="44.00">A:</text>
<text x="518.43" y="781.80" font-size="44.00" textLength="35.02" lengthAdjust="spacingAndGlyphs">Δ</text>
<text x="554.46" y="781.80" font-size="44.00" font-style="italic">p</text>
<text x="585.38" y="781.80" font-size="44.00" textLength="30.78" lengthAdjust="spacingAndGlyphs">−</text>
<text x="628.77" y="781.80" font-size="44.00" font-style="italic">x</text>
<text x="1204.90" y="781.80" font-size="44.00">(b)</text>
<text x="1278.40" y="781.80" font-size="44.00" font-style="italic">I</text>
<text x="1308.04" y="781.80" font-size="44.00" textLength="34.66" lengthAdjust="spacingAndGlyphs">=</text>
<text x="1353.35" y="781.80" font-size="44.00">0</text>
<text x="1389.32" y="781.80" font-size="44.00">A:</text>
<text x="1446.53" y="781.80" font-size="44.00" textLength="35.02" lengthAdjust="spacingAndGlyphs">Δ</text>
<text x="1482.56" y="781.80" font-size="44.00" font-style="italic">p</text>
<text x="1513.48" y="781.80" font-size="44.00" textLength="30.78" lengthAdjust="spacingAndGlyphs">−</text>
<text x="1555.08" y="781.80" font-size="44.00" font-style="italic">v</text>
<text x="252.08" y="1612.20" font-size="44.00">(c)</text>
<text x="321.90" y="1612.20" font-size="44.00" font-style="italic">I</text>
<text x="352.01" y="1612.20" font-size="44.00" textLength="33.81" lengthAdjust="spacingAndGlyphs">=</text>
<text x="396.18" y="1612.20" font-size="44.00">1.75</text>
<text x="487.07" y="1612.20" font-size="44.00">A:</text>
<text x="544.20" y="1612.20" font-size="44.00" textLength="35.48" lengthAdjust="spacingAndGlyphs">Δ</text>
<text x="579.96" y="1612.20" font-size="44.00" font-style="italic">p</text>
<text x="610.93" y="1612.20" font-size="44.00" textLength="31.39" lengthAdjust="spacingAndGlyphs">−</text>
<text x="654.52" y="1612.20" font-size="44.00" font-style="italic">x</text>
<text x="1177.65" y="1612.20" font-size="44.00">(d)</text>
<text x="1250.90" y="1612.20" font-size="44.00" font-style="italic">I</text>
<text x="1281.37" y="1612.20" font-size="44.00" textLength="34.30" lengthAdjust="spacingAndGlyphs">=</text>
<text x="1325.23" y="1612.20" font-size="44.00">1.75</text>
<text x="1416.47" y="1612.20" font-size="44.00">A:</text>
<text x="1473.40" y="1612.20" font-size="44.00" textLength="35.48" lengthAdjust="spacingAndGlyphs">Δ</text>
<text x="1509.16" y="1612.20" font-size="44.00" font-style="italic">p</text>
<text x="1540.13" y="1612.20" font-size="44.00" textLength="31.39" lengthAdjust="spacingAndGlyphs">−</text>
<text x="1582.98" y="1612.20" font-size="44.00" font-style="italic">v</text>
</svg>
</body></html>
